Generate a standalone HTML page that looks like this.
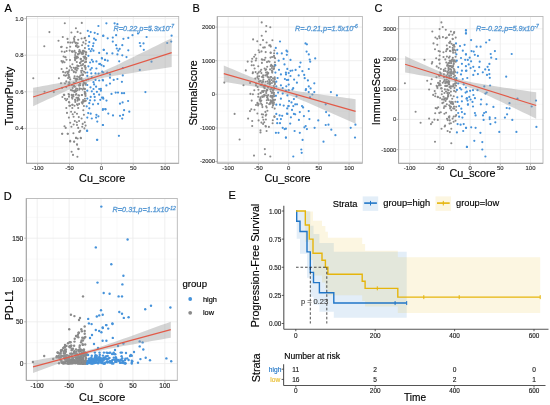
<!DOCTYPE html>
<html><head><meta charset="utf-8"><style>
html,body{margin:0;padding:0;background:#fff;width:550px;height:405px;overflow:hidden}
svg{display:block;filter:blur(0.35px)}
text{font-family:"Liberation Sans", sans-serif}
</style></head><body>
<svg width="550" height="405" viewBox="0 0 550 405" font-family='"Liberation Sans", sans-serif'>
<rect width="550" height="405" fill="#fff"/>
<line x1="53.55" y1="16.5" x2="53.55" y2="163.3" stroke="#F3F3F3" stroke-width="0.5"/>
<line x1="85.45" y1="16.5" x2="85.45" y2="163.3" stroke="#F3F3F3" stroke-width="0.5"/>
<line x1="117.35" y1="16.5" x2="117.35" y2="163.3" stroke="#F3F3F3" stroke-width="0.5"/>
<line x1="149.25" y1="16.5" x2="149.25" y2="163.3" stroke="#F3F3F3" stroke-width="0.5"/>
<line x1="26.5" y1="36.90" x2="178.7" y2="36.90" stroke="#F3F3F3" stroke-width="0.5"/>
<line x1="26.5" y1="73.50" x2="178.7" y2="73.50" stroke="#F3F3F3" stroke-width="0.5"/>
<line x1="26.5" y1="110.10" x2="178.7" y2="110.10" stroke="#F3F3F3" stroke-width="0.5"/>
<line x1="26.5" y1="146.70" x2="178.7" y2="146.70" stroke="#F3F3F3" stroke-width="0.5"/>
<line x1="37.60" y1="16.5" x2="37.60" y2="163.3" stroke="#EBEBEB" stroke-width="0.8"/>
<line x1="69.50" y1="16.5" x2="69.50" y2="163.3" stroke="#EBEBEB" stroke-width="0.8"/>
<line x1="101.40" y1="16.5" x2="101.40" y2="163.3" stroke="#EBEBEB" stroke-width="0.8"/>
<line x1="133.30" y1="16.5" x2="133.30" y2="163.3" stroke="#EBEBEB" stroke-width="0.8"/>
<line x1="165.20" y1="16.5" x2="165.20" y2="163.3" stroke="#EBEBEB" stroke-width="0.8"/>
<line x1="26.5" y1="18.60" x2="178.7" y2="18.60" stroke="#EBEBEB" stroke-width="0.8"/>
<line x1="26.5" y1="55.20" x2="178.7" y2="55.20" stroke="#EBEBEB" stroke-width="0.8"/>
<line x1="26.5" y1="91.80" x2="178.7" y2="91.80" stroke="#EBEBEB" stroke-width="0.8"/>
<line x1="26.5" y1="128.40" x2="178.7" y2="128.40" stroke="#EBEBEB" stroke-width="0.8"/>
<circle cx="68.1" cy="78.0" r="1.05" fill="#8A8A8A"/>
<circle cx="79.9" cy="51.6" r="1.05" fill="#8A8A8A"/>
<circle cx="68.9" cy="102.0" r="1.05" fill="#8A8A8A"/>
<circle cx="65.5" cy="57.3" r="1.05" fill="#8A8A8A"/>
<circle cx="85.6" cy="84.8" r="1.05" fill="#8A8A8A"/>
<circle cx="75.2" cy="78.6" r="1.05" fill="#8A8A8A"/>
<circle cx="81.0" cy="65.4" r="1.05" fill="#8A8A8A"/>
<circle cx="68.5" cy="94.1" r="1.05" fill="#8A8A8A"/>
<circle cx="81.2" cy="78.7" r="1.05" fill="#8A8A8A"/>
<circle cx="83.6" cy="80.7" r="1.05" fill="#8A8A8A"/>
<circle cx="86.0" cy="61.5" r="1.05" fill="#8A8A8A"/>
<circle cx="79.1" cy="77.1" r="1.05" fill="#8A8A8A"/>
<circle cx="74.8" cy="83.1" r="1.05" fill="#8A8A8A"/>
<circle cx="71.7" cy="94.9" r="1.05" fill="#8A8A8A"/>
<circle cx="84.4" cy="57.2" r="1.05" fill="#8A8A8A"/>
<circle cx="77.3" cy="65.5" r="1.05" fill="#8A8A8A"/>
<circle cx="66.2" cy="100.2" r="1.05" fill="#8A8A8A"/>
<circle cx="76.6" cy="58.3" r="1.05" fill="#8A8A8A"/>
<circle cx="81.2" cy="61.3" r="1.05" fill="#8A8A8A"/>
<circle cx="84.9" cy="62.2" r="1.05" fill="#8A8A8A"/>
<circle cx="63.1" cy="61.2" r="1.05" fill="#8A8A8A"/>
<circle cx="74.6" cy="76.3" r="1.05" fill="#8A8A8A"/>
<circle cx="84.9" cy="89.1" r="1.05" fill="#8A8A8A"/>
<circle cx="74.5" cy="50.9" r="1.05" fill="#8A8A8A"/>
<circle cx="69.3" cy="105.8" r="1.05" fill="#8A8A8A"/>
<circle cx="77.2" cy="88.7" r="1.05" fill="#8A8A8A"/>
<circle cx="64.6" cy="51.9" r="1.05" fill="#8A8A8A"/>
<circle cx="84.0" cy="82.9" r="1.05" fill="#8A8A8A"/>
<circle cx="73.7" cy="67.8" r="1.05" fill="#8A8A8A"/>
<circle cx="66.5" cy="59.7" r="1.05" fill="#8A8A8A"/>
<circle cx="62.4" cy="97.0" r="1.05" fill="#8A8A8A"/>
<circle cx="77.3" cy="57.1" r="1.05" fill="#8A8A8A"/>
<circle cx="82.3" cy="61.0" r="1.05" fill="#8A8A8A"/>
<circle cx="65.0" cy="83.5" r="1.05" fill="#8A8A8A"/>
<circle cx="84.8" cy="51.5" r="1.05" fill="#8A8A8A"/>
<circle cx="83.4" cy="60.6" r="1.05" fill="#8A8A8A"/>
<circle cx="66.6" cy="51.0" r="1.05" fill="#8A8A8A"/>
<circle cx="73.3" cy="90.7" r="1.05" fill="#8A8A8A"/>
<circle cx="77.9" cy="97.8" r="1.05" fill="#8A8A8A"/>
<circle cx="71.2" cy="67.7" r="1.05" fill="#8A8A8A"/>
<circle cx="72.4" cy="104.8" r="1.05" fill="#8A8A8A"/>
<circle cx="85.5" cy="69.1" r="1.05" fill="#8A8A8A"/>
<circle cx="76.7" cy="67.6" r="1.05" fill="#8A8A8A"/>
<circle cx="82.5" cy="52.2" r="1.05" fill="#8A8A8A"/>
<circle cx="65.3" cy="72.6" r="1.05" fill="#8A8A8A"/>
<circle cx="72.0" cy="97.3" r="1.05" fill="#8A8A8A"/>
<circle cx="82.4" cy="80.6" r="1.05" fill="#8A8A8A"/>
<circle cx="81.0" cy="88.8" r="1.05" fill="#8A8A8A"/>
<circle cx="83.0" cy="101.9" r="1.05" fill="#8A8A8A"/>
<circle cx="69.0" cy="85.1" r="1.05" fill="#8A8A8A"/>
<circle cx="68.7" cy="74.8" r="1.05" fill="#8A8A8A"/>
<circle cx="83.1" cy="100.1" r="1.05" fill="#8A8A8A"/>
<circle cx="82.7" cy="52.0" r="1.05" fill="#8A8A8A"/>
<circle cx="75.0" cy="59.1" r="1.05" fill="#8A8A8A"/>
<circle cx="86.3" cy="58.1" r="1.05" fill="#8A8A8A"/>
<circle cx="72.0" cy="70.0" r="1.05" fill="#8A8A8A"/>
<circle cx="65.0" cy="98.7" r="1.05" fill="#8A8A8A"/>
<circle cx="80.6" cy="58.9" r="1.05" fill="#8A8A8A"/>
<circle cx="78.0" cy="54.4" r="1.05" fill="#8A8A8A"/>
<circle cx="80.1" cy="63.0" r="1.05" fill="#8A8A8A"/>
<circle cx="63.6" cy="56.5" r="1.05" fill="#8A8A8A"/>
<circle cx="79.1" cy="85.7" r="1.05" fill="#8A8A8A"/>
<circle cx="74.1" cy="86.0" r="1.05" fill="#8A8A8A"/>
<circle cx="74.8" cy="57.3" r="1.05" fill="#8A8A8A"/>
<circle cx="73.9" cy="72.1" r="1.05" fill="#8A8A8A"/>
<circle cx="85.0" cy="56.5" r="1.05" fill="#8A8A8A"/>
<circle cx="66.3" cy="81.4" r="1.05" fill="#8A8A8A"/>
<circle cx="85.8" cy="100.8" r="1.05" fill="#8A8A8A"/>
<circle cx="81.7" cy="53.7" r="1.05" fill="#8A8A8A"/>
<circle cx="83.4" cy="88.3" r="1.05" fill="#8A8A8A"/>
<circle cx="68.7" cy="76.0" r="1.05" fill="#8A8A8A"/>
<circle cx="64.3" cy="94.9" r="1.05" fill="#8A8A8A"/>
<circle cx="82.0" cy="95.1" r="1.05" fill="#8A8A8A"/>
<circle cx="82.7" cy="65.0" r="1.05" fill="#8A8A8A"/>
<circle cx="83.1" cy="64.0" r="1.05" fill="#8A8A8A"/>
<circle cx="68.5" cy="71.9" r="1.05" fill="#8A8A8A"/>
<circle cx="78.0" cy="66.0" r="1.05" fill="#8A8A8A"/>
<circle cx="80.0" cy="83.7" r="1.05" fill="#8A8A8A"/>
<circle cx="71.9" cy="84.9" r="1.05" fill="#8A8A8A"/>
<circle cx="74.9" cy="91.1" r="1.05" fill="#8A8A8A"/>
<circle cx="73.3" cy="94.7" r="1.05" fill="#8A8A8A"/>
<circle cx="76.2" cy="81.0" r="1.05" fill="#8A8A8A"/>
<circle cx="81.2" cy="79.0" r="1.05" fill="#8A8A8A"/>
<circle cx="72.4" cy="104.8" r="1.05" fill="#8A8A8A"/>
<circle cx="66.8" cy="68.2" r="1.05" fill="#8A8A8A"/>
<circle cx="79.0" cy="51.6" r="1.05" fill="#8A8A8A"/>
<circle cx="69.1" cy="94.8" r="1.05" fill="#8A8A8A"/>
<circle cx="83.1" cy="85.7" r="1.05" fill="#8A8A8A"/>
<circle cx="84.9" cy="92.3" r="1.05" fill="#8A8A8A"/>
<circle cx="73.5" cy="86.1" r="1.05" fill="#8A8A8A"/>
<circle cx="74.5" cy="92.0" r="1.05" fill="#8A8A8A"/>
<circle cx="75.6" cy="58.6" r="1.05" fill="#8A8A8A"/>
<circle cx="84.5" cy="88.7" r="1.05" fill="#8A8A8A"/>
<circle cx="82.4" cy="81.3" r="1.05" fill="#8A8A8A"/>
<circle cx="83.0" cy="75.1" r="1.05" fill="#8A8A8A"/>
<circle cx="79.3" cy="53.5" r="1.05" fill="#8A8A8A"/>
<circle cx="79.1" cy="95.6" r="1.05" fill="#8A8A8A"/>
<circle cx="81.8" cy="95.0" r="1.05" fill="#8A8A8A"/>
<circle cx="77.9" cy="99.4" r="1.05" fill="#8A8A8A"/>
<circle cx="67.3" cy="99.0" r="1.05" fill="#8A8A8A"/>
<circle cx="75.2" cy="55.1" r="1.05" fill="#8A8A8A"/>
<circle cx="80.3" cy="75.5" r="1.05" fill="#8A8A8A"/>
<circle cx="76.5" cy="97.7" r="1.05" fill="#8A8A8A"/>
<circle cx="68.5" cy="84.5" r="1.05" fill="#8A8A8A"/>
<circle cx="76.2" cy="79.6" r="1.05" fill="#8A8A8A"/>
<circle cx="78.0" cy="57.5" r="1.05" fill="#8A8A8A"/>
<circle cx="78.3" cy="98.3" r="1.05" fill="#8A8A8A"/>
<circle cx="69.7" cy="50.6" r="1.05" fill="#8A8A8A"/>
<circle cx="65.4" cy="75.7" r="1.05" fill="#8A8A8A"/>
<circle cx="85.9" cy="52.5" r="1.05" fill="#8A8A8A"/>
<circle cx="86.2" cy="80.0" r="1.05" fill="#8A8A8A"/>
<circle cx="67.8" cy="73.4" r="1.05" fill="#8A8A8A"/>
<circle cx="70.9" cy="90.0" r="1.05" fill="#8A8A8A"/>
<circle cx="78.8" cy="66.1" r="1.05" fill="#8A8A8A"/>
<circle cx="72.3" cy="98.6" r="1.05" fill="#8A8A8A"/>
<circle cx="82.8" cy="74.4" r="1.05" fill="#8A8A8A"/>
<circle cx="76.0" cy="91.3" r="1.05" fill="#8A8A8A"/>
<circle cx="85.9" cy="54.5" r="1.05" fill="#8A8A8A"/>
<circle cx="69.3" cy="70.3" r="1.05" fill="#8A8A8A"/>
<circle cx="78.2" cy="54.0" r="1.05" fill="#8A8A8A"/>
<circle cx="64.5" cy="62.3" r="1.05" fill="#8A8A8A"/>
<circle cx="75.6" cy="91.4" r="1.05" fill="#8A8A8A"/>
<circle cx="80.1" cy="51.6" r="1.05" fill="#8A8A8A"/>
<circle cx="64.0" cy="75.3" r="1.05" fill="#8A8A8A"/>
<circle cx="84.5" cy="101.2" r="1.05" fill="#8A8A8A"/>
<circle cx="75.1" cy="99.7" r="1.05" fill="#8A8A8A"/>
<circle cx="85.3" cy="72.8" r="1.05" fill="#8A8A8A"/>
<circle cx="82.4" cy="70.5" r="1.05" fill="#8A8A8A"/>
<circle cx="69.1" cy="82.2" r="1.05" fill="#8A8A8A"/>
<circle cx="66.3" cy="87.1" r="1.05" fill="#8A8A8A"/>
<circle cx="83.5" cy="101.3" r="1.05" fill="#8A8A8A"/>
<circle cx="76.9" cy="56.6" r="1.05" fill="#8A8A8A"/>
<circle cx="84.9" cy="98.7" r="1.05" fill="#8A8A8A"/>
<circle cx="85.8" cy="83.3" r="1.05" fill="#8A8A8A"/>
<circle cx="81.2" cy="70.9" r="1.05" fill="#8A8A8A"/>
<circle cx="70.1" cy="66.3" r="1.05" fill="#8A8A8A"/>
<circle cx="82.0" cy="68.2" r="1.05" fill="#8A8A8A"/>
<circle cx="81.5" cy="78.1" r="1.05" fill="#8A8A8A"/>
<circle cx="77.0" cy="104.2" r="1.05" fill="#8A8A8A"/>
<circle cx="69.5" cy="77.3" r="1.05" fill="#8A8A8A"/>
<circle cx="69.3" cy="102.5" r="1.05" fill="#8A8A8A"/>
<circle cx="77.8" cy="68.6" r="1.05" fill="#8A8A8A"/>
<circle cx="69.6" cy="83.3" r="1.05" fill="#8A8A8A"/>
<circle cx="75.9" cy="57.1" r="1.05" fill="#8A8A8A"/>
<circle cx="63.1" cy="71.9" r="1.05" fill="#8A8A8A"/>
<circle cx="79.6" cy="79.1" r="1.05" fill="#8A8A8A"/>
<circle cx="84.8" cy="101.1" r="1.05" fill="#8A8A8A"/>
<circle cx="85.4" cy="94.8" r="1.05" fill="#8A8A8A"/>
<circle cx="77.6" cy="79.3" r="1.05" fill="#8A8A8A"/>
<circle cx="75.8" cy="72.4" r="1.05" fill="#8A8A8A"/>
<circle cx="63.8" cy="94.7" r="1.05" fill="#8A8A8A"/>
<circle cx="72.0" cy="51.6" r="1.05" fill="#8A8A8A"/>
<circle cx="77.3" cy="90.2" r="1.05" fill="#8A8A8A"/>
<circle cx="76.7" cy="70.4" r="1.05" fill="#8A8A8A"/>
<circle cx="81.0" cy="59.1" r="1.05" fill="#8A8A8A"/>
<circle cx="61.0" cy="83.2" r="1.05" fill="#8A8A8A"/>
<circle cx="78.6" cy="98.5" r="1.05" fill="#8A8A8A"/>
<circle cx="76.3" cy="94.0" r="1.05" fill="#8A8A8A"/>
<circle cx="61.8" cy="51.5" r="1.05" fill="#8A8A8A"/>
<circle cx="79.9" cy="62.7" r="1.05" fill="#8A8A8A"/>
<circle cx="65.3" cy="57.2" r="1.05" fill="#8A8A8A"/>
<circle cx="75.3" cy="68.9" r="1.05" fill="#8A8A8A"/>
<circle cx="79.2" cy="99.7" r="1.05" fill="#8A8A8A"/>
<circle cx="75.1" cy="60.3" r="1.05" fill="#8A8A8A"/>
<circle cx="79.5" cy="50.1" r="1.05" fill="#8A8A8A"/>
<circle cx="75.6" cy="67.8" r="1.05" fill="#8A8A8A"/>
<circle cx="75.6" cy="52.8" r="1.05" fill="#8A8A8A"/>
<circle cx="79.1" cy="85.0" r="1.05" fill="#8A8A8A"/>
<circle cx="82.5" cy="103.6" r="1.05" fill="#8A8A8A"/>
<circle cx="74.9" cy="86.8" r="1.05" fill="#8A8A8A"/>
<circle cx="76.8" cy="62.0" r="1.05" fill="#8A8A8A"/>
<circle cx="84.7" cy="91.8" r="1.05" fill="#8A8A8A"/>
<circle cx="85.5" cy="96.0" r="1.05" fill="#8A8A8A"/>
<circle cx="85.1" cy="57.2" r="1.05" fill="#8A8A8A"/>
<circle cx="61.5" cy="61.1" r="1.05" fill="#8A8A8A"/>
<circle cx="76.2" cy="88.5" r="1.05" fill="#8A8A8A"/>
<circle cx="76.7" cy="78.7" r="1.05" fill="#8A8A8A"/>
<circle cx="82.7" cy="54.0" r="1.05" fill="#8A8A8A"/>
<circle cx="81.3" cy="52.7" r="1.05" fill="#8A8A8A"/>
<circle cx="72.1" cy="90.4" r="1.05" fill="#8A8A8A"/>
<circle cx="81.4" cy="72.7" r="1.05" fill="#8A8A8A"/>
<circle cx="73.4" cy="96.4" r="1.05" fill="#8A8A8A"/>
<circle cx="72.8" cy="51.7" r="1.05" fill="#8A8A8A"/>
<circle cx="72.1" cy="51.2" r="1.05" fill="#8A8A8A"/>
<circle cx="83.5" cy="56.8" r="1.05" fill="#8A8A8A"/>
<circle cx="85.9" cy="61.9" r="1.05" fill="#8A8A8A"/>
<circle cx="73.7" cy="82.8" r="1.05" fill="#8A8A8A"/>
<circle cx="73.7" cy="71.2" r="1.05" fill="#8A8A8A"/>
<circle cx="67.1" cy="71.8" r="1.05" fill="#8A8A8A"/>
<circle cx="62.5" cy="62.5" r="1.05" fill="#8A8A8A"/>
<circle cx="85.0" cy="65.7" r="1.05" fill="#8A8A8A"/>
<circle cx="72.7" cy="88.0" r="1.05" fill="#8A8A8A"/>
<circle cx="84.6" cy="66.6" r="1.05" fill="#8A8A8A"/>
<circle cx="75.4" cy="90.0" r="1.05" fill="#8A8A8A"/>
<circle cx="83.2" cy="84.4" r="1.05" fill="#8A8A8A"/>
<circle cx="70.0" cy="60.1" r="1.05" fill="#8A8A8A"/>
<circle cx="82.6" cy="89.6" r="1.05" fill="#8A8A8A"/>
<circle cx="84.8" cy="93.7" r="1.05" fill="#8A8A8A"/>
<circle cx="76.4" cy="57.5" r="1.05" fill="#8A8A8A"/>
<circle cx="84.7" cy="89.0" r="1.05" fill="#8A8A8A"/>
<circle cx="79.5" cy="88.2" r="1.05" fill="#8A8A8A"/>
<circle cx="75.6" cy="69.2" r="1.05" fill="#8A8A8A"/>
<circle cx="79.5" cy="77.0" r="1.05" fill="#8A8A8A"/>
<circle cx="81.8" cy="102.4" r="1.05" fill="#8A8A8A"/>
<circle cx="84.0" cy="71.7" r="1.05" fill="#8A8A8A"/>
<circle cx="75.3" cy="101.9" r="1.05" fill="#8A8A8A"/>
<circle cx="75.8" cy="94.8" r="1.05" fill="#8A8A8A"/>
<circle cx="66.6" cy="75.3" r="1.05" fill="#8A8A8A"/>
<circle cx="78.3" cy="95.3" r="1.05" fill="#8A8A8A"/>
<circle cx="84.5" cy="58.5" r="1.05" fill="#8A8A8A"/>
<circle cx="80.2" cy="85.2" r="1.05" fill="#8A8A8A"/>
<circle cx="69.0" cy="96.7" r="1.05" fill="#8A8A8A"/>
<circle cx="79.1" cy="103.9" r="1.05" fill="#8A8A8A"/>
<circle cx="70.2" cy="79.4" r="1.05" fill="#8A8A8A"/>
<circle cx="74.1" cy="86.0" r="1.05" fill="#8A8A8A"/>
<circle cx="80.1" cy="78.7" r="1.05" fill="#8A8A8A"/>
<circle cx="74.1" cy="78.2" r="1.05" fill="#8A8A8A"/>
<circle cx="75.3" cy="99.9" r="1.05" fill="#8A8A8A"/>
<circle cx="77.2" cy="76.6" r="1.05" fill="#8A8A8A"/>
<circle cx="72.4" cy="64.2" r="1.05" fill="#8A8A8A"/>
<circle cx="85.6" cy="67.6" r="1.05" fill="#8A8A8A"/>
<circle cx="84.4" cy="83.3" r="1.05" fill="#8A8A8A"/>
<circle cx="86.0" cy="59.2" r="1.05" fill="#8A8A8A"/>
<circle cx="85.5" cy="93.3" r="1.05" fill="#8A8A8A"/>
<circle cx="79.3" cy="89.7" r="1.05" fill="#8A8A8A"/>
<circle cx="82.1" cy="75.1" r="1.05" fill="#8A8A8A"/>
<circle cx="80.5" cy="62.8" r="1.05" fill="#8A8A8A"/>
<circle cx="62.1" cy="87.9" r="1.05" fill="#8A8A8A"/>
<circle cx="77.5" cy="100.7" r="1.05" fill="#8A8A8A"/>
<circle cx="72.5" cy="95.8" r="1.05" fill="#8A8A8A"/>
<circle cx="86.2" cy="52.4" r="1.05" fill="#8A8A8A"/>
<circle cx="85.9" cy="40.5" r="1.05" fill="#8A8A8A"/>
<circle cx="74.2" cy="41.7" r="1.05" fill="#8A8A8A"/>
<circle cx="78.2" cy="39.8" r="1.05" fill="#8A8A8A"/>
<circle cx="73.9" cy="38.3" r="1.05" fill="#8A8A8A"/>
<circle cx="85.6" cy="43.8" r="1.05" fill="#8A8A8A"/>
<circle cx="82.1" cy="45.3" r="1.05" fill="#8A8A8A"/>
<circle cx="83.5" cy="50.9" r="1.05" fill="#8A8A8A"/>
<circle cx="78.6" cy="46.6" r="1.05" fill="#8A8A8A"/>
<circle cx="72.3" cy="42.6" r="1.05" fill="#8A8A8A"/>
<circle cx="75.6" cy="42.9" r="1.05" fill="#8A8A8A"/>
<circle cx="77.6" cy="47.2" r="1.05" fill="#8A8A8A"/>
<circle cx="77.7" cy="43.2" r="1.05" fill="#8A8A8A"/>
<circle cx="84.5" cy="38.2" r="1.05" fill="#8A8A8A"/>
<circle cx="67.5" cy="38.9" r="1.05" fill="#8A8A8A"/>
<circle cx="84.9" cy="48.1" r="1.05" fill="#8A8A8A"/>
<circle cx="83.3" cy="53.3" r="1.05" fill="#8A8A8A"/>
<circle cx="75.5" cy="52.7" r="1.05" fill="#8A8A8A"/>
<circle cx="76.0" cy="46.3" r="1.05" fill="#8A8A8A"/>
<circle cx="82.8" cy="50.8" r="1.05" fill="#8A8A8A"/>
<circle cx="76.1" cy="45.6" r="1.05" fill="#8A8A8A"/>
<circle cx="70.3" cy="42.6" r="1.05" fill="#8A8A8A"/>
<circle cx="64.8" cy="23.3" r="1.05" fill="#8A8A8A"/>
<circle cx="81.8" cy="22.9" r="1.05" fill="#8A8A8A"/>
<circle cx="49.4" cy="32.1" r="1.05" fill="#8A8A8A"/>
<circle cx="44.3" cy="46.2" r="1.05" fill="#8A8A8A"/>
<circle cx="33.3" cy="78.2" r="1.05" fill="#8A8A8A"/>
<circle cx="58.9" cy="78.2" r="1.05" fill="#8A8A8A"/>
<circle cx="61.6" cy="69.0" r="1.05" fill="#8A8A8A"/>
<circle cx="58.5" cy="40.7" r="1.05" fill="#8A8A8A"/>
<circle cx="61.1" cy="47.1" r="1.05" fill="#8A8A8A"/>
<circle cx="44.5" cy="91.7" r="1.05" fill="#8A8A8A"/>
<circle cx="53.8" cy="92.1" r="1.05" fill="#8A8A8A"/>
<circle cx="75.9" cy="28.3" r="1.05" fill="#8A8A8A"/>
<circle cx="71.4" cy="32.5" r="1.05" fill="#8A8A8A"/>
<circle cx="77.6" cy="31.9" r="1.05" fill="#8A8A8A"/>
<circle cx="80.5" cy="33.3" r="1.05" fill="#8A8A8A"/>
<circle cx="62.8" cy="37.0" r="1.05" fill="#8A8A8A"/>
<circle cx="74.8" cy="36.7" r="1.05" fill="#8A8A8A"/>
<circle cx="81.6" cy="38.5" r="1.05" fill="#8A8A8A"/>
<circle cx="85.0" cy="37.8" r="1.05" fill="#8A8A8A"/>
<circle cx="74.2" cy="39.9" r="1.05" fill="#8A8A8A"/>
<circle cx="68.0" cy="42.4" r="1.05" fill="#8A8A8A"/>
<circle cx="75.9" cy="42.7" r="1.05" fill="#8A8A8A"/>
<circle cx="83.3" cy="42.4" r="1.05" fill="#8A8A8A"/>
<circle cx="76.8" cy="45.3" r="1.05" fill="#8A8A8A"/>
<circle cx="61.7" cy="46.7" r="1.05" fill="#8A8A8A"/>
<circle cx="66.8" cy="47.8" r="1.05" fill="#8A8A8A"/>
<circle cx="70.2" cy="46.7" r="1.05" fill="#8A8A8A"/>
<circle cx="66.3" cy="108.0" r="1.05" fill="#8A8A8A"/>
<circle cx="70.2" cy="105.7" r="1.05" fill="#8A8A8A"/>
<circle cx="72.3" cy="108.0" r="1.05" fill="#8A8A8A"/>
<circle cx="74.5" cy="105.7" r="1.05" fill="#8A8A8A"/>
<circle cx="77.6" cy="105.1" r="1.05" fill="#8A8A8A"/>
<circle cx="78.2" cy="108.0" r="1.05" fill="#8A8A8A"/>
<circle cx="83.9" cy="106.0" r="1.05" fill="#8A8A8A"/>
<circle cx="67.0" cy="112.9" r="1.05" fill="#8A8A8A"/>
<circle cx="71.1" cy="111.7" r="1.05" fill="#8A8A8A"/>
<circle cx="72.7" cy="114.2" r="1.05" fill="#8A8A8A"/>
<circle cx="74.8" cy="112.2" r="1.05" fill="#8A8A8A"/>
<circle cx="77.0" cy="113.7" r="1.05" fill="#8A8A8A"/>
<circle cx="83.3" cy="110.3" r="1.05" fill="#8A8A8A"/>
<circle cx="83.9" cy="114.8" r="1.05" fill="#8A8A8A"/>
<circle cx="68.9" cy="117.6" r="1.05" fill="#8A8A8A"/>
<circle cx="73.6" cy="116.7" r="1.05" fill="#8A8A8A"/>
<circle cx="78.8" cy="117.1" r="1.05" fill="#8A8A8A"/>
<circle cx="81.6" cy="118.5" r="1.05" fill="#8A8A8A"/>
<circle cx="74.8" cy="121.0" r="1.05" fill="#8A8A8A"/>
<circle cx="76.8" cy="122.2" r="1.05" fill="#8A8A8A"/>
<circle cx="79.1" cy="121.0" r="1.05" fill="#8A8A8A"/>
<circle cx="70.2" cy="122.8" r="1.05" fill="#8A8A8A"/>
<circle cx="84.8" cy="122.2" r="1.05" fill="#8A8A8A"/>
<circle cx="73.6" cy="124.5" r="1.05" fill="#8A8A8A"/>
<circle cx="77.0" cy="125.0" r="1.05" fill="#8A8A8A"/>
<circle cx="82.7" cy="123.9" r="1.05" fill="#8A8A8A"/>
<circle cx="64.5" cy="126.2" r="1.05" fill="#8A8A8A"/>
<circle cx="65.7" cy="127.9" r="1.05" fill="#8A8A8A"/>
<circle cx="71.4" cy="126.7" r="1.05" fill="#8A8A8A"/>
<circle cx="78.2" cy="127.9" r="1.05" fill="#8A8A8A"/>
<circle cx="82.2" cy="126.7" r="1.05" fill="#8A8A8A"/>
<circle cx="85.6" cy="125.6" r="1.05" fill="#8A8A8A"/>
<circle cx="80.2" cy="130.7" r="1.05" fill="#8A8A8A"/>
<circle cx="84.4" cy="128.4" r="1.05" fill="#8A8A8A"/>
<circle cx="62.3" cy="133.8" r="1.05" fill="#8A8A8A"/>
<circle cx="67.7" cy="133.8" r="1.05" fill="#8A8A8A"/>
<circle cx="73.4" cy="133.3" r="1.05" fill="#8A8A8A"/>
<circle cx="79.5" cy="131.8" r="1.05" fill="#8A8A8A"/>
<circle cx="76.1" cy="137.9" r="1.05" fill="#8A8A8A"/>
<circle cx="80.7" cy="137.9" r="1.05" fill="#8A8A8A"/>
<circle cx="70.2" cy="140.9" r="1.05" fill="#8A8A8A"/>
<circle cx="74.2" cy="141.5" r="1.05" fill="#8A8A8A"/>
<circle cx="77.0" cy="144.3" r="1.05" fill="#8A8A8A"/>
<circle cx="78.4" cy="148.9" r="1.05" fill="#8A8A8A"/>
<circle cx="62.1" cy="133.8" r="1.05" fill="#8A8A8A"/>
<circle cx="67.8" cy="133.8" r="1.05" fill="#8A8A8A"/>
<circle cx="79.3" cy="132.0" r="1.05" fill="#8A8A8A"/>
<circle cx="76.0" cy="137.9" r="1.05" fill="#8A8A8A"/>
<circle cx="77.6" cy="138.5" r="1.05" fill="#8A8A8A"/>
<circle cx="80.9" cy="138.2" r="1.05" fill="#8A8A8A"/>
<circle cx="70.2" cy="141.5" r="1.05" fill="#8A8A8A"/>
<circle cx="74.1" cy="141.8" r="1.05" fill="#8A8A8A"/>
<circle cx="77.1" cy="144.7" r="1.05" fill="#8A8A8A"/>
<circle cx="78.5" cy="149.1" r="1.05" fill="#8A8A8A"/>
<circle cx="71.6" cy="151.8" r="1.05" fill="#8A8A8A"/>
<circle cx="73.0" cy="154.9" r="1.05" fill="#8A8A8A"/>
<circle cx="77.4" cy="156.7" r="1.05" fill="#8A8A8A"/>
<circle cx="106.4" cy="23.3" r="1.1" fill="#4592DA"/>
<circle cx="114.6" cy="23.3" r="1.1" fill="#4592DA"/>
<circle cx="117.4" cy="24.2" r="1.1" fill="#4592DA"/>
<circle cx="103.3" cy="35.7" r="1.1" fill="#4592DA"/>
<circle cx="107.7" cy="38.3" r="1.1" fill="#4592DA"/>
<circle cx="112.8" cy="37.6" r="1.1" fill="#4592DA"/>
<circle cx="116.1" cy="35.2" r="1.1" fill="#4592DA"/>
<circle cx="123.4" cy="38.8" r="1.1" fill="#4592DA"/>
<circle cx="128.3" cy="37.9" r="1.1" fill="#4592DA"/>
<circle cx="132.5" cy="35.2" r="1.1" fill="#4592DA"/>
<circle cx="138.0" cy="33.4" r="1.1" fill="#4592DA"/>
<circle cx="146.6" cy="37.0" r="1.1" fill="#4592DA"/>
<circle cx="150.2" cy="30.2" r="1.1" fill="#4592DA"/>
<circle cx="171.6" cy="35.7" r="1.1" fill="#4592DA"/>
<circle cx="167.2" cy="43.0" r="1.1" fill="#4592DA"/>
<circle cx="171.2" cy="41.6" r="1.1" fill="#4592DA"/>
<circle cx="139.8" cy="43.0" r="1.1" fill="#4592DA"/>
<circle cx="143.5" cy="43.4" r="1.1" fill="#4592DA"/>
<circle cx="140.5" cy="46.1" r="1.1" fill="#4592DA"/>
<circle cx="143.8" cy="49.8" r="1.1" fill="#4592DA"/>
<circle cx="128.3" cy="50.3" r="1.1" fill="#4592DA"/>
<circle cx="122.3" cy="45.2" r="1.1" fill="#4592DA"/>
<circle cx="116.1" cy="45.2" r="1.1" fill="#4592DA"/>
<circle cx="112.8" cy="41.6" r="1.1" fill="#4592DA"/>
<circle cx="116.8" cy="48.5" r="1.1" fill="#4592DA"/>
<circle cx="119.7" cy="48.9" r="1.1" fill="#4592DA"/>
<circle cx="118.3" cy="50.7" r="1.1" fill="#4592DA"/>
<circle cx="103.7" cy="49.8" r="1.1" fill="#4592DA"/>
<circle cx="106.9" cy="53.4" r="1.1" fill="#4592DA"/>
<circle cx="112.4" cy="53.4" r="1.1" fill="#4592DA"/>
<circle cx="117.4" cy="54.4" r="1.1" fill="#4592DA"/>
<circle cx="122.3" cy="55.3" r="1.1" fill="#4592DA"/>
<circle cx="126.5" cy="57.1" r="1.1" fill="#4592DA"/>
<circle cx="101.8" cy="58.0" r="1.1" fill="#4592DA"/>
<circle cx="105.1" cy="59.8" r="1.1" fill="#4592DA"/>
<circle cx="107.7" cy="60.7" r="1.1" fill="#4592DA"/>
<circle cx="119.2" cy="61.3" r="1.1" fill="#4592DA"/>
<circle cx="100.0" cy="63.9" r="1.1" fill="#4592DA"/>
<circle cx="103.7" cy="66.2" r="1.1" fill="#4592DA"/>
<circle cx="122.8" cy="68.1" r="1.1" fill="#4592DA"/>
<circle cx="151.5" cy="61.7" r="1.1" fill="#4592DA"/>
<circle cx="139.8" cy="69.9" r="1.1" fill="#4592DA"/>
<circle cx="102.2" cy="71.7" r="1.1" fill="#4592DA"/>
<circle cx="107.3" cy="72.6" r="1.1" fill="#4592DA"/>
<circle cx="110.0" cy="74.4" r="1.1" fill="#4592DA"/>
<circle cx="122.8" cy="75.4" r="1.1" fill="#4592DA"/>
<circle cx="110.0" cy="77.7" r="1.1" fill="#4592DA"/>
<circle cx="113.7" cy="79.9" r="1.1" fill="#4592DA"/>
<circle cx="117.4" cy="79.0" r="1.1" fill="#4592DA"/>
<circle cx="121.9" cy="81.8" r="1.1" fill="#4592DA"/>
<circle cx="102.7" cy="79.9" r="1.1" fill="#4592DA"/>
<circle cx="106.4" cy="85.4" r="1.1" fill="#4592DA"/>
<circle cx="110.0" cy="83.6" r="1.1" fill="#4592DA"/>
<circle cx="100.9" cy="88.9" r="1.1" fill="#4592DA"/>
<circle cx="111.5" cy="93.9" r="1.1" fill="#4592DA"/>
<circle cx="115.7" cy="92.6" r="1.1" fill="#4592DA"/>
<circle cx="118.0" cy="92.6" r="1.1" fill="#4592DA"/>
<circle cx="121.9" cy="93.2" r="1.1" fill="#4592DA"/>
<circle cx="124.1" cy="93.2" r="1.1" fill="#4592DA"/>
<circle cx="145.4" cy="92.1" r="1.1" fill="#4592DA"/>
<circle cx="101.9" cy="97.6" r="1.1" fill="#4592DA"/>
<circle cx="103.3" cy="98.7" r="1.1" fill="#4592DA"/>
<circle cx="106.5" cy="100.6" r="1.1" fill="#4592DA"/>
<circle cx="120.0" cy="103.7" r="1.1" fill="#4592DA"/>
<circle cx="122.6" cy="102.4" r="1.1" fill="#4592DA"/>
<circle cx="128.1" cy="101.0" r="1.1" fill="#4592DA"/>
<circle cx="102.8" cy="109.9" r="1.1" fill="#4592DA"/>
<circle cx="105.6" cy="109.3" r="1.1" fill="#4592DA"/>
<circle cx="124.1" cy="110.2" r="1.1" fill="#4592DA"/>
<circle cx="129.3" cy="111.7" r="1.1" fill="#4592DA"/>
<circle cx="108.3" cy="113.6" r="1.1" fill="#4592DA"/>
<circle cx="113.0" cy="115.4" r="1.1" fill="#4592DA"/>
<circle cx="120.0" cy="115.8" r="1.1" fill="#4592DA"/>
<circle cx="123.1" cy="114.9" r="1.1" fill="#4592DA"/>
<circle cx="122.2" cy="118.6" r="1.1" fill="#4592DA"/>
<circle cx="102.8" cy="125.0" r="1.1" fill="#4592DA"/>
<circle cx="118.9" cy="135.8" r="1.1" fill="#4592DA"/>
<circle cx="98.4" cy="26.0" r="1.1" fill="#4592DA"/>
<circle cx="87.8" cy="30.8" r="1.1" fill="#4592DA"/>
<circle cx="90.7" cy="32.1" r="1.1" fill="#4592DA"/>
<circle cx="94.7" cy="32.8" r="1.1" fill="#4592DA"/>
<circle cx="97.7" cy="34.0" r="1.1" fill="#4592DA"/>
<circle cx="103.2" cy="35.9" r="1.1" fill="#4592DA"/>
<circle cx="89.0" cy="36.2" r="1.1" fill="#4592DA"/>
<circle cx="94.1" cy="38.7" r="1.1" fill="#4592DA"/>
<circle cx="95.8" cy="39.9" r="1.1" fill="#4592DA"/>
<circle cx="89.3" cy="42.1" r="1.1" fill="#4592DA"/>
<circle cx="93.5" cy="43.3" r="1.1" fill="#4592DA"/>
<circle cx="88.4" cy="45.8" r="1.1" fill="#4592DA"/>
<circle cx="93.0" cy="46.1" r="1.1" fill="#4592DA"/>
<circle cx="89.0" cy="49.0" r="1.1" fill="#4592DA"/>
<circle cx="91.8" cy="49.0" r="1.1" fill="#4592DA"/>
<circle cx="90.7" cy="51.2" r="1.1" fill="#4592DA"/>
<circle cx="93.5" cy="50.7" r="1.1" fill="#4592DA"/>
<circle cx="99.2" cy="52.9" r="1.1" fill="#4592DA"/>
<circle cx="103.8" cy="49.9" r="1.1" fill="#4592DA"/>
<circle cx="88.4" cy="55.8" r="1.1" fill="#4592DA"/>
<circle cx="91.8" cy="59.8" r="1.1" fill="#4592DA"/>
<circle cx="102.0" cy="58.6" r="1.1" fill="#4592DA"/>
<circle cx="104.9" cy="59.8" r="1.1" fill="#4592DA"/>
<circle cx="90.1" cy="62.5" r="1.1" fill="#4592DA"/>
<circle cx="93.0" cy="61.7" r="1.1" fill="#4592DA"/>
<circle cx="96.4" cy="61.4" r="1.1" fill="#4592DA"/>
<circle cx="99.2" cy="64.0" r="1.1" fill="#4592DA"/>
<circle cx="101.5" cy="65.1" r="1.1" fill="#4592DA"/>
<circle cx="88.4" cy="66.3" r="1.1" fill="#4592DA"/>
<circle cx="91.8" cy="68.0" r="1.1" fill="#4592DA"/>
<circle cx="96.4" cy="68.5" r="1.1" fill="#4592DA"/>
<circle cx="90.5" cy="69.7" r="1.1" fill="#4592DA"/>
<circle cx="87.3" cy="72.5" r="1.1" fill="#4592DA"/>
<circle cx="91.3" cy="73.4" r="1.1" fill="#4592DA"/>
<circle cx="95.5" cy="73.4" r="1.1" fill="#4592DA"/>
<circle cx="98.6" cy="73.6" r="1.1" fill="#4592DA"/>
<circle cx="103.2" cy="72.5" r="1.1" fill="#4592DA"/>
<circle cx="87.3" cy="75.9" r="1.1" fill="#4592DA"/>
<circle cx="91.8" cy="77.0" r="1.1" fill="#4592DA"/>
<circle cx="88.2" cy="79.3" r="1.1" fill="#4592DA"/>
<circle cx="95.5" cy="79.9" r="1.1" fill="#4592DA"/>
<circle cx="99.2" cy="80.5" r="1.1" fill="#4592DA"/>
<circle cx="103.0" cy="80.5" r="1.1" fill="#4592DA"/>
<circle cx="93.5" cy="82.2" r="1.1" fill="#4592DA"/>
<circle cx="94.1" cy="84.4" r="1.1" fill="#4592DA"/>
<circle cx="87.3" cy="85.0" r="1.1" fill="#4592DA"/>
<circle cx="96.1" cy="86.7" r="1.1" fill="#4592DA"/>
<circle cx="90.5" cy="87.3" r="1.1" fill="#4592DA"/>
<circle cx="93.5" cy="89.0" r="1.1" fill="#4592DA"/>
<circle cx="99.2" cy="89.0" r="1.1" fill="#4592DA"/>
<circle cx="87.3" cy="90.7" r="1.1" fill="#4592DA"/>
<circle cx="91.8" cy="91.3" r="1.1" fill="#4592DA"/>
<circle cx="96.9" cy="91.8" r="1.1" fill="#4592DA"/>
<circle cx="100.9" cy="90.7" r="1.1" fill="#4592DA"/>
<circle cx="93.9" cy="94.1" r="1.1" fill="#4592DA"/>
<circle cx="99.2" cy="94.7" r="1.1" fill="#4592DA"/>
<circle cx="90.7" cy="96.9" r="1.1" fill="#4592DA"/>
<circle cx="94.7" cy="96.9" r="1.1" fill="#4592DA"/>
<circle cx="103.0" cy="97.5" r="1.1" fill="#4592DA"/>
<circle cx="87.3" cy="98.6" r="1.1" fill="#4592DA"/>
<circle cx="90.1" cy="100.3" r="1.1" fill="#4592DA"/>
<circle cx="94.7" cy="100.3" r="1.1" fill="#4592DA"/>
<circle cx="100.3" cy="99.8" r="1.1" fill="#4592DA"/>
<circle cx="89.3" cy="103.2" r="1.1" fill="#4592DA"/>
<circle cx="93.0" cy="104.3" r="1.1" fill="#4592DA"/>
<circle cx="98.1" cy="103.8" r="1.1" fill="#4592DA"/>
<circle cx="86.7" cy="106.3" r="1.1" fill="#4592DA"/>
<circle cx="89.3" cy="108.3" r="1.1" fill="#4592DA"/>
<circle cx="88.2" cy="113.1" r="1.1" fill="#4592DA"/>
<circle cx="90.7" cy="113.7" r="1.1" fill="#4592DA"/>
<circle cx="87.3" cy="117.6" r="1.1" fill="#4592DA"/>
<circle cx="91.8" cy="118.5" r="1.1" fill="#4592DA"/>
<circle cx="96.4" cy="114.8" r="1.1" fill="#4592DA"/>
<circle cx="98.4" cy="116.3" r="1.1" fill="#4592DA"/>
<circle cx="96.1" cy="117.6" r="1.1" fill="#4592DA"/>
<circle cx="97.3" cy="121.6" r="1.1" fill="#4592DA"/>
<circle cx="103.0" cy="109.1" r="1.1" fill="#4592DA"/>
<circle cx="105.2" cy="109.1" r="1.1" fill="#4592DA"/>
<circle cx="103.0" cy="125.0" r="1.1" fill="#4592DA"/>
<circle cx="87.0" cy="130.7" r="1.1" fill="#4592DA"/>
<circle cx="97.3" cy="139.8" r="1.1" fill="#4592DA"/>
<circle cx="87.2" cy="130.9" r="1.1" fill="#4592DA"/>
<circle cx="97.0" cy="139.8" r="1.1" fill="#4592DA"/>
<polygon points="33.10,87.75 37.88,86.92 42.66,86.08 47.44,85.23 52.22,84.37 57.00,83.50 61.78,82.62 66.56,81.70 71.33,80.75 76.11,79.74 80.89,78.65 85.67,77.43 90.45,76.03 95.23,74.42 100.01,72.55 104.79,70.51 109.57,68.36 114.35,66.15 119.13,63.88 123.91,61.59 128.69,59.28 133.47,56.96 138.24,54.62 143.02,52.28 147.80,49.93 152.58,47.58 157.36,45.23 162.14,42.87 166.92,40.51 171.70,38.15 171.70,67.05 166.92,67.75 162.14,68.45 157.36,69.16 152.58,69.86 147.80,70.58 143.02,71.29 138.24,72.01 133.47,72.74 128.69,73.48 123.91,74.23 119.13,75.00 114.35,75.80 109.57,76.64 104.79,77.55 100.01,78.58 95.23,79.78 90.45,81.22 85.67,82.89 80.89,84.73 76.11,86.70 71.33,88.75 66.56,90.86 61.78,93.01 57.00,95.19 52.22,97.38 47.44,99.58 42.66,101.80 37.88,104.02 33.10,106.25" fill="#999999" fill-opacity="0.42"/>
<line x1="33.1" y1="97" x2="171.7" y2="52.6" stroke="#E25A48" stroke-width="1.2"/>
<rect x="26.5" y="16.5" width="152.2" height="146.8" fill="none" stroke="#B8B8B8" stroke-width="0.9"/>
<line x1="26.5" y1="16.5" x2="26.5" y2="163.3" stroke="#A6A6A6" stroke-width="1"/>
<line x1="26.5" y1="163.3" x2="178.7" y2="163.3" stroke="#A6A6A6" stroke-width="1"/>
<line x1="37.60" y1="163.3" x2="37.60" y2="165.3" stroke="#A6A6A6" stroke-width="0.8"/>
<text x="37.60" y="170.10" font-size="5.9" text-anchor="middle" fill="#333333"  stroke="#333333" stroke-width="0.15">-100</text>
<line x1="69.50" y1="163.3" x2="69.50" y2="165.3" stroke="#A6A6A6" stroke-width="0.8"/>
<text x="69.50" y="170.10" font-size="5.9" text-anchor="middle" fill="#333333"  stroke="#333333" stroke-width="0.15">-50</text>
<line x1="101.40" y1="163.3" x2="101.40" y2="165.3" stroke="#A6A6A6" stroke-width="0.8"/>
<text x="101.40" y="170.10" font-size="5.9" text-anchor="middle" fill="#333333"  stroke="#333333" stroke-width="0.15">0</text>
<line x1="133.30" y1="163.3" x2="133.30" y2="165.3" stroke="#A6A6A6" stroke-width="0.8"/>
<text x="133.30" y="170.10" font-size="5.9" text-anchor="middle" fill="#333333"  stroke="#333333" stroke-width="0.15">50</text>
<line x1="165.20" y1="163.3" x2="165.20" y2="165.3" stroke="#A6A6A6" stroke-width="0.8"/>
<text x="165.20" y="170.10" font-size="5.9" text-anchor="middle" fill="#333333"  stroke="#333333" stroke-width="0.15">100</text>
<line x1="24.5" y1="18.60" x2="26.5" y2="18.60" stroke="#A6A6A6" stroke-width="0.8"/>
<text x="23.50" y="20.50" font-size="5.9" text-anchor="end" fill="#333333"  stroke="#333333" stroke-width="0.15">1.0</text>
<line x1="24.5" y1="55.20" x2="26.5" y2="55.20" stroke="#A6A6A6" stroke-width="0.8"/>
<text x="23.50" y="57.10" font-size="5.9" text-anchor="end" fill="#333333"  stroke="#333333" stroke-width="0.15">0.8</text>
<line x1="24.5" y1="91.80" x2="26.5" y2="91.80" stroke="#A6A6A6" stroke-width="0.8"/>
<text x="23.50" y="93.70" font-size="5.9" text-anchor="end" fill="#333333"  stroke="#333333" stroke-width="0.15">0.6</text>
<line x1="24.5" y1="128.40" x2="26.5" y2="128.40" stroke="#A6A6A6" stroke-width="0.8"/>
<text x="23.50" y="130.30" font-size="5.9" text-anchor="end" fill="#333333"  stroke="#333333" stroke-width="0.15">0.4</text>
<text x="113.6" y="30.6" font-size="7.3" font-style="italic" fill="#5B9BD5" stroke="#5B9BD5" stroke-width="0.32">R=0.22,p=5.3x10<tspan font-size="5" dy="-2.6">-7</tspan></text>
<text x="102.20" y="181.70" font-size="10.8" text-anchor="middle" fill="#000"  stroke="#000" stroke-width="0.15">Cu_score</text>
<text transform="translate(12.7,125.6) rotate(-90)" font-size="10.9" stroke="#000" stroke-width="0.15">TumorPurity</text>
<text x="4.40" y="12.00" font-size="11" text-anchor="start" fill="#000"  stroke="#000" stroke-width="0.15">A</text>
<line x1="243.32" y1="16.5" x2="243.32" y2="163.1" stroke="#F3F3F3" stroke-width="0.5"/>
<line x1="273.54" y1="16.5" x2="273.54" y2="163.1" stroke="#F3F3F3" stroke-width="0.5"/>
<line x1="303.76" y1="16.5" x2="303.76" y2="163.1" stroke="#F3F3F3" stroke-width="0.5"/>
<line x1="333.98" y1="16.5" x2="333.98" y2="163.1" stroke="#F3F3F3" stroke-width="0.5"/>
<line x1="217.3" y1="43.90" x2="362.4" y2="43.90" stroke="#F3F3F3" stroke-width="0.5"/>
<line x1="217.3" y1="77.50" x2="362.4" y2="77.50" stroke="#F3F3F3" stroke-width="0.5"/>
<line x1="217.3" y1="111.10" x2="362.4" y2="111.10" stroke="#F3F3F3" stroke-width="0.5"/>
<line x1="217.3" y1="144.70" x2="362.4" y2="144.70" stroke="#F3F3F3" stroke-width="0.5"/>
<line x1="228.21" y1="16.5" x2="228.21" y2="163.1" stroke="#EBEBEB" stroke-width="0.8"/>
<line x1="258.43" y1="16.5" x2="258.43" y2="163.1" stroke="#EBEBEB" stroke-width="0.8"/>
<line x1="288.65" y1="16.5" x2="288.65" y2="163.1" stroke="#EBEBEB" stroke-width="0.8"/>
<line x1="318.87" y1="16.5" x2="318.87" y2="163.1" stroke="#EBEBEB" stroke-width="0.8"/>
<line x1="349.09" y1="16.5" x2="349.09" y2="163.1" stroke="#EBEBEB" stroke-width="0.8"/>
<line x1="217.3" y1="27.10" x2="362.4" y2="27.10" stroke="#EBEBEB" stroke-width="0.8"/>
<line x1="217.3" y1="60.70" x2="362.4" y2="60.70" stroke="#EBEBEB" stroke-width="0.8"/>
<line x1="217.3" y1="94.30" x2="362.4" y2="94.30" stroke="#EBEBEB" stroke-width="0.8"/>
<line x1="217.3" y1="127.90" x2="362.4" y2="127.90" stroke="#EBEBEB" stroke-width="0.8"/>
<line x1="217.3" y1="161.50" x2="362.4" y2="161.50" stroke="#EBEBEB" stroke-width="0.8"/>
<circle cx="262.1" cy="104.9" r="1.05" fill="#8A8A8A"/>
<circle cx="260.4" cy="98.5" r="1.05" fill="#8A8A8A"/>
<circle cx="264.5" cy="59.9" r="1.05" fill="#8A8A8A"/>
<circle cx="270.5" cy="57.6" r="1.05" fill="#8A8A8A"/>
<circle cx="273.8" cy="104.0" r="1.05" fill="#8A8A8A"/>
<circle cx="250.4" cy="93.9" r="1.05" fill="#8A8A8A"/>
<circle cx="257.6" cy="86.9" r="1.05" fill="#8A8A8A"/>
<circle cx="265.9" cy="119.5" r="1.05" fill="#8A8A8A"/>
<circle cx="266.9" cy="103.0" r="1.05" fill="#8A8A8A"/>
<circle cx="262.3" cy="96.3" r="1.05" fill="#8A8A8A"/>
<circle cx="270.5" cy="77.1" r="1.05" fill="#8A8A8A"/>
<circle cx="274.2" cy="81.7" r="1.05" fill="#8A8A8A"/>
<circle cx="255.6" cy="72.1" r="1.05" fill="#8A8A8A"/>
<circle cx="270.1" cy="69.4" r="1.05" fill="#8A8A8A"/>
<circle cx="265.7" cy="52.1" r="1.05" fill="#8A8A8A"/>
<circle cx="272.3" cy="71.5" r="1.05" fill="#8A8A8A"/>
<circle cx="272.1" cy="57.0" r="1.05" fill="#8A8A8A"/>
<circle cx="258.6" cy="79.0" r="1.05" fill="#8A8A8A"/>
<circle cx="252.7" cy="73.3" r="1.05" fill="#8A8A8A"/>
<circle cx="258.6" cy="120.4" r="1.05" fill="#8A8A8A"/>
<circle cx="266.0" cy="72.5" r="1.05" fill="#8A8A8A"/>
<circle cx="259.8" cy="81.4" r="1.05" fill="#8A8A8A"/>
<circle cx="274.1" cy="96.3" r="1.05" fill="#8A8A8A"/>
<circle cx="269.3" cy="45.4" r="1.05" fill="#8A8A8A"/>
<circle cx="268.2" cy="95.0" r="1.05" fill="#8A8A8A"/>
<circle cx="273.9" cy="92.8" r="1.05" fill="#8A8A8A"/>
<circle cx="261.4" cy="73.1" r="1.05" fill="#8A8A8A"/>
<circle cx="274.4" cy="116.4" r="1.05" fill="#8A8A8A"/>
<circle cx="272.4" cy="107.3" r="1.05" fill="#8A8A8A"/>
<circle cx="274.5" cy="116.9" r="1.05" fill="#8A8A8A"/>
<circle cx="267.5" cy="96.1" r="1.05" fill="#8A8A8A"/>
<circle cx="270.7" cy="52.9" r="1.05" fill="#8A8A8A"/>
<circle cx="266.3" cy="91.5" r="1.05" fill="#8A8A8A"/>
<circle cx="274.1" cy="53.3" r="1.05" fill="#8A8A8A"/>
<circle cx="257.4" cy="77.7" r="1.05" fill="#8A8A8A"/>
<circle cx="271.9" cy="83.0" r="1.05" fill="#8A8A8A"/>
<circle cx="274.7" cy="108.6" r="1.05" fill="#8A8A8A"/>
<circle cx="273.7" cy="96.3" r="1.05" fill="#8A8A8A"/>
<circle cx="255.8" cy="60.5" r="1.05" fill="#8A8A8A"/>
<circle cx="260.4" cy="97.3" r="1.05" fill="#8A8A8A"/>
<circle cx="270.7" cy="95.9" r="1.05" fill="#8A8A8A"/>
<circle cx="270.8" cy="100.2" r="1.05" fill="#8A8A8A"/>
<circle cx="273.5" cy="69.3" r="1.05" fill="#8A8A8A"/>
<circle cx="272.2" cy="95.9" r="1.05" fill="#8A8A8A"/>
<circle cx="266.7" cy="107.5" r="1.05" fill="#8A8A8A"/>
<circle cx="274.4" cy="79.4" r="1.05" fill="#8A8A8A"/>
<circle cx="267.9" cy="99.0" r="1.05" fill="#8A8A8A"/>
<circle cx="257.6" cy="103.8" r="1.05" fill="#8A8A8A"/>
<circle cx="273.7" cy="68.6" r="1.05" fill="#8A8A8A"/>
<circle cx="272.4" cy="40.3" r="1.05" fill="#8A8A8A"/>
<circle cx="268.2" cy="87.6" r="1.05" fill="#8A8A8A"/>
<circle cx="263.2" cy="77.4" r="1.05" fill="#8A8A8A"/>
<circle cx="260.4" cy="85.0" r="1.05" fill="#8A8A8A"/>
<circle cx="256.0" cy="83.5" r="1.05" fill="#8A8A8A"/>
<circle cx="273.9" cy="94.8" r="1.05" fill="#8A8A8A"/>
<circle cx="271.2" cy="77.1" r="1.05" fill="#8A8A8A"/>
<circle cx="270.6" cy="52.5" r="1.05" fill="#8A8A8A"/>
<circle cx="267.3" cy="97.2" r="1.05" fill="#8A8A8A"/>
<circle cx="262.0" cy="82.8" r="1.05" fill="#8A8A8A"/>
<circle cx="260.5" cy="101.7" r="1.05" fill="#8A8A8A"/>
<circle cx="274.3" cy="66.7" r="1.05" fill="#8A8A8A"/>
<circle cx="260.6" cy="93.0" r="1.05" fill="#8A8A8A"/>
<circle cx="251.7" cy="100.6" r="1.05" fill="#8A8A8A"/>
<circle cx="265.7" cy="81.8" r="1.05" fill="#8A8A8A"/>
<circle cx="272.8" cy="66.2" r="1.05" fill="#8A8A8A"/>
<circle cx="273.2" cy="81.4" r="1.05" fill="#8A8A8A"/>
<circle cx="256.3" cy="58.6" r="1.05" fill="#8A8A8A"/>
<circle cx="272.3" cy="97.2" r="1.05" fill="#8A8A8A"/>
<circle cx="259.2" cy="76.2" r="1.05" fill="#8A8A8A"/>
<circle cx="262.4" cy="91.6" r="1.05" fill="#8A8A8A"/>
<circle cx="272.3" cy="96.4" r="1.05" fill="#8A8A8A"/>
<circle cx="275.1" cy="58.2" r="1.05" fill="#8A8A8A"/>
<circle cx="263.2" cy="81.8" r="1.05" fill="#8A8A8A"/>
<circle cx="266.3" cy="90.6" r="1.05" fill="#8A8A8A"/>
<circle cx="266.2" cy="93.0" r="1.05" fill="#8A8A8A"/>
<circle cx="273.7" cy="100.6" r="1.05" fill="#8A8A8A"/>
<circle cx="268.4" cy="61.2" r="1.05" fill="#8A8A8A"/>
<circle cx="254.5" cy="109.8" r="1.05" fill="#8A8A8A"/>
<circle cx="261.7" cy="85.2" r="1.05" fill="#8A8A8A"/>
<circle cx="270.7" cy="66.0" r="1.05" fill="#8A8A8A"/>
<circle cx="264.3" cy="86.0" r="1.05" fill="#8A8A8A"/>
<circle cx="254.3" cy="90.2" r="1.05" fill="#8A8A8A"/>
<circle cx="273.0" cy="78.2" r="1.05" fill="#8A8A8A"/>
<circle cx="270.2" cy="102.9" r="1.05" fill="#8A8A8A"/>
<circle cx="261.3" cy="100.6" r="1.05" fill="#8A8A8A"/>
<circle cx="260.1" cy="100.5" r="1.05" fill="#8A8A8A"/>
<circle cx="264.9" cy="85.2" r="1.05" fill="#8A8A8A"/>
<circle cx="263.1" cy="123.9" r="1.05" fill="#8A8A8A"/>
<circle cx="269.5" cy="61.7" r="1.05" fill="#8A8A8A"/>
<circle cx="267.3" cy="72.3" r="1.05" fill="#8A8A8A"/>
<circle cx="275.0" cy="83.1" r="1.05" fill="#8A8A8A"/>
<circle cx="255.3" cy="78.6" r="1.05" fill="#8A8A8A"/>
<circle cx="251.3" cy="109.3" r="1.05" fill="#8A8A8A"/>
<circle cx="269.3" cy="82.3" r="1.05" fill="#8A8A8A"/>
<circle cx="273.0" cy="105.5" r="1.05" fill="#8A8A8A"/>
<circle cx="258.2" cy="96.8" r="1.05" fill="#8A8A8A"/>
<circle cx="270.3" cy="89.4" r="1.05" fill="#8A8A8A"/>
<circle cx="271.9" cy="70.6" r="1.05" fill="#8A8A8A"/>
<circle cx="260.7" cy="80.7" r="1.05" fill="#8A8A8A"/>
<circle cx="274.4" cy="50.5" r="1.05" fill="#8A8A8A"/>
<circle cx="266.3" cy="114.5" r="1.05" fill="#8A8A8A"/>
<circle cx="273.3" cy="92.6" r="1.05" fill="#8A8A8A"/>
<circle cx="252.9" cy="94.2" r="1.05" fill="#8A8A8A"/>
<circle cx="273.9" cy="68.5" r="1.05" fill="#8A8A8A"/>
<circle cx="273.8" cy="86.0" r="1.05" fill="#8A8A8A"/>
<circle cx="270.1" cy="83.4" r="1.05" fill="#8A8A8A"/>
<circle cx="270.6" cy="96.6" r="1.05" fill="#8A8A8A"/>
<circle cx="264.5" cy="94.8" r="1.05" fill="#8A8A8A"/>
<circle cx="263.2" cy="91.9" r="1.05" fill="#8A8A8A"/>
<circle cx="273.6" cy="93.2" r="1.05" fill="#8A8A8A"/>
<circle cx="269.6" cy="79.7" r="1.05" fill="#8A8A8A"/>
<circle cx="258.3" cy="66.3" r="1.05" fill="#8A8A8A"/>
<circle cx="272.2" cy="72.6" r="1.05" fill="#8A8A8A"/>
<circle cx="267.4" cy="90.1" r="1.05" fill="#8A8A8A"/>
<circle cx="261.4" cy="122.6" r="1.05" fill="#8A8A8A"/>
<circle cx="271.5" cy="101.2" r="1.05" fill="#8A8A8A"/>
<circle cx="266.1" cy="95.5" r="1.05" fill="#8A8A8A"/>
<circle cx="262.6" cy="81.4" r="1.05" fill="#8A8A8A"/>
<circle cx="259.8" cy="99.7" r="1.05" fill="#8A8A8A"/>
<circle cx="257.4" cy="73.8" r="1.05" fill="#8A8A8A"/>
<circle cx="258.7" cy="72.4" r="1.05" fill="#8A8A8A"/>
<circle cx="274.8" cy="79.1" r="1.05" fill="#8A8A8A"/>
<circle cx="268.6" cy="100.0" r="1.05" fill="#8A8A8A"/>
<circle cx="256.0" cy="85.4" r="1.05" fill="#8A8A8A"/>
<circle cx="271.7" cy="80.1" r="1.05" fill="#8A8A8A"/>
<circle cx="267.2" cy="97.6" r="1.05" fill="#8A8A8A"/>
<circle cx="272.8" cy="90.3" r="1.05" fill="#8A8A8A"/>
<circle cx="261.8" cy="114.3" r="1.05" fill="#8A8A8A"/>
<circle cx="267.2" cy="66.8" r="1.05" fill="#8A8A8A"/>
<circle cx="274.3" cy="57.2" r="1.05" fill="#8A8A8A"/>
<circle cx="271.6" cy="88.8" r="1.05" fill="#8A8A8A"/>
<circle cx="272.9" cy="92.4" r="1.05" fill="#8A8A8A"/>
<circle cx="275.1" cy="99.8" r="1.05" fill="#8A8A8A"/>
<circle cx="272.8" cy="120.2" r="1.05" fill="#8A8A8A"/>
<circle cx="254.6" cy="68.5" r="1.05" fill="#8A8A8A"/>
<circle cx="271.9" cy="65.8" r="1.05" fill="#8A8A8A"/>
<circle cx="271.2" cy="64.9" r="1.05" fill="#8A8A8A"/>
<circle cx="267.5" cy="74.0" r="1.05" fill="#8A8A8A"/>
<circle cx="268.2" cy="77.4" r="1.05" fill="#8A8A8A"/>
<circle cx="265.4" cy="111.9" r="1.05" fill="#8A8A8A"/>
<circle cx="271.2" cy="101.8" r="1.05" fill="#8A8A8A"/>
<circle cx="273.7" cy="89.2" r="1.05" fill="#8A8A8A"/>
<circle cx="274.0" cy="55.9" r="1.05" fill="#8A8A8A"/>
<circle cx="262.1" cy="76.9" r="1.05" fill="#8A8A8A"/>
<circle cx="269.0" cy="79.6" r="1.05" fill="#8A8A8A"/>
<circle cx="250.1" cy="82.9" r="1.05" fill="#8A8A8A"/>
<circle cx="274.8" cy="84.3" r="1.05" fill="#8A8A8A"/>
<circle cx="273.9" cy="102.5" r="1.05" fill="#8A8A8A"/>
<circle cx="266.2" cy="106.2" r="1.05" fill="#8A8A8A"/>
<circle cx="265.6" cy="85.7" r="1.05" fill="#8A8A8A"/>
<circle cx="267.0" cy="75.0" r="1.05" fill="#8A8A8A"/>
<circle cx="264.7" cy="88.2" r="1.05" fill="#8A8A8A"/>
<circle cx="274.3" cy="81.5" r="1.05" fill="#8A8A8A"/>
<circle cx="265.9" cy="126.6" r="1.05" fill="#8A8A8A"/>
<circle cx="265.7" cy="115.6" r="1.05" fill="#8A8A8A"/>
<circle cx="263.4" cy="79.8" r="1.05" fill="#8A8A8A"/>
<circle cx="264.4" cy="87.5" r="1.05" fill="#8A8A8A"/>
<circle cx="257.3" cy="41.2" r="1.05" fill="#8A8A8A"/>
<circle cx="273.0" cy="100.1" r="1.05" fill="#8A8A8A"/>
<circle cx="263.5" cy="86.6" r="1.05" fill="#8A8A8A"/>
<circle cx="258.4" cy="94.1" r="1.05" fill="#8A8A8A"/>
<circle cx="267.8" cy="87.0" r="1.05" fill="#8A8A8A"/>
<circle cx="267.0" cy="62.1" r="1.05" fill="#8A8A8A"/>
<circle cx="272.2" cy="102.6" r="1.05" fill="#8A8A8A"/>
<circle cx="264.6" cy="68.5" r="1.05" fill="#8A8A8A"/>
<circle cx="272.7" cy="100.9" r="1.05" fill="#8A8A8A"/>
<circle cx="267.2" cy="74.2" r="1.05" fill="#8A8A8A"/>
<circle cx="262.4" cy="96.9" r="1.05" fill="#8A8A8A"/>
<circle cx="265.3" cy="75.4" r="1.05" fill="#8A8A8A"/>
<circle cx="257.6" cy="76.4" r="1.05" fill="#8A8A8A"/>
<circle cx="267.4" cy="110.7" r="1.05" fill="#8A8A8A"/>
<circle cx="271.9" cy="68.0" r="1.05" fill="#8A8A8A"/>
<circle cx="269.7" cy="84.4" r="1.05" fill="#8A8A8A"/>
<circle cx="274.7" cy="77.4" r="1.05" fill="#8A8A8A"/>
<circle cx="257.4" cy="102.8" r="1.05" fill="#8A8A8A"/>
<circle cx="261.1" cy="103.7" r="1.05" fill="#8A8A8A"/>
<circle cx="262.4" cy="107.1" r="1.05" fill="#8A8A8A"/>
<circle cx="271.7" cy="92.9" r="1.05" fill="#8A8A8A"/>
<circle cx="257.4" cy="113.5" r="1.05" fill="#8A8A8A"/>
<circle cx="263.2" cy="47.6" r="1.05" fill="#8A8A8A"/>
<circle cx="273.2" cy="90.3" r="1.05" fill="#8A8A8A"/>
<circle cx="269.2" cy="104.1" r="1.05" fill="#8A8A8A"/>
<circle cx="258.1" cy="105.4" r="1.05" fill="#8A8A8A"/>
<circle cx="269.9" cy="81.4" r="1.05" fill="#8A8A8A"/>
<circle cx="274.3" cy="87.9" r="1.05" fill="#8A8A8A"/>
<circle cx="270.7" cy="100.7" r="1.05" fill="#8A8A8A"/>
<circle cx="273.7" cy="99.8" r="1.05" fill="#8A8A8A"/>
<circle cx="254.1" cy="56.7" r="1.05" fill="#8A8A8A"/>
<circle cx="259.0" cy="81.6" r="1.05" fill="#8A8A8A"/>
<circle cx="259.4" cy="52.3" r="1.05" fill="#8A8A8A"/>
<circle cx="264.0" cy="90.8" r="1.05" fill="#8A8A8A"/>
<circle cx="263.1" cy="114.5" r="1.05" fill="#8A8A8A"/>
<circle cx="263.1" cy="75.4" r="1.05" fill="#8A8A8A"/>
<circle cx="270.2" cy="77.7" r="1.05" fill="#8A8A8A"/>
<circle cx="270.8" cy="46.6" r="1.05" fill="#8A8A8A"/>
<circle cx="272.5" cy="103.8" r="1.05" fill="#8A8A8A"/>
<circle cx="274.9" cy="62.3" r="1.05" fill="#8A8A8A"/>
<circle cx="252.2" cy="121.0" r="1.05" fill="#8A8A8A"/>
<circle cx="262.2" cy="91.0" r="1.05" fill="#8A8A8A"/>
<circle cx="258.7" cy="104.1" r="1.05" fill="#8A8A8A"/>
<circle cx="263.4" cy="119.8" r="1.05" fill="#8A8A8A"/>
<circle cx="262.8" cy="59.7" r="1.05" fill="#8A8A8A"/>
<circle cx="265.5" cy="70.0" r="1.05" fill="#8A8A8A"/>
<circle cx="265.4" cy="57.8" r="1.05" fill="#8A8A8A"/>
<circle cx="261.9" cy="62.9" r="1.05" fill="#8A8A8A"/>
<circle cx="252.2" cy="58.8" r="1.05" fill="#8A8A8A"/>
<circle cx="262.6" cy="117.2" r="1.05" fill="#8A8A8A"/>
<circle cx="270.8" cy="91.3" r="1.05" fill="#8A8A8A"/>
<circle cx="258.4" cy="89.7" r="1.05" fill="#8A8A8A"/>
<circle cx="260.3" cy="71.3" r="1.05" fill="#8A8A8A"/>
<circle cx="252.9" cy="72.2" r="1.05" fill="#8A8A8A"/>
<circle cx="261.8" cy="59.4" r="1.05" fill="#8A8A8A"/>
<circle cx="266.2" cy="69.2" r="1.05" fill="#8A8A8A"/>
<circle cx="264.2" cy="95.1" r="1.05" fill="#8A8A8A"/>
<circle cx="256.0" cy="105.0" r="1.05" fill="#8A8A8A"/>
<circle cx="263.9" cy="96.6" r="1.05" fill="#8A8A8A"/>
<circle cx="261.2" cy="69.7" r="1.05" fill="#8A8A8A"/>
<circle cx="274.8" cy="65.1" r="1.05" fill="#8A8A8A"/>
<circle cx="267.4" cy="76.5" r="1.05" fill="#8A8A8A"/>
<circle cx="266.8" cy="100.3" r="1.05" fill="#8A8A8A"/>
<circle cx="267.9" cy="83.3" r="1.05" fill="#8A8A8A"/>
<circle cx="260.7" cy="92.9" r="1.05" fill="#8A8A8A"/>
<circle cx="261.5" cy="51.4" r="1.05" fill="#8A8A8A"/>
<circle cx="275.0" cy="64.8" r="1.05" fill="#8A8A8A"/>
<circle cx="272.4" cy="97.9" r="1.05" fill="#8A8A8A"/>
<circle cx="268.3" cy="73.1" r="1.05" fill="#8A8A8A"/>
<circle cx="267.0" cy="89.7" r="1.05" fill="#8A8A8A"/>
<circle cx="270.3" cy="103.8" r="1.05" fill="#8A8A8A"/>
<circle cx="267.6" cy="81.2" r="1.05" fill="#8A8A8A"/>
<circle cx="253.7" cy="65.2" r="1.05" fill="#8A8A8A"/>
<circle cx="261.7" cy="22.4" r="1.05" fill="#8A8A8A"/>
<circle cx="266.3" cy="26.0" r="1.05" fill="#8A8A8A"/>
<circle cx="270.3" cy="27.3" r="1.05" fill="#8A8A8A"/>
<circle cx="265.9" cy="31.5" r="1.05" fill="#8A8A8A"/>
<circle cx="261.7" cy="35.7" r="1.05" fill="#8A8A8A"/>
<circle cx="253.1" cy="39.4" r="1.05" fill="#8A8A8A"/>
<circle cx="263.0" cy="40.1" r="1.05" fill="#8A8A8A"/>
<circle cx="266.6" cy="42.5" r="1.05" fill="#8A8A8A"/>
<circle cx="260.4" cy="44.8" r="1.05" fill="#8A8A8A"/>
<circle cx="264.8" cy="47.4" r="1.05" fill="#8A8A8A"/>
<circle cx="270.3" cy="45.2" r="1.05" fill="#8A8A8A"/>
<circle cx="258.6" cy="50.3" r="1.05" fill="#8A8A8A"/>
<circle cx="251.7" cy="61.6" r="1.05" fill="#8A8A8A"/>
<circle cx="247.7" cy="61.6" r="1.05" fill="#8A8A8A"/>
<circle cx="245.8" cy="70.4" r="1.05" fill="#8A8A8A"/>
<circle cx="224.3" cy="82.6" r="1.05" fill="#8A8A8A"/>
<circle cx="243.5" cy="85.3" r="1.05" fill="#8A8A8A"/>
<circle cx="251.7" cy="65.3" r="1.05" fill="#8A8A8A"/>
<circle cx="255.3" cy="54.7" r="1.05" fill="#8A8A8A"/>
<circle cx="234.6" cy="113.9" r="1.05" fill="#8A8A8A"/>
<circle cx="239.6" cy="139.5" r="1.05" fill="#8A8A8A"/>
<circle cx="254.0" cy="155.6" r="1.05" fill="#8A8A8A"/>
<circle cx="264.8" cy="149.1" r="1.05" fill="#8A8A8A"/>
<circle cx="265.1" cy="154.3" r="1.05" fill="#8A8A8A"/>
<circle cx="270.3" cy="156.5" r="1.05" fill="#8A8A8A"/>
<circle cx="250.0" cy="111.1" r="1.05" fill="#8A8A8A"/>
<circle cx="248.1" cy="118.6" r="1.05" fill="#8A8A8A"/>
<circle cx="252.2" cy="126.0" r="1.05" fill="#8A8A8A"/>
<circle cx="260.5" cy="130.2" r="1.05" fill="#8A8A8A"/>
<circle cx="260.5" cy="132.4" r="1.05" fill="#8A8A8A"/>
<circle cx="266.6" cy="131.0" r="1.05" fill="#8A8A8A"/>
<circle cx="265.5" cy="126.0" r="1.05" fill="#8A8A8A"/>
<circle cx="268.9" cy="126.9" r="1.05" fill="#8A8A8A"/>
<circle cx="272.6" cy="123.2" r="1.05" fill="#8A8A8A"/>
<circle cx="264.2" cy="122.3" r="1.05" fill="#8A8A8A"/>
<circle cx="305.5" cy="43.4" r="1.1" fill="#4592DA"/>
<circle cx="306.9" cy="44.3" r="1.1" fill="#4592DA"/>
<circle cx="306.6" cy="51.6" r="1.1" fill="#4592DA"/>
<circle cx="308.8" cy="54.4" r="1.1" fill="#4592DA"/>
<circle cx="286.5" cy="50.7" r="1.1" fill="#4592DA"/>
<circle cx="286.8" cy="54.8" r="1.1" fill="#4592DA"/>
<circle cx="290.5" cy="59.9" r="1.1" fill="#4592DA"/>
<circle cx="309.7" cy="59.5" r="1.1" fill="#4592DA"/>
<circle cx="310.2" cy="61.7" r="1.1" fill="#4592DA"/>
<circle cx="315.2" cy="58.4" r="1.1" fill="#4592DA"/>
<circle cx="300.5" cy="62.6" r="1.1" fill="#4592DA"/>
<circle cx="299.6" cy="66.8" r="1.1" fill="#4592DA"/>
<circle cx="308.8" cy="69.0" r="1.1" fill="#4592DA"/>
<circle cx="295.6" cy="69.9" r="1.1" fill="#4592DA"/>
<circle cx="292.3" cy="70.5" r="1.1" fill="#4592DA"/>
<circle cx="290.5" cy="70.8" r="1.1" fill="#4592DA"/>
<circle cx="302.4" cy="71.2" r="1.1" fill="#4592DA"/>
<circle cx="288.7" cy="73.0" r="1.1" fill="#4592DA"/>
<circle cx="285.9" cy="72.7" r="1.1" fill="#4592DA"/>
<circle cx="298.7" cy="75.4" r="1.1" fill="#4592DA"/>
<circle cx="290.5" cy="76.0" r="1.1" fill="#4592DA"/>
<circle cx="304.2" cy="74.9" r="1.1" fill="#4592DA"/>
<circle cx="304.7" cy="78.2" r="1.1" fill="#4592DA"/>
<circle cx="307.9" cy="80.4" r="1.1" fill="#4592DA"/>
<circle cx="294.1" cy="79.6" r="1.1" fill="#4592DA"/>
<circle cx="296.9" cy="82.7" r="1.1" fill="#4592DA"/>
<circle cx="314.3" cy="83.3" r="1.1" fill="#4592DA"/>
<circle cx="286.8" cy="80.0" r="1.1" fill="#4592DA"/>
<circle cx="288.7" cy="84.6" r="1.1" fill="#4592DA"/>
<circle cx="308.8" cy="86.4" r="1.1" fill="#4592DA"/>
<circle cx="293.2" cy="88.2" r="1.1" fill="#4592DA"/>
<circle cx="306.0" cy="89.1" r="1.1" fill="#4592DA"/>
<circle cx="285.9" cy="90.8" r="1.1" fill="#4592DA"/>
<circle cx="288.7" cy="90.2" r="1.1" fill="#4592DA"/>
<circle cx="292.4" cy="89.5" r="1.1" fill="#4592DA"/>
<circle cx="305.7" cy="90.2" r="1.1" fill="#4592DA"/>
<circle cx="308.7" cy="92.1" r="1.1" fill="#4592DA"/>
<circle cx="314.3" cy="92.1" r="1.1" fill="#4592DA"/>
<circle cx="330.9" cy="92.1" r="1.1" fill="#4592DA"/>
<circle cx="310.6" cy="88.4" r="1.1" fill="#4592DA"/>
<circle cx="336.9" cy="95.4" r="1.1" fill="#4592DA"/>
<circle cx="312.4" cy="94.5" r="1.1" fill="#4592DA"/>
<circle cx="296.5" cy="96.3" r="1.1" fill="#4592DA"/>
<circle cx="310.0" cy="97.3" r="1.1" fill="#4592DA"/>
<circle cx="289.1" cy="101.0" r="1.1" fill="#4592DA"/>
<circle cx="291.5" cy="102.4" r="1.1" fill="#4592DA"/>
<circle cx="293.9" cy="99.1" r="1.1" fill="#4592DA"/>
<circle cx="295.2" cy="104.3" r="1.1" fill="#4592DA"/>
<circle cx="297.0" cy="104.3" r="1.1" fill="#4592DA"/>
<circle cx="288.7" cy="106.1" r="1.1" fill="#4592DA"/>
<circle cx="293.3" cy="106.1" r="1.1" fill="#4592DA"/>
<circle cx="302.0" cy="106.1" r="1.1" fill="#4592DA"/>
<circle cx="303.1" cy="107.4" r="1.1" fill="#4592DA"/>
<circle cx="325.7" cy="104.3" r="1.1" fill="#4592DA"/>
<circle cx="287.2" cy="108.4" r="1.1" fill="#4592DA"/>
<circle cx="292.0" cy="109.9" r="1.1" fill="#4592DA"/>
<circle cx="299.8" cy="112.1" r="1.1" fill="#4592DA"/>
<circle cx="308.7" cy="111.1" r="1.1" fill="#4592DA"/>
<circle cx="326.1" cy="112.1" r="1.1" fill="#4592DA"/>
<circle cx="286.9" cy="113.6" r="1.1" fill="#4592DA"/>
<circle cx="293.9" cy="113.9" r="1.1" fill="#4592DA"/>
<circle cx="295.2" cy="114.3" r="1.1" fill="#4592DA"/>
<circle cx="303.9" cy="116.1" r="1.1" fill="#4592DA"/>
<circle cx="329.1" cy="115.4" r="1.1" fill="#4592DA"/>
<circle cx="290.9" cy="117.3" r="1.1" fill="#4592DA"/>
<circle cx="298.9" cy="119.9" r="1.1" fill="#4592DA"/>
<circle cx="309.4" cy="119.1" r="1.1" fill="#4592DA"/>
<circle cx="318.3" cy="120.4" r="1.1" fill="#4592DA"/>
<circle cx="290.2" cy="123.6" r="1.1" fill="#4592DA"/>
<circle cx="325.7" cy="125.0" r="1.1" fill="#4592DA"/>
<circle cx="328.5" cy="124.7" r="1.1" fill="#4592DA"/>
<circle cx="355.4" cy="124.7" r="1.1" fill="#4592DA"/>
<circle cx="304.4" cy="127.3" r="1.1" fill="#4592DA"/>
<circle cx="305.7" cy="126.0" r="1.1" fill="#4592DA"/>
<circle cx="306.9" cy="129.1" r="1.1" fill="#4592DA"/>
<circle cx="314.6" cy="127.8" r="1.1" fill="#4592DA"/>
<circle cx="350.7" cy="127.8" r="1.1" fill="#4592DA"/>
<circle cx="285.9" cy="128.7" r="1.1" fill="#4592DA"/>
<circle cx="294.6" cy="131.0" r="1.1" fill="#4592DA"/>
<circle cx="299.8" cy="132.8" r="1.1" fill="#4592DA"/>
<circle cx="331.3" cy="129.7" r="1.1" fill="#4592DA"/>
<circle cx="335.4" cy="135.2" r="1.1" fill="#4592DA"/>
<circle cx="285.9" cy="137.6" r="1.1" fill="#4592DA"/>
<circle cx="302.6" cy="139.9" r="1.1" fill="#4592DA"/>
<circle cx="323.5" cy="141.7" r="1.1" fill="#4592DA"/>
<circle cx="355.0" cy="137.6" r="1.1" fill="#4592DA"/>
<circle cx="301.3" cy="149.5" r="1.1" fill="#4592DA"/>
<circle cx="301.7" cy="152.8" r="1.1" fill="#4592DA"/>
<circle cx="293.3" cy="156.5" r="1.1" fill="#4592DA"/>
<circle cx="280.0" cy="41.5" r="1.1" fill="#4592DA"/>
<circle cx="275.8" cy="47.9" r="1.1" fill="#4592DA"/>
<circle cx="281.8" cy="53.4" r="1.1" fill="#4592DA"/>
<circle cx="287.3" cy="51.6" r="1.1" fill="#4592DA"/>
<circle cx="277.2" cy="53.4" r="1.1" fill="#4592DA"/>
<circle cx="283.6" cy="58.9" r="1.1" fill="#4592DA"/>
<circle cx="278.7" cy="60.7" r="1.1" fill="#4592DA"/>
<circle cx="275.4" cy="65.3" r="1.1" fill="#4592DA"/>
<circle cx="284.5" cy="64.4" r="1.1" fill="#4592DA"/>
<circle cx="279.0" cy="69.8" r="1.1" fill="#4592DA"/>
<circle cx="287.3" cy="68.9" r="1.1" fill="#4592DA"/>
<circle cx="275.4" cy="72.6" r="1.1" fill="#4592DA"/>
<circle cx="280.9" cy="74.4" r="1.1" fill="#4592DA"/>
<circle cx="286.0" cy="74.4" r="1.1" fill="#4592DA"/>
<circle cx="277.6" cy="78.0" r="1.1" fill="#4592DA"/>
<circle cx="284.9" cy="79.0" r="1.1" fill="#4592DA"/>
<circle cx="276.3" cy="81.7" r="1.1" fill="#4592DA"/>
<circle cx="288.2" cy="79.9" r="1.1" fill="#4592DA"/>
<circle cx="280.9" cy="85.3" r="1.1" fill="#4592DA"/>
<circle cx="286.3" cy="86.3" r="1.1" fill="#4592DA"/>
<circle cx="276.3" cy="86.3" r="1.1" fill="#4592DA"/>
<circle cx="282.7" cy="88.1" r="1.1" fill="#4592DA"/>
<circle cx="275.9" cy="95.8" r="1.1" fill="#4592DA"/>
<circle cx="280.9" cy="98.7" r="1.1" fill="#4592DA"/>
<circle cx="276.3" cy="104.7" r="1.1" fill="#4592DA"/>
<circle cx="280.0" cy="104.7" r="1.1" fill="#4592DA"/>
<circle cx="288.3" cy="106.1" r="1.1" fill="#4592DA"/>
<circle cx="283.7" cy="105.6" r="1.1" fill="#4592DA"/>
<circle cx="276.3" cy="113.9" r="1.1" fill="#4592DA"/>
<circle cx="279.6" cy="115.4" r="1.1" fill="#4592DA"/>
<circle cx="282.2" cy="115.8" r="1.1" fill="#4592DA"/>
<circle cx="277.2" cy="119.1" r="1.1" fill="#4592DA"/>
<circle cx="280.9" cy="119.1" r="1.1" fill="#4592DA"/>
<circle cx="287.4" cy="113.9" r="1.1" fill="#4592DA"/>
<circle cx="277.2" cy="123.2" r="1.1" fill="#4592DA"/>
<circle cx="280.0" cy="123.2" r="1.1" fill="#4592DA"/>
<circle cx="282.7" cy="127.8" r="1.1" fill="#4592DA"/>
<circle cx="284.6" cy="129.1" r="1.1" fill="#4592DA"/>
<circle cx="275.9" cy="132.8" r="1.1" fill="#4592DA"/>
<circle cx="278.5" cy="132.8" r="1.1" fill="#4592DA"/>
<circle cx="285.9" cy="137.6" r="1.1" fill="#4592DA"/>
<circle cx="278.1" cy="92.6" r="1.1" fill="#4592DA"/>
<circle cx="282.7" cy="93.6" r="1.1" fill="#4592DA"/>
<circle cx="287.4" cy="95.4" r="1.1" fill="#4592DA"/>
<polygon points="223.80,65.50 228.34,67.42 232.89,69.33 237.43,71.24 241.98,73.14 246.52,75.02 251.07,76.89 255.61,78.74 260.16,80.55 264.70,82.32 269.25,84.01 273.79,85.58 278.34,87.00 282.88,88.23 287.43,89.26 291.97,90.14 296.52,90.93 301.06,91.66 305.61,92.35 310.15,93.01 314.70,93.65 319.24,94.29 323.79,94.91 328.33,95.53 332.88,96.14 337.42,96.75 341.97,97.35 346.51,97.95 351.06,98.55 355.60,99.15 355.60,123.65 351.06,121.65 346.51,119.65 341.97,117.65 337.42,115.65 332.88,113.66 328.33,111.67 323.79,109.69 319.24,107.71 314.70,105.75 310.15,103.79 305.61,101.85 301.06,99.94 296.52,98.07 291.97,96.26 287.43,94.54 282.88,92.97 278.34,91.60 273.79,90.42 269.25,89.39 264.70,88.48 260.16,87.65 255.61,86.86 251.07,86.11 246.52,85.38 241.98,84.66 237.43,83.96 232.89,83.27 228.34,82.58 223.80,81.90" fill="#999999" fill-opacity="0.42"/>
<line x1="223.8" y1="73.7" x2="355.6" y2="111.4" stroke="#E25A48" stroke-width="1.2"/>
<rect x="217.3" y="16.5" width="145.09999999999997" height="146.6" fill="none" stroke="#B8B8B8" stroke-width="0.9"/>
<line x1="217.3" y1="16.5" x2="217.3" y2="163.1" stroke="#A6A6A6" stroke-width="1"/>
<line x1="217.3" y1="163.1" x2="362.4" y2="163.1" stroke="#A6A6A6" stroke-width="1"/>
<line x1="228.21" y1="163.1" x2="228.21" y2="165.1" stroke="#A6A6A6" stroke-width="0.8"/>
<text x="228.21" y="169.90" font-size="5.9" text-anchor="middle" fill="#333333"  stroke="#333333" stroke-width="0.15">-100</text>
<line x1="258.43" y1="163.1" x2="258.43" y2="165.1" stroke="#A6A6A6" stroke-width="0.8"/>
<text x="258.43" y="169.90" font-size="5.9" text-anchor="middle" fill="#333333"  stroke="#333333" stroke-width="0.15">-50</text>
<line x1="288.65" y1="163.1" x2="288.65" y2="165.1" stroke="#A6A6A6" stroke-width="0.8"/>
<text x="288.65" y="169.90" font-size="5.9" text-anchor="middle" fill="#333333"  stroke="#333333" stroke-width="0.15">0</text>
<line x1="318.87" y1="163.1" x2="318.87" y2="165.1" stroke="#A6A6A6" stroke-width="0.8"/>
<text x="318.87" y="169.90" font-size="5.9" text-anchor="middle" fill="#333333"  stroke="#333333" stroke-width="0.15">50</text>
<line x1="349.09" y1="163.1" x2="349.09" y2="165.1" stroke="#A6A6A6" stroke-width="0.8"/>
<text x="349.09" y="169.90" font-size="5.9" text-anchor="middle" fill="#333333"  stroke="#333333" stroke-width="0.15">100</text>
<line x1="215.3" y1="27.10" x2="217.3" y2="27.10" stroke="#A6A6A6" stroke-width="0.8"/>
<text x="215.10" y="29.00" font-size="5.9" text-anchor="end" fill="#333333"  stroke="#333333" stroke-width="0.15">2000</text>
<line x1="215.3" y1="60.70" x2="217.3" y2="60.70" stroke="#A6A6A6" stroke-width="0.8"/>
<text x="215.10" y="62.60" font-size="5.9" text-anchor="end" fill="#333333"  stroke="#333333" stroke-width="0.15">1000</text>
<line x1="215.3" y1="94.30" x2="217.3" y2="94.30" stroke="#A6A6A6" stroke-width="0.8"/>
<text x="215.10" y="96.20" font-size="5.9" text-anchor="end" fill="#333333"  stroke="#333333" stroke-width="0.15">0</text>
<line x1="215.3" y1="127.90" x2="217.3" y2="127.90" stroke="#A6A6A6" stroke-width="0.8"/>
<text x="215.10" y="129.80" font-size="5.9" text-anchor="end" fill="#333333"  stroke="#333333" stroke-width="0.15">-1000</text>
<line x1="215.3" y1="161.50" x2="217.3" y2="161.50" stroke="#A6A6A6" stroke-width="0.8"/>
<text x="215.10" y="163.40" font-size="5.9" text-anchor="end" fill="#333333"  stroke="#333333" stroke-width="0.15">-2000</text>
<text x="294.9" y="30.6" font-size="7.3" font-style="italic" fill="#5B9BD5" stroke="#5B9BD5" stroke-width="0.32">R=-0.21,p=1.5x10<tspan font-size="5" dy="-2.6">-6</tspan></text>
<text x="287.50" y="181.50" font-size="10.8" text-anchor="middle" fill="#000"  stroke="#000" stroke-width="0.15">Cu_score</text>
<text transform="translate(196.5,125.6) rotate(-90)" font-size="10.8" stroke="#000" stroke-width="0.15">StromalScore</text>
<text x="192.60" y="12.00" font-size="11" text-anchor="start" fill="#000"  stroke="#000" stroke-width="0.15">B</text>
<line x1="424.80" y1="16.5" x2="424.80" y2="163.3" stroke="#F3F3F3" stroke-width="0.5"/>
<line x1="455.00" y1="16.5" x2="455.00" y2="163.3" stroke="#F3F3F3" stroke-width="0.5"/>
<line x1="485.20" y1="16.5" x2="485.20" y2="163.3" stroke="#F3F3F3" stroke-width="0.5"/>
<line x1="515.40" y1="16.5" x2="515.40" y2="163.3" stroke="#F3F3F3" stroke-width="0.5"/>
<line x1="398.6" y1="43.90" x2="543" y2="43.90" stroke="#F3F3F3" stroke-width="0.5"/>
<line x1="398.6" y1="74.10" x2="543" y2="74.10" stroke="#F3F3F3" stroke-width="0.5"/>
<line x1="398.6" y1="104.30" x2="543" y2="104.30" stroke="#F3F3F3" stroke-width="0.5"/>
<line x1="398.6" y1="134.50" x2="543" y2="134.50" stroke="#F3F3F3" stroke-width="0.5"/>
<line x1="409.70" y1="16.5" x2="409.70" y2="163.3" stroke="#EBEBEB" stroke-width="0.8"/>
<line x1="439.90" y1="16.5" x2="439.90" y2="163.3" stroke="#EBEBEB" stroke-width="0.8"/>
<line x1="470.10" y1="16.5" x2="470.10" y2="163.3" stroke="#EBEBEB" stroke-width="0.8"/>
<line x1="500.30" y1="16.5" x2="500.30" y2="163.3" stroke="#EBEBEB" stroke-width="0.8"/>
<line x1="530.50" y1="16.5" x2="530.50" y2="163.3" stroke="#EBEBEB" stroke-width="0.8"/>
<line x1="398.6" y1="28.80" x2="543" y2="28.80" stroke="#EBEBEB" stroke-width="0.8"/>
<line x1="398.6" y1="59.00" x2="543" y2="59.00" stroke="#EBEBEB" stroke-width="0.8"/>
<line x1="398.6" y1="89.20" x2="543" y2="89.20" stroke="#EBEBEB" stroke-width="0.8"/>
<line x1="398.6" y1="119.40" x2="543" y2="119.40" stroke="#EBEBEB" stroke-width="0.8"/>
<line x1="398.6" y1="149.60" x2="543" y2="149.60" stroke="#EBEBEB" stroke-width="0.8"/>
<circle cx="454.4" cy="108.6" r="1.05" fill="#8A8A8A"/>
<circle cx="443.9" cy="108.0" r="1.05" fill="#8A8A8A"/>
<circle cx="455.5" cy="120.7" r="1.05" fill="#8A8A8A"/>
<circle cx="432.3" cy="62.1" r="1.05" fill="#8A8A8A"/>
<circle cx="456.0" cy="85.8" r="1.05" fill="#8A8A8A"/>
<circle cx="453.7" cy="68.8" r="1.05" fill="#8A8A8A"/>
<circle cx="447.7" cy="92.6" r="1.05" fill="#8A8A8A"/>
<circle cx="447.1" cy="65.8" r="1.05" fill="#8A8A8A"/>
<circle cx="439.6" cy="55.5" r="1.05" fill="#8A8A8A"/>
<circle cx="448.8" cy="117.0" r="1.05" fill="#8A8A8A"/>
<circle cx="453.2" cy="108.4" r="1.05" fill="#8A8A8A"/>
<circle cx="449.5" cy="123.6" r="1.05" fill="#8A8A8A"/>
<circle cx="456.1" cy="83.0" r="1.05" fill="#8A8A8A"/>
<circle cx="450.5" cy="51.2" r="1.05" fill="#8A8A8A"/>
<circle cx="439.6" cy="38.0" r="1.05" fill="#8A8A8A"/>
<circle cx="449.7" cy="101.6" r="1.05" fill="#8A8A8A"/>
<circle cx="449.7" cy="65.8" r="1.05" fill="#8A8A8A"/>
<circle cx="436.7" cy="66.4" r="1.05" fill="#8A8A8A"/>
<circle cx="437.9" cy="97.3" r="1.05" fill="#8A8A8A"/>
<circle cx="451.5" cy="43.8" r="1.05" fill="#8A8A8A"/>
<circle cx="452.6" cy="38.8" r="1.05" fill="#8A8A8A"/>
<circle cx="439.9" cy="51.5" r="1.05" fill="#8A8A8A"/>
<circle cx="452.8" cy="49.2" r="1.05" fill="#8A8A8A"/>
<circle cx="449.7" cy="56.6" r="1.05" fill="#8A8A8A"/>
<circle cx="455.5" cy="80.9" r="1.05" fill="#8A8A8A"/>
<circle cx="449.3" cy="81.8" r="1.05" fill="#8A8A8A"/>
<circle cx="441.1" cy="88.4" r="1.05" fill="#8A8A8A"/>
<circle cx="447.7" cy="74.1" r="1.05" fill="#8A8A8A"/>
<circle cx="447.3" cy="71.9" r="1.05" fill="#8A8A8A"/>
<circle cx="455.7" cy="91.7" r="1.05" fill="#8A8A8A"/>
<circle cx="455.3" cy="83.7" r="1.05" fill="#8A8A8A"/>
<circle cx="450.5" cy="66.0" r="1.05" fill="#8A8A8A"/>
<circle cx="453.4" cy="60.2" r="1.05" fill="#8A8A8A"/>
<circle cx="445.3" cy="59.4" r="1.05" fill="#8A8A8A"/>
<circle cx="447.4" cy="93.2" r="1.05" fill="#8A8A8A"/>
<circle cx="444.9" cy="89.4" r="1.05" fill="#8A8A8A"/>
<circle cx="446.1" cy="51.2" r="1.05" fill="#8A8A8A"/>
<circle cx="454.0" cy="44.8" r="1.05" fill="#8A8A8A"/>
<circle cx="449.7" cy="120.4" r="1.05" fill="#8A8A8A"/>
<circle cx="446.9" cy="56.6" r="1.05" fill="#8A8A8A"/>
<circle cx="453.7" cy="76.7" r="1.05" fill="#8A8A8A"/>
<circle cx="449.0" cy="57.8" r="1.05" fill="#8A8A8A"/>
<circle cx="446.4" cy="85.9" r="1.05" fill="#8A8A8A"/>
<circle cx="452.5" cy="34.7" r="1.05" fill="#8A8A8A"/>
<circle cx="448.0" cy="96.1" r="1.05" fill="#8A8A8A"/>
<circle cx="454.1" cy="49.5" r="1.05" fill="#8A8A8A"/>
<circle cx="453.0" cy="45.2" r="1.05" fill="#8A8A8A"/>
<circle cx="449.4" cy="116.3" r="1.05" fill="#8A8A8A"/>
<circle cx="446.4" cy="75.9" r="1.05" fill="#8A8A8A"/>
<circle cx="446.8" cy="104.2" r="1.05" fill="#8A8A8A"/>
<circle cx="453.4" cy="84.2" r="1.05" fill="#8A8A8A"/>
<circle cx="450.2" cy="41.6" r="1.05" fill="#8A8A8A"/>
<circle cx="451.3" cy="71.1" r="1.05" fill="#8A8A8A"/>
<circle cx="444.4" cy="113.8" r="1.05" fill="#8A8A8A"/>
<circle cx="455.7" cy="37.6" r="1.05" fill="#8A8A8A"/>
<circle cx="453.1" cy="52.7" r="1.05" fill="#8A8A8A"/>
<circle cx="445.1" cy="125.6" r="1.05" fill="#8A8A8A"/>
<circle cx="448.4" cy="80.9" r="1.05" fill="#8A8A8A"/>
<circle cx="448.2" cy="96.5" r="1.05" fill="#8A8A8A"/>
<circle cx="449.4" cy="78.2" r="1.05" fill="#8A8A8A"/>
<circle cx="451.1" cy="103.4" r="1.05" fill="#8A8A8A"/>
<circle cx="455.6" cy="56.8" r="1.05" fill="#8A8A8A"/>
<circle cx="450.2" cy="108.4" r="1.05" fill="#8A8A8A"/>
<circle cx="447.2" cy="49.1" r="1.05" fill="#8A8A8A"/>
<circle cx="436.2" cy="58.3" r="1.05" fill="#8A8A8A"/>
<circle cx="437.2" cy="86.6" r="1.05" fill="#8A8A8A"/>
<circle cx="452.8" cy="57.7" r="1.05" fill="#8A8A8A"/>
<circle cx="453.2" cy="66.1" r="1.05" fill="#8A8A8A"/>
<circle cx="448.8" cy="72.6" r="1.05" fill="#8A8A8A"/>
<circle cx="443.8" cy="69.9" r="1.05" fill="#8A8A8A"/>
<circle cx="444.6" cy="98.7" r="1.05" fill="#8A8A8A"/>
<circle cx="449.4" cy="87.0" r="1.05" fill="#8A8A8A"/>
<circle cx="439.5" cy="84.5" r="1.05" fill="#8A8A8A"/>
<circle cx="438.6" cy="67.8" r="1.05" fill="#8A8A8A"/>
<circle cx="439.4" cy="75.9" r="1.05" fill="#8A8A8A"/>
<circle cx="455.4" cy="101.7" r="1.05" fill="#8A8A8A"/>
<circle cx="451.1" cy="61.0" r="1.05" fill="#8A8A8A"/>
<circle cx="449.3" cy="76.0" r="1.05" fill="#8A8A8A"/>
<circle cx="452.0" cy="86.4" r="1.05" fill="#8A8A8A"/>
<circle cx="455.3" cy="52.8" r="1.05" fill="#8A8A8A"/>
<circle cx="451.1" cy="63.2" r="1.05" fill="#8A8A8A"/>
<circle cx="451.0" cy="72.8" r="1.05" fill="#8A8A8A"/>
<circle cx="446.1" cy="112.7" r="1.05" fill="#8A8A8A"/>
<circle cx="442.1" cy="99.4" r="1.05" fill="#8A8A8A"/>
<circle cx="450.8" cy="102.9" r="1.05" fill="#8A8A8A"/>
<circle cx="446.1" cy="81.4" r="1.05" fill="#8A8A8A"/>
<circle cx="453.8" cy="85.8" r="1.05" fill="#8A8A8A"/>
<circle cx="431.7" cy="79.3" r="1.05" fill="#8A8A8A"/>
<circle cx="447.4" cy="82.0" r="1.05" fill="#8A8A8A"/>
<circle cx="445.6" cy="98.2" r="1.05" fill="#8A8A8A"/>
<circle cx="452.7" cy="102.1" r="1.05" fill="#8A8A8A"/>
<circle cx="453.7" cy="116.6" r="1.05" fill="#8A8A8A"/>
<circle cx="449.4" cy="42.8" r="1.05" fill="#8A8A8A"/>
<circle cx="450.7" cy="106.9" r="1.05" fill="#8A8A8A"/>
<circle cx="453.7" cy="96.2" r="1.05" fill="#8A8A8A"/>
<circle cx="454.9" cy="83.6" r="1.05" fill="#8A8A8A"/>
<circle cx="439.7" cy="83.4" r="1.05" fill="#8A8A8A"/>
<circle cx="453.6" cy="64.2" r="1.05" fill="#8A8A8A"/>
<circle cx="452.7" cy="47.8" r="1.05" fill="#8A8A8A"/>
<circle cx="456.1" cy="110.2" r="1.05" fill="#8A8A8A"/>
<circle cx="436.4" cy="77.2" r="1.05" fill="#8A8A8A"/>
<circle cx="449.5" cy="42.9" r="1.05" fill="#8A8A8A"/>
<circle cx="443.9" cy="71.0" r="1.05" fill="#8A8A8A"/>
<circle cx="448.5" cy="68.9" r="1.05" fill="#8A8A8A"/>
<circle cx="447.7" cy="120.1" r="1.05" fill="#8A8A8A"/>
<circle cx="448.8" cy="82.2" r="1.05" fill="#8A8A8A"/>
<circle cx="446.7" cy="49.6" r="1.05" fill="#8A8A8A"/>
<circle cx="450.0" cy="69.1" r="1.05" fill="#8A8A8A"/>
<circle cx="441.7" cy="88.3" r="1.05" fill="#8A8A8A"/>
<circle cx="444.0" cy="99.8" r="1.05" fill="#8A8A8A"/>
<circle cx="452.2" cy="98.8" r="1.05" fill="#8A8A8A"/>
<circle cx="449.2" cy="84.5" r="1.05" fill="#8A8A8A"/>
<circle cx="442.3" cy="103.1" r="1.05" fill="#8A8A8A"/>
<circle cx="443.4" cy="102.5" r="1.05" fill="#8A8A8A"/>
<circle cx="454.5" cy="46.7" r="1.05" fill="#8A8A8A"/>
<circle cx="449.2" cy="117.7" r="1.05" fill="#8A8A8A"/>
<circle cx="449.9" cy="50.9" r="1.05" fill="#8A8A8A"/>
<circle cx="434.7" cy="91.1" r="1.05" fill="#8A8A8A"/>
<circle cx="440.1" cy="72.5" r="1.05" fill="#8A8A8A"/>
<circle cx="446.8" cy="37.5" r="1.05" fill="#8A8A8A"/>
<circle cx="453.1" cy="50.8" r="1.05" fill="#8A8A8A"/>
<circle cx="436.6" cy="85.7" r="1.05" fill="#8A8A8A"/>
<circle cx="448.6" cy="90.3" r="1.05" fill="#8A8A8A"/>
<circle cx="440.8" cy="73.9" r="1.05" fill="#8A8A8A"/>
<circle cx="451.6" cy="67.2" r="1.05" fill="#8A8A8A"/>
<circle cx="446.8" cy="76.9" r="1.05" fill="#8A8A8A"/>
<circle cx="452.9" cy="103.6" r="1.05" fill="#8A8A8A"/>
<circle cx="452.3" cy="67.2" r="1.05" fill="#8A8A8A"/>
<circle cx="455.7" cy="61.8" r="1.05" fill="#8A8A8A"/>
<circle cx="443.9" cy="74.4" r="1.05" fill="#8A8A8A"/>
<circle cx="447.6" cy="82.2" r="1.05" fill="#8A8A8A"/>
<circle cx="454.1" cy="46.0" r="1.05" fill="#8A8A8A"/>
<circle cx="439.3" cy="112.9" r="1.05" fill="#8A8A8A"/>
<circle cx="449.0" cy="35.0" r="1.05" fill="#8A8A8A"/>
<circle cx="446.1" cy="82.7" r="1.05" fill="#8A8A8A"/>
<circle cx="446.8" cy="79.5" r="1.05" fill="#8A8A8A"/>
<circle cx="453.8" cy="63.2" r="1.05" fill="#8A8A8A"/>
<circle cx="449.9" cy="60.8" r="1.05" fill="#8A8A8A"/>
<circle cx="456.2" cy="115.1" r="1.05" fill="#8A8A8A"/>
<circle cx="451.0" cy="69.5" r="1.05" fill="#8A8A8A"/>
<circle cx="450.4" cy="86.4" r="1.05" fill="#8A8A8A"/>
<circle cx="433.5" cy="43.4" r="1.05" fill="#8A8A8A"/>
<circle cx="453.2" cy="72.1" r="1.05" fill="#8A8A8A"/>
<circle cx="440.1" cy="98.0" r="1.05" fill="#8A8A8A"/>
<circle cx="435.2" cy="96.3" r="1.05" fill="#8A8A8A"/>
<circle cx="449.4" cy="77.1" r="1.05" fill="#8A8A8A"/>
<circle cx="447.3" cy="98.0" r="1.05" fill="#8A8A8A"/>
<circle cx="439.0" cy="85.4" r="1.05" fill="#8A8A8A"/>
<circle cx="447.3" cy="85.8" r="1.05" fill="#8A8A8A"/>
<circle cx="439.1" cy="75.5" r="1.05" fill="#8A8A8A"/>
<circle cx="452.0" cy="73.7" r="1.05" fill="#8A8A8A"/>
<circle cx="455.0" cy="75.7" r="1.05" fill="#8A8A8A"/>
<circle cx="448.1" cy="65.6" r="1.05" fill="#8A8A8A"/>
<circle cx="453.9" cy="74.1" r="1.05" fill="#8A8A8A"/>
<circle cx="455.6" cy="50.6" r="1.05" fill="#8A8A8A"/>
<circle cx="438.2" cy="107.3" r="1.05" fill="#8A8A8A"/>
<circle cx="444.4" cy="93.0" r="1.05" fill="#8A8A8A"/>
<circle cx="454.4" cy="61.3" r="1.05" fill="#8A8A8A"/>
<circle cx="445.7" cy="106.2" r="1.05" fill="#8A8A8A"/>
<circle cx="452.1" cy="103.6" r="1.05" fill="#8A8A8A"/>
<circle cx="452.6" cy="59.3" r="1.05" fill="#8A8A8A"/>
<circle cx="443.9" cy="77.1" r="1.05" fill="#8A8A8A"/>
<circle cx="435.6" cy="108.0" r="1.05" fill="#8A8A8A"/>
<circle cx="448.6" cy="83.6" r="1.05" fill="#8A8A8A"/>
<circle cx="449.3" cy="75.5" r="1.05" fill="#8A8A8A"/>
<circle cx="433.2" cy="94.9" r="1.05" fill="#8A8A8A"/>
<circle cx="451.1" cy="61.9" r="1.05" fill="#8A8A8A"/>
<circle cx="455.1" cy="72.1" r="1.05" fill="#8A8A8A"/>
<circle cx="435.0" cy="49.3" r="1.05" fill="#8A8A8A"/>
<circle cx="454.9" cy="78.8" r="1.05" fill="#8A8A8A"/>
<circle cx="439.7" cy="63.6" r="1.05" fill="#8A8A8A"/>
<circle cx="448.5" cy="83.7" r="1.05" fill="#8A8A8A"/>
<circle cx="443.4" cy="52.2" r="1.05" fill="#8A8A8A"/>
<circle cx="448.5" cy="67.2" r="1.05" fill="#8A8A8A"/>
<circle cx="456.2" cy="79.3" r="1.05" fill="#8A8A8A"/>
<circle cx="438.1" cy="82.9" r="1.05" fill="#8A8A8A"/>
<circle cx="444.8" cy="79.9" r="1.05" fill="#8A8A8A"/>
<circle cx="437.4" cy="87.9" r="1.05" fill="#8A8A8A"/>
<circle cx="447.0" cy="118.7" r="1.05" fill="#8A8A8A"/>
<circle cx="451.2" cy="77.7" r="1.05" fill="#8A8A8A"/>
<circle cx="453.1" cy="103.9" r="1.05" fill="#8A8A8A"/>
<circle cx="442.1" cy="91.3" r="1.05" fill="#8A8A8A"/>
<circle cx="442.9" cy="37.1" r="1.05" fill="#8A8A8A"/>
<circle cx="449.2" cy="93.1" r="1.05" fill="#8A8A8A"/>
<circle cx="450.8" cy="106.8" r="1.05" fill="#8A8A8A"/>
<circle cx="438.6" cy="51.0" r="1.05" fill="#8A8A8A"/>
<circle cx="446.7" cy="99.1" r="1.05" fill="#8A8A8A"/>
<circle cx="443.5" cy="57.0" r="1.05" fill="#8A8A8A"/>
<circle cx="444.4" cy="106.4" r="1.05" fill="#8A8A8A"/>
<circle cx="439.2" cy="36.4" r="1.05" fill="#8A8A8A"/>
<circle cx="447.5" cy="64.2" r="1.05" fill="#8A8A8A"/>
<circle cx="445.2" cy="85.9" r="1.05" fill="#8A8A8A"/>
<circle cx="454.3" cy="49.7" r="1.05" fill="#8A8A8A"/>
<circle cx="431.8" cy="63.6" r="1.05" fill="#8A8A8A"/>
<circle cx="445.6" cy="71.0" r="1.05" fill="#8A8A8A"/>
<circle cx="448.2" cy="94.8" r="1.05" fill="#8A8A8A"/>
<circle cx="438.9" cy="59.8" r="1.05" fill="#8A8A8A"/>
<circle cx="448.5" cy="63.0" r="1.05" fill="#8A8A8A"/>
<circle cx="447.3" cy="89.6" r="1.05" fill="#8A8A8A"/>
<circle cx="454.1" cy="90.9" r="1.05" fill="#8A8A8A"/>
<circle cx="454.7" cy="60.2" r="1.05" fill="#8A8A8A"/>
<circle cx="450.2" cy="73.8" r="1.05" fill="#8A8A8A"/>
<circle cx="451.0" cy="66.0" r="1.05" fill="#8A8A8A"/>
<circle cx="454.4" cy="70.0" r="1.05" fill="#8A8A8A"/>
<circle cx="437.3" cy="44.7" r="1.05" fill="#8A8A8A"/>
<circle cx="446.3" cy="62.5" r="1.05" fill="#8A8A8A"/>
<circle cx="451.7" cy="60.1" r="1.05" fill="#8A8A8A"/>
<circle cx="435.5" cy="93.5" r="1.05" fill="#8A8A8A"/>
<circle cx="454.5" cy="87.9" r="1.05" fill="#8A8A8A"/>
<circle cx="448.5" cy="70.5" r="1.05" fill="#8A8A8A"/>
<circle cx="441.8" cy="94.2" r="1.05" fill="#8A8A8A"/>
<circle cx="453.5" cy="72.7" r="1.05" fill="#8A8A8A"/>
<circle cx="452.8" cy="39.1" r="1.05" fill="#8A8A8A"/>
<circle cx="443.5" cy="96.8" r="1.05" fill="#8A8A8A"/>
<circle cx="446.5" cy="99.1" r="1.05" fill="#8A8A8A"/>
<circle cx="453.2" cy="61.4" r="1.05" fill="#8A8A8A"/>
<circle cx="450.7" cy="88.2" r="1.05" fill="#8A8A8A"/>
<circle cx="449.2" cy="105.3" r="1.05" fill="#8A8A8A"/>
<circle cx="451.3" cy="110.2" r="1.05" fill="#8A8A8A"/>
<circle cx="450.0" cy="106.5" r="1.05" fill="#8A8A8A"/>
<circle cx="449.6" cy="60.7" r="1.05" fill="#8A8A8A"/>
<circle cx="450.1" cy="72.1" r="1.05" fill="#8A8A8A"/>
<circle cx="444.5" cy="98.6" r="1.05" fill="#8A8A8A"/>
<circle cx="445.7" cy="38.1" r="1.05" fill="#8A8A8A"/>
<circle cx="450.9" cy="123.2" r="1.05" fill="#8A8A8A"/>
<circle cx="439.5" cy="59.5" r="1.05" fill="#8A8A8A"/>
<circle cx="445.2" cy="83.1" r="1.05" fill="#8A8A8A"/>
<circle cx="440.9" cy="69.0" r="1.05" fill="#8A8A8A"/>
<circle cx="447.4" cy="48.8" r="1.05" fill="#8A8A8A"/>
<circle cx="449.4" cy="63.0" r="1.05" fill="#8A8A8A"/>
<circle cx="446.8" cy="45.5" r="1.05" fill="#8A8A8A"/>
<circle cx="452.9" cy="50.5" r="1.05" fill="#8A8A8A"/>
<circle cx="449.8" cy="47.0" r="1.05" fill="#8A8A8A"/>
<circle cx="456.2" cy="106.7" r="1.05" fill="#8A8A8A"/>
<circle cx="454.0" cy="106.5" r="1.05" fill="#8A8A8A"/>
<circle cx="450.8" cy="95.4" r="1.05" fill="#8A8A8A"/>
<circle cx="444.4" cy="76.8" r="1.05" fill="#8A8A8A"/>
<circle cx="453.1" cy="86.3" r="1.05" fill="#8A8A8A"/>
<circle cx="435.2" cy="113.2" r="1.05" fill="#8A8A8A"/>
<circle cx="454.4" cy="61.2" r="1.05" fill="#8A8A8A"/>
<circle cx="449.9" cy="66.1" r="1.05" fill="#8A8A8A"/>
<circle cx="440.8" cy="112.3" r="1.05" fill="#8A8A8A"/>
<circle cx="434.4" cy="119.6" r="1.05" fill="#8A8A8A"/>
<circle cx="440.1" cy="81.0" r="1.05" fill="#8A8A8A"/>
<circle cx="445.5" cy="100.9" r="1.05" fill="#8A8A8A"/>
<circle cx="452.9" cy="66.4" r="1.05" fill="#8A8A8A"/>
<circle cx="446.0" cy="91.5" r="1.05" fill="#8A8A8A"/>
<circle cx="451.1" cy="75.3" r="1.05" fill="#8A8A8A"/>
<circle cx="455.5" cy="116.3" r="1.05" fill="#8A8A8A"/>
<circle cx="442.7" cy="82.7" r="1.05" fill="#8A8A8A"/>
<circle cx="443.9" cy="81.4" r="1.05" fill="#8A8A8A"/>
<circle cx="450.9" cy="91.6" r="1.05" fill="#8A8A8A"/>
<circle cx="451.5" cy="101.7" r="1.05" fill="#8A8A8A"/>
<circle cx="437.7" cy="96.9" r="1.05" fill="#8A8A8A"/>
<circle cx="437.0" cy="108.4" r="1.05" fill="#8A8A8A"/>
<circle cx="449.4" cy="34.5" r="1.05" fill="#8A8A8A"/>
<circle cx="440.6" cy="85.3" r="1.05" fill="#8A8A8A"/>
<circle cx="454.0" cy="32.9" r="1.05" fill="#8A8A8A"/>
<circle cx="445.3" cy="68.5" r="1.05" fill="#8A8A8A"/>
<circle cx="454.3" cy="71.0" r="1.05" fill="#8A8A8A"/>
<circle cx="441.4" cy="22.4" r="1.05" fill="#8A8A8A"/>
<circle cx="442.7" cy="27.0" r="1.05" fill="#8A8A8A"/>
<circle cx="439.6" cy="29.1" r="1.05" fill="#8A8A8A"/>
<circle cx="432.3" cy="31.5" r="1.05" fill="#8A8A8A"/>
<circle cx="445.8" cy="29.7" r="1.05" fill="#8A8A8A"/>
<circle cx="450.9" cy="31.5" r="1.05" fill="#8A8A8A"/>
<circle cx="454.2" cy="32.1" r="1.05" fill="#8A8A8A"/>
<circle cx="424.5" cy="59.8" r="1.05" fill="#8A8A8A"/>
<circle cx="404.9" cy="83.2" r="1.05" fill="#8A8A8A"/>
<circle cx="427.2" cy="80.8" r="1.05" fill="#8A8A8A"/>
<circle cx="430.8" cy="83.9" r="1.05" fill="#8A8A8A"/>
<circle cx="435.4" cy="37.5" r="1.05" fill="#8A8A8A"/>
<circle cx="437.2" cy="38.8" r="1.05" fill="#8A8A8A"/>
<circle cx="429.1" cy="89.5" r="1.05" fill="#8A8A8A"/>
<circle cx="415.6" cy="111.7" r="1.05" fill="#8A8A8A"/>
<circle cx="420.6" cy="122.8" r="1.05" fill="#8A8A8A"/>
<circle cx="429.1" cy="118.6" r="1.05" fill="#8A8A8A"/>
<circle cx="431.0" cy="124.1" r="1.05" fill="#8A8A8A"/>
<circle cx="432.3" cy="122.3" r="1.05" fill="#8A8A8A"/>
<circle cx="435.0" cy="141.7" r="1.05" fill="#8A8A8A"/>
<circle cx="451.3" cy="143.2" r="1.05" fill="#8A8A8A"/>
<circle cx="437.8" cy="119.9" r="1.05" fill="#8A8A8A"/>
<circle cx="441.5" cy="128.7" r="1.05" fill="#8A8A8A"/>
<circle cx="447.6" cy="131.0" r="1.05" fill="#8A8A8A"/>
<circle cx="449.9" cy="132.1" r="1.05" fill="#8A8A8A"/>
<circle cx="451.3" cy="128.7" r="1.05" fill="#8A8A8A"/>
<circle cx="444.7" cy="126.5" r="1.05" fill="#8A8A8A"/>
<circle cx="453.6" cy="121.7" r="1.05" fill="#8A8A8A"/>
<circle cx="452.6" cy="118.6" r="1.05" fill="#8A8A8A"/>
<circle cx="471.1" cy="40.1" r="1.1" fill="#4592DA"/>
<circle cx="486.1" cy="42.5" r="1.1" fill="#4592DA"/>
<circle cx="489.4" cy="40.1" r="1.1" fill="#4592DA"/>
<circle cx="476.6" cy="46.7" r="1.1" fill="#4592DA"/>
<circle cx="480.6" cy="46.7" r="1.1" fill="#4592DA"/>
<circle cx="471.5" cy="51.1" r="1.1" fill="#4592DA"/>
<circle cx="473.7" cy="51.6" r="1.1" fill="#4592DA"/>
<circle cx="494.9" cy="51.1" r="1.1" fill="#4592DA"/>
<circle cx="511.7" cy="54.0" r="1.1" fill="#4592DA"/>
<circle cx="474.8" cy="54.8" r="1.1" fill="#4592DA"/>
<circle cx="477.9" cy="55.9" r="1.1" fill="#4592DA"/>
<circle cx="469.7" cy="57.7" r="1.1" fill="#4592DA"/>
<circle cx="490.7" cy="54.0" r="1.1" fill="#4592DA"/>
<circle cx="491.2" cy="57.7" r="1.1" fill="#4592DA"/>
<circle cx="496.2" cy="59.0" r="1.1" fill="#4592DA"/>
<circle cx="467.8" cy="59.9" r="1.1" fill="#4592DA"/>
<circle cx="471.1" cy="61.3" r="1.1" fill="#4592DA"/>
<circle cx="479.7" cy="61.7" r="1.1" fill="#4592DA"/>
<circle cx="468.7" cy="64.4" r="1.1" fill="#4592DA"/>
<circle cx="489.4" cy="63.9" r="1.1" fill="#4592DA"/>
<circle cx="473.3" cy="66.8" r="1.1" fill="#4592DA"/>
<circle cx="479.2" cy="67.2" r="1.1" fill="#4592DA"/>
<circle cx="487.6" cy="66.8" r="1.1" fill="#4592DA"/>
<circle cx="470.6" cy="68.1" r="1.1" fill="#4592DA"/>
<circle cx="485.2" cy="69.4" r="1.1" fill="#4592DA"/>
<circle cx="488.9" cy="69.9" r="1.1" fill="#4592DA"/>
<circle cx="474.8" cy="70.8" r="1.1" fill="#4592DA"/>
<circle cx="482.8" cy="72.3" r="1.1" fill="#4592DA"/>
<circle cx="473.3" cy="74.9" r="1.1" fill="#4592DA"/>
<circle cx="477.9" cy="74.1" r="1.1" fill="#4592DA"/>
<circle cx="487.0" cy="74.9" r="1.1" fill="#4592DA"/>
<circle cx="489.4" cy="74.1" r="1.1" fill="#4592DA"/>
<circle cx="489.8" cy="77.8" r="1.1" fill="#4592DA"/>
<circle cx="506.2" cy="76.7" r="1.1" fill="#4592DA"/>
<circle cx="466.0" cy="30.6" r="1.1" fill="#4592DA"/>
<circle cx="466.0" cy="33.4" r="1.1" fill="#4592DA"/>
<circle cx="466.0" cy="54.4" r="1.1" fill="#4592DA"/>
<circle cx="466.0" cy="70.8" r="1.1" fill="#4592DA"/>
<circle cx="484.3" cy="86.4" r="1.1" fill="#4592DA"/>
<circle cx="490.1" cy="85.5" r="1.1" fill="#4592DA"/>
<circle cx="466.9" cy="91.7" r="1.1" fill="#4592DA"/>
<circle cx="470.1" cy="90.8" r="1.1" fill="#4592DA"/>
<circle cx="473.0" cy="90.2" r="1.1" fill="#4592DA"/>
<circle cx="477.5" cy="90.2" r="1.1" fill="#4592DA"/>
<circle cx="469.3" cy="96.9" r="1.1" fill="#4592DA"/>
<circle cx="473.4" cy="95.0" r="1.1" fill="#4592DA"/>
<circle cx="466.9" cy="98.2" r="1.1" fill="#4592DA"/>
<circle cx="470.6" cy="99.5" r="1.1" fill="#4592DA"/>
<circle cx="474.9" cy="98.2" r="1.1" fill="#4592DA"/>
<circle cx="467.5" cy="100.6" r="1.1" fill="#4592DA"/>
<circle cx="472.5" cy="101.9" r="1.1" fill="#4592DA"/>
<circle cx="481.2" cy="99.5" r="1.1" fill="#4592DA"/>
<circle cx="467.9" cy="104.7" r="1.1" fill="#4592DA"/>
<circle cx="480.8" cy="104.3" r="1.1" fill="#4592DA"/>
<circle cx="486.7" cy="104.3" r="1.1" fill="#4592DA"/>
<circle cx="473.0" cy="106.5" r="1.1" fill="#4592DA"/>
<circle cx="493.4" cy="106.9" r="1.1" fill="#4592DA"/>
<circle cx="485.4" cy="93.6" r="1.1" fill="#4592DA"/>
<circle cx="486.7" cy="92.6" r="1.1" fill="#4592DA"/>
<circle cx="509.5" cy="103.2" r="1.1" fill="#4592DA"/>
<circle cx="517.5" cy="98.7" r="1.1" fill="#4592DA"/>
<circle cx="536.0" cy="100.6" r="1.1" fill="#4592DA"/>
<circle cx="531.7" cy="106.5" r="1.1" fill="#4592DA"/>
<circle cx="506.7" cy="108.0" r="1.1" fill="#4592DA"/>
<circle cx="509.5" cy="108.4" r="1.1" fill="#4592DA"/>
<circle cx="474.9" cy="113.0" r="1.1" fill="#4592DA"/>
<circle cx="475.6" cy="115.4" r="1.1" fill="#4592DA"/>
<circle cx="484.1" cy="113.0" r="1.1" fill="#4592DA"/>
<circle cx="486.0" cy="112.1" r="1.1" fill="#4592DA"/>
<circle cx="483.0" cy="115.4" r="1.1" fill="#4592DA"/>
<circle cx="507.1" cy="114.3" r="1.1" fill="#4592DA"/>
<circle cx="489.7" cy="117.3" r="1.1" fill="#4592DA"/>
<circle cx="495.3" cy="118.0" r="1.1" fill="#4592DA"/>
<circle cx="504.9" cy="117.6" r="1.1" fill="#4592DA"/>
<circle cx="483.6" cy="119.9" r="1.1" fill="#4592DA"/>
<circle cx="489.7" cy="119.1" r="1.1" fill="#4592DA"/>
<circle cx="512.3" cy="119.9" r="1.1" fill="#4592DA"/>
<circle cx="495.3" cy="122.3" r="1.1" fill="#4592DA"/>
<circle cx="490.4" cy="124.1" r="1.1" fill="#4592DA"/>
<circle cx="536.4" cy="126.9" r="1.1" fill="#4592DA"/>
<circle cx="466.0" cy="127.8" r="1.1" fill="#4592DA"/>
<circle cx="471.2" cy="127.3" r="1.1" fill="#4592DA"/>
<circle cx="475.6" cy="127.8" r="1.1" fill="#4592DA"/>
<circle cx="499.3" cy="131.9" r="1.1" fill="#4592DA"/>
<circle cx="516.4" cy="131.9" r="1.1" fill="#4592DA"/>
<circle cx="480.4" cy="132.8" r="1.1" fill="#4592DA"/>
<circle cx="474.3" cy="140.8" r="1.1" fill="#4592DA"/>
<circle cx="482.3" cy="142.1" r="1.1" fill="#4592DA"/>
<circle cx="466.9" cy="146.9" r="1.1" fill="#4592DA"/>
<circle cx="482.3" cy="149.5" r="1.1" fill="#4592DA"/>
<circle cx="485.4" cy="156.5" r="1.1" fill="#4592DA"/>
<circle cx="465.9" cy="30.2" r="1.1" fill="#4592DA"/>
<circle cx="465.9" cy="33.3" r="1.1" fill="#4592DA"/>
<circle cx="456.0" cy="43.4" r="1.1" fill="#4592DA"/>
<circle cx="460.0" cy="46.1" r="1.1" fill="#4592DA"/>
<circle cx="464.6" cy="44.8" r="1.1" fill="#4592DA"/>
<circle cx="457.3" cy="49.8" r="1.1" fill="#4592DA"/>
<circle cx="462.8" cy="50.7" r="1.1" fill="#4592DA"/>
<circle cx="456.4" cy="54.3" r="1.1" fill="#4592DA"/>
<circle cx="465.9" cy="54.3" r="1.1" fill="#4592DA"/>
<circle cx="461.0" cy="58.0" r="1.1" fill="#4592DA"/>
<circle cx="465.2" cy="59.8" r="1.1" fill="#4592DA"/>
<circle cx="456.8" cy="60.7" r="1.1" fill="#4592DA"/>
<circle cx="461.9" cy="63.8" r="1.1" fill="#4592DA"/>
<circle cx="458.2" cy="67.1" r="1.1" fill="#4592DA"/>
<circle cx="465.9" cy="66.2" r="1.1" fill="#4592DA"/>
<circle cx="461.9" cy="70.7" r="1.1" fill="#4592DA"/>
<circle cx="457.3" cy="72.6" r="1.1" fill="#4592DA"/>
<circle cx="466.4" cy="70.7" r="1.1" fill="#4592DA"/>
<circle cx="461.0" cy="74.4" r="1.1" fill="#4592DA"/>
<circle cx="456.4" cy="78.0" r="1.1" fill="#4592DA"/>
<circle cx="462.8" cy="79.0" r="1.1" fill="#4592DA"/>
<circle cx="467.3" cy="78.0" r="1.1" fill="#4592DA"/>
<circle cx="458.2" cy="83.5" r="1.1" fill="#4592DA"/>
<circle cx="463.7" cy="84.4" r="1.1" fill="#4592DA"/>
<circle cx="460.0" cy="88.1" r="1.1" fill="#4592DA"/>
<circle cx="465.9" cy="87.5" r="1.1" fill="#4592DA"/>
<circle cx="456.9" cy="89.9" r="1.1" fill="#4592DA"/>
<circle cx="461.3" cy="89.5" r="1.1" fill="#4592DA"/>
<circle cx="465.6" cy="92.6" r="1.1" fill="#4592DA"/>
<circle cx="457.3" cy="97.3" r="1.1" fill="#4592DA"/>
<circle cx="461.9" cy="96.3" r="1.1" fill="#4592DA"/>
<circle cx="466.5" cy="98.7" r="1.1" fill="#4592DA"/>
<circle cx="457.6" cy="101.9" r="1.1" fill="#4592DA"/>
<circle cx="461.9" cy="101.3" r="1.1" fill="#4592DA"/>
<circle cx="468.0" cy="104.3" r="1.1" fill="#4592DA"/>
<circle cx="459.1" cy="106.1" r="1.1" fill="#4592DA"/>
<circle cx="461.3" cy="108.7" r="1.1" fill="#4592DA"/>
<circle cx="458.2" cy="113.0" r="1.1" fill="#4592DA"/>
<circle cx="461.9" cy="112.1" r="1.1" fill="#4592DA"/>
<circle cx="464.7" cy="113.9" r="1.1" fill="#4592DA"/>
<circle cx="459.1" cy="116.7" r="1.1" fill="#4592DA"/>
<circle cx="462.4" cy="117.6" r="1.1" fill="#4592DA"/>
<circle cx="457.6" cy="124.1" r="1.1" fill="#4592DA"/>
<circle cx="460.6" cy="124.7" r="1.1" fill="#4592DA"/>
<circle cx="463.7" cy="124.1" r="1.1" fill="#4592DA"/>
<circle cx="466.1" cy="127.8" r="1.1" fill="#4592DA"/>
<circle cx="456.9" cy="132.4" r="1.1" fill="#4592DA"/>
<circle cx="463.2" cy="131.0" r="1.1" fill="#4592DA"/>
<circle cx="466.9" cy="146.9" r="1.1" fill="#4592DA"/>
<polygon points="405.10,56.10 409.62,58.14 414.14,60.17 418.66,62.20 423.18,64.22 427.70,66.23 432.22,68.22 436.74,70.19 441.27,72.12 445.79,74.00 450.31,75.81 454.83,77.51 459.35,79.05 463.87,80.39 468.39,81.50 472.91,82.44 477.43,83.29 481.95,84.08 486.47,84.82 490.99,85.54 495.51,86.25 500.03,86.94 504.56,87.63 509.08,88.30 513.60,88.98 518.12,89.65 522.64,90.31 527.16,90.98 531.68,91.64 536.20,92.30 536.20,118.70 531.68,116.52 527.16,114.34 522.64,112.16 518.12,109.99 513.60,107.82 509.08,105.65 504.56,103.48 500.03,101.33 495.51,99.18 490.99,97.04 486.47,94.92 481.95,92.83 477.43,90.77 472.91,88.78 468.39,86.88 463.87,85.15 459.35,83.65 454.83,82.35 450.31,81.20 445.79,80.17 441.27,79.21 436.74,78.30 432.22,77.43 427.70,76.58 423.18,75.75 418.66,74.92 414.14,74.11 409.62,73.30 405.10,72.50" fill="#999999" fill-opacity="0.42"/>
<line x1="405.1" y1="64.3" x2="536.2" y2="105.5" stroke="#E25A48" stroke-width="1.2"/>
<rect x="398.6" y="16.5" width="144.39999999999998" height="146.8" fill="none" stroke="#B8B8B8" stroke-width="0.9"/>
<line x1="398.6" y1="16.5" x2="398.6" y2="163.3" stroke="#A6A6A6" stroke-width="1"/>
<line x1="398.6" y1="163.3" x2="543" y2="163.3" stroke="#A6A6A6" stroke-width="1"/>
<line x1="409.70" y1="163.3" x2="409.70" y2="165.3" stroke="#A6A6A6" stroke-width="0.8"/>
<text x="409.70" y="170.10" font-size="5.9" text-anchor="middle" fill="#333333"  stroke="#333333" stroke-width="0.15">-100</text>
<line x1="439.90" y1="163.3" x2="439.90" y2="165.3" stroke="#A6A6A6" stroke-width="0.8"/>
<text x="439.90" y="170.10" font-size="5.9" text-anchor="middle" fill="#333333"  stroke="#333333" stroke-width="0.15">-50</text>
<line x1="470.10" y1="163.3" x2="470.10" y2="165.3" stroke="#A6A6A6" stroke-width="0.8"/>
<text x="470.10" y="170.10" font-size="5.9" text-anchor="middle" fill="#333333"  stroke="#333333" stroke-width="0.15">0</text>
<line x1="500.30" y1="163.3" x2="500.30" y2="165.3" stroke="#A6A6A6" stroke-width="0.8"/>
<text x="500.30" y="170.10" font-size="5.9" text-anchor="middle" fill="#333333"  stroke="#333333" stroke-width="0.15">50</text>
<line x1="530.50" y1="163.3" x2="530.50" y2="165.3" stroke="#A6A6A6" stroke-width="0.8"/>
<text x="530.50" y="170.10" font-size="5.9" text-anchor="middle" fill="#333333"  stroke="#333333" stroke-width="0.15">100</text>
<line x1="396.6" y1="28.80" x2="398.6" y2="28.80" stroke="#A6A6A6" stroke-width="0.8"/>
<text x="396.40" y="30.70" font-size="5.9" text-anchor="end" fill="#333333"  stroke="#333333" stroke-width="0.15">3000</text>
<line x1="396.6" y1="59.00" x2="398.6" y2="59.00" stroke="#A6A6A6" stroke-width="0.8"/>
<text x="396.40" y="60.90" font-size="5.9" text-anchor="end" fill="#333333"  stroke="#333333" stroke-width="0.15">2000</text>
<line x1="396.6" y1="89.20" x2="398.6" y2="89.20" stroke="#A6A6A6" stroke-width="0.8"/>
<text x="396.40" y="91.10" font-size="5.9" text-anchor="end" fill="#333333"  stroke="#333333" stroke-width="0.15">1000</text>
<line x1="396.6" y1="119.40" x2="398.6" y2="119.40" stroke="#A6A6A6" stroke-width="0.8"/>
<text x="396.40" y="121.30" font-size="5.9" text-anchor="end" fill="#333333"  stroke="#333333" stroke-width="0.15">0</text>
<line x1="396.6" y1="149.60" x2="398.6" y2="149.60" stroke="#A6A6A6" stroke-width="0.8"/>
<text x="396.40" y="151.50" font-size="5.9" text-anchor="end" fill="#333333"  stroke="#333333" stroke-width="0.15">-1000</text>
<text x="476" y="30.6" font-size="7.3" font-style="italic" fill="#5B9BD5" stroke="#5B9BD5" stroke-width="0.32">R=-0.22,p=5.9x10<tspan font-size="5" dy="-2.6">-7</tspan></text>
<text x="472.50" y="177.00" font-size="10.8" text-anchor="middle" fill="#000"  stroke="#000" stroke-width="0.15">Cu_score</text>
<text transform="translate(380.1,125.3) rotate(-90)" font-size="10.8" stroke="#000" stroke-width="0.15">ImmuneScore</text>
<text x="374.60" y="12.00" font-size="11" text-anchor="start" fill="#000"  stroke="#000" stroke-width="0.15">C</text>
<line x1="53.15" y1="198.5" x2="53.15" y2="380.4" stroke="#F3F3F3" stroke-width="0.5"/>
<line x1="85.05" y1="198.5" x2="85.05" y2="380.4" stroke="#F3F3F3" stroke-width="0.5"/>
<line x1="116.95" y1="198.5" x2="116.95" y2="380.4" stroke="#F3F3F3" stroke-width="0.5"/>
<line x1="148.85" y1="198.5" x2="148.85" y2="380.4" stroke="#F3F3F3" stroke-width="0.5"/>
<line x1="26.3" y1="217.30" x2="177.3" y2="217.30" stroke="#F3F3F3" stroke-width="0.5"/>
<line x1="26.3" y1="259.10" x2="177.3" y2="259.10" stroke="#F3F3F3" stroke-width="0.5"/>
<line x1="26.3" y1="300.90" x2="177.3" y2="300.90" stroke="#F3F3F3" stroke-width="0.5"/>
<line x1="26.3" y1="342.70" x2="177.3" y2="342.70" stroke="#F3F3F3" stroke-width="0.5"/>
<line x1="37.20" y1="198.5" x2="37.20" y2="380.4" stroke="#EBEBEB" stroke-width="0.8"/>
<line x1="69.10" y1="198.5" x2="69.10" y2="380.4" stroke="#EBEBEB" stroke-width="0.8"/>
<line x1="101.00" y1="198.5" x2="101.00" y2="380.4" stroke="#EBEBEB" stroke-width="0.8"/>
<line x1="132.90" y1="198.5" x2="132.90" y2="380.4" stroke="#EBEBEB" stroke-width="0.8"/>
<line x1="164.80" y1="198.5" x2="164.80" y2="380.4" stroke="#EBEBEB" stroke-width="0.8"/>
<line x1="26.3" y1="238.20" x2="177.3" y2="238.20" stroke="#EBEBEB" stroke-width="0.8"/>
<line x1="26.3" y1="280.00" x2="177.3" y2="280.00" stroke="#EBEBEB" stroke-width="0.8"/>
<line x1="26.3" y1="321.80" x2="177.3" y2="321.80" stroke="#EBEBEB" stroke-width="0.8"/>
<line x1="26.3" y1="363.60" x2="177.3" y2="363.60" stroke="#EBEBEB" stroke-width="0.8"/>
<circle cx="83.7" cy="362.9" r="1.2" fill="#8A8A8A"/>
<circle cx="81.6" cy="359.3" r="1.2" fill="#8A8A8A"/>
<circle cx="80.5" cy="360.2" r="1.2" fill="#8A8A8A"/>
<circle cx="82.6" cy="361.5" r="1.2" fill="#8A8A8A"/>
<circle cx="77.0" cy="362.3" r="1.2" fill="#8A8A8A"/>
<circle cx="82.3" cy="363.3" r="1.2" fill="#8A8A8A"/>
<circle cx="80.6" cy="362.3" r="1.2" fill="#8A8A8A"/>
<circle cx="75.5" cy="361.8" r="1.2" fill="#8A8A8A"/>
<circle cx="71.0" cy="359.9" r="1.2" fill="#8A8A8A"/>
<circle cx="85.9" cy="362.9" r="1.2" fill="#8A8A8A"/>
<circle cx="76.9" cy="358.5" r="1.2" fill="#8A8A8A"/>
<circle cx="78.8" cy="363.3" r="1.2" fill="#8A8A8A"/>
<circle cx="81.0" cy="363.3" r="1.2" fill="#8A8A8A"/>
<circle cx="68.5" cy="357.2" r="1.2" fill="#8A8A8A"/>
<circle cx="68.7" cy="363.5" r="1.2" fill="#8A8A8A"/>
<circle cx="85.2" cy="355.0" r="1.2" fill="#8A8A8A"/>
<circle cx="86.0" cy="358.6" r="1.2" fill="#8A8A8A"/>
<circle cx="85.1" cy="363.3" r="1.2" fill="#8A8A8A"/>
<circle cx="82.5" cy="363.0" r="1.2" fill="#8A8A8A"/>
<circle cx="83.6" cy="356.4" r="1.2" fill="#8A8A8A"/>
<circle cx="69.8" cy="362.9" r="1.2" fill="#8A8A8A"/>
<circle cx="69.0" cy="359.8" r="1.2" fill="#8A8A8A"/>
<circle cx="80.9" cy="358.8" r="1.2" fill="#8A8A8A"/>
<circle cx="80.7" cy="359.3" r="1.2" fill="#8A8A8A"/>
<circle cx="81.3" cy="361.4" r="1.2" fill="#8A8A8A"/>
<circle cx="63.4" cy="363.4" r="1.2" fill="#8A8A8A"/>
<circle cx="65.0" cy="355.8" r="1.2" fill="#8A8A8A"/>
<circle cx="83.1" cy="362.6" r="1.2" fill="#8A8A8A"/>
<circle cx="85.5" cy="363.5" r="1.2" fill="#8A8A8A"/>
<circle cx="77.0" cy="354.8" r="1.2" fill="#8A8A8A"/>
<circle cx="86.3" cy="355.2" r="1.2" fill="#8A8A8A"/>
<circle cx="68.1" cy="359.1" r="1.2" fill="#8A8A8A"/>
<circle cx="70.2" cy="353.6" r="1.2" fill="#8A8A8A"/>
<circle cx="81.0" cy="363.4" r="1.2" fill="#8A8A8A"/>
<circle cx="63.8" cy="353.6" r="1.2" fill="#8A8A8A"/>
<circle cx="59.0" cy="363.3" r="1.2" fill="#8A8A8A"/>
<circle cx="85.9" cy="358.0" r="1.2" fill="#8A8A8A"/>
<circle cx="79.0" cy="361.7" r="1.2" fill="#8A8A8A"/>
<circle cx="79.2" cy="358.4" r="1.2" fill="#8A8A8A"/>
<circle cx="64.5" cy="362.8" r="1.2" fill="#8A8A8A"/>
<circle cx="73.4" cy="361.3" r="1.2" fill="#8A8A8A"/>
<circle cx="75.4" cy="353.6" r="1.2" fill="#8A8A8A"/>
<circle cx="83.3" cy="358.0" r="1.2" fill="#8A8A8A"/>
<circle cx="76.9" cy="361.1" r="1.2" fill="#8A8A8A"/>
<circle cx="61.5" cy="361.9" r="1.2" fill="#8A8A8A"/>
<circle cx="83.0" cy="362.0" r="1.2" fill="#8A8A8A"/>
<circle cx="72.7" cy="363.2" r="1.2" fill="#8A8A8A"/>
<circle cx="80.3" cy="362.2" r="1.2" fill="#8A8A8A"/>
<circle cx="63.3" cy="362.3" r="1.2" fill="#8A8A8A"/>
<circle cx="65.1" cy="363.3" r="1.2" fill="#8A8A8A"/>
<circle cx="71.9" cy="363.2" r="1.2" fill="#8A8A8A"/>
<circle cx="86.1" cy="362.7" r="1.2" fill="#8A8A8A"/>
<circle cx="67.1" cy="361.0" r="1.2" fill="#8A8A8A"/>
<circle cx="75.5" cy="362.1" r="1.2" fill="#8A8A8A"/>
<circle cx="75.8" cy="362.2" r="1.2" fill="#8A8A8A"/>
<circle cx="66.2" cy="358.4" r="1.2" fill="#8A8A8A"/>
<circle cx="77.6" cy="363.5" r="1.2" fill="#8A8A8A"/>
<circle cx="81.3" cy="354.8" r="1.2" fill="#8A8A8A"/>
<circle cx="60.7" cy="356.8" r="1.2" fill="#8A8A8A"/>
<circle cx="83.8" cy="362.2" r="1.2" fill="#8A8A8A"/>
<circle cx="65.1" cy="359.4" r="1.2" fill="#8A8A8A"/>
<circle cx="73.9" cy="362.4" r="1.2" fill="#8A8A8A"/>
<circle cx="82.7" cy="363.6" r="1.2" fill="#8A8A8A"/>
<circle cx="71.5" cy="353.6" r="1.2" fill="#8A8A8A"/>
<circle cx="68.7" cy="363.4" r="1.2" fill="#8A8A8A"/>
<circle cx="66.0" cy="361.1" r="1.2" fill="#8A8A8A"/>
<circle cx="74.9" cy="362.5" r="1.2" fill="#8A8A8A"/>
<circle cx="85.0" cy="362.1" r="1.2" fill="#8A8A8A"/>
<circle cx="82.7" cy="353.6" r="1.2" fill="#8A8A8A"/>
<circle cx="80.2" cy="363.5" r="1.2" fill="#8A8A8A"/>
<circle cx="63.4" cy="363.4" r="1.2" fill="#8A8A8A"/>
<circle cx="76.5" cy="362.9" r="1.2" fill="#8A8A8A"/>
<circle cx="73.0" cy="361.5" r="1.2" fill="#8A8A8A"/>
<circle cx="79.1" cy="360.5" r="1.2" fill="#8A8A8A"/>
<circle cx="79.9" cy="357.1" r="1.2" fill="#8A8A8A"/>
<circle cx="69.9" cy="361.7" r="1.2" fill="#8A8A8A"/>
<circle cx="70.5" cy="361.7" r="1.2" fill="#8A8A8A"/>
<circle cx="67.6" cy="360.3" r="1.2" fill="#8A8A8A"/>
<circle cx="86.2" cy="353.6" r="1.2" fill="#8A8A8A"/>
<circle cx="60.4" cy="357.5" r="1.2" fill="#8A8A8A"/>
<circle cx="83.4" cy="360.5" r="1.2" fill="#8A8A8A"/>
<circle cx="73.4" cy="360.0" r="1.2" fill="#8A8A8A"/>
<circle cx="82.6" cy="363.3" r="1.2" fill="#8A8A8A"/>
<circle cx="66.9" cy="355.3" r="1.2" fill="#8A8A8A"/>
<circle cx="82.1" cy="357.7" r="1.2" fill="#8A8A8A"/>
<circle cx="82.9" cy="359.9" r="1.2" fill="#8A8A8A"/>
<circle cx="70.8" cy="363.6" r="1.2" fill="#8A8A8A"/>
<circle cx="80.2" cy="362.2" r="1.2" fill="#8A8A8A"/>
<circle cx="84.3" cy="361.8" r="1.2" fill="#8A8A8A"/>
<circle cx="77.1" cy="357.3" r="1.2" fill="#8A8A8A"/>
<circle cx="85.5" cy="360.1" r="1.2" fill="#8A8A8A"/>
<circle cx="72.2" cy="359.1" r="1.2" fill="#8A8A8A"/>
<circle cx="65.3" cy="361.6" r="1.2" fill="#8A8A8A"/>
<circle cx="73.8" cy="362.5" r="1.2" fill="#8A8A8A"/>
<circle cx="71.2" cy="356.4" r="1.2" fill="#8A8A8A"/>
<circle cx="83.4" cy="363.3" r="1.2" fill="#8A8A8A"/>
<circle cx="69.0" cy="358.9" r="1.2" fill="#8A8A8A"/>
<circle cx="83.7" cy="363.0" r="1.2" fill="#8A8A8A"/>
<circle cx="86.1" cy="361.9" r="1.2" fill="#8A8A8A"/>
<circle cx="75.9" cy="361.6" r="1.2" fill="#8A8A8A"/>
<circle cx="81.2" cy="358.4" r="1.2" fill="#8A8A8A"/>
<circle cx="71.5" cy="361.0" r="1.2" fill="#8A8A8A"/>
<circle cx="81.8" cy="363.3" r="1.2" fill="#8A8A8A"/>
<circle cx="60.5" cy="359.7" r="1.2" fill="#8A8A8A"/>
<circle cx="83.5" cy="363.1" r="1.2" fill="#8A8A8A"/>
<circle cx="83.3" cy="363.6" r="1.2" fill="#8A8A8A"/>
<circle cx="85.2" cy="361.5" r="1.2" fill="#8A8A8A"/>
<circle cx="75.8" cy="353.6" r="1.2" fill="#8A8A8A"/>
<circle cx="79.1" cy="362.2" r="1.2" fill="#8A8A8A"/>
<circle cx="65.8" cy="359.6" r="1.2" fill="#8A8A8A"/>
<circle cx="79.4" cy="363.5" r="1.2" fill="#8A8A8A"/>
<circle cx="78.3" cy="355.6" r="1.2" fill="#8A8A8A"/>
<circle cx="77.0" cy="361.9" r="1.2" fill="#8A8A8A"/>
<circle cx="69.6" cy="362.9" r="1.2" fill="#8A8A8A"/>
<circle cx="71.7" cy="354.2" r="1.2" fill="#8A8A8A"/>
<circle cx="82.2" cy="358.7" r="1.2" fill="#8A8A8A"/>
<circle cx="71.8" cy="356.6" r="1.2" fill="#8A8A8A"/>
<circle cx="83.5" cy="363.0" r="1.2" fill="#8A8A8A"/>
<circle cx="64.9" cy="357.7" r="1.2" fill="#8A8A8A"/>
<circle cx="80.4" cy="359.7" r="1.2" fill="#8A8A8A"/>
<circle cx="69.6" cy="361.5" r="1.2" fill="#8A8A8A"/>
<circle cx="76.7" cy="359.1" r="1.2" fill="#8A8A8A"/>
<circle cx="70.8" cy="361.3" r="1.2" fill="#8A8A8A"/>
<circle cx="74.7" cy="362.1" r="1.2" fill="#8A8A8A"/>
<circle cx="84.3" cy="362.7" r="1.2" fill="#8A8A8A"/>
<circle cx="83.2" cy="360.3" r="1.2" fill="#8A8A8A"/>
<circle cx="82.8" cy="361.0" r="1.2" fill="#8A8A8A"/>
<circle cx="61.9" cy="362.7" r="1.2" fill="#8A8A8A"/>
<circle cx="67.2" cy="363.6" r="1.2" fill="#8A8A8A"/>
<circle cx="84.0" cy="361.7" r="1.2" fill="#8A8A8A"/>
<circle cx="78.9" cy="361.0" r="1.2" fill="#8A8A8A"/>
<circle cx="76.6" cy="362.6" r="1.2" fill="#8A8A8A"/>
<circle cx="76.9" cy="362.9" r="1.2" fill="#8A8A8A"/>
<circle cx="81.7" cy="361.5" r="1.2" fill="#8A8A8A"/>
<circle cx="71.8" cy="359.8" r="1.2" fill="#8A8A8A"/>
<circle cx="81.5" cy="362.9" r="1.2" fill="#8A8A8A"/>
<circle cx="85.0" cy="361.7" r="1.2" fill="#8A8A8A"/>
<circle cx="72.7" cy="361.1" r="1.2" fill="#8A8A8A"/>
<circle cx="81.8" cy="361.4" r="1.2" fill="#8A8A8A"/>
<circle cx="70.3" cy="359.8" r="1.2" fill="#8A8A8A"/>
<circle cx="84.2" cy="363.5" r="1.2" fill="#8A8A8A"/>
<circle cx="68.5" cy="358.0" r="1.2" fill="#8A8A8A"/>
<circle cx="81.0" cy="356.8" r="1.2" fill="#8A8A8A"/>
<circle cx="64.2" cy="356.3" r="1.2" fill="#8A8A8A"/>
<circle cx="78.5" cy="361.6" r="1.2" fill="#8A8A8A"/>
<circle cx="82.5" cy="355.4" r="1.2" fill="#8A8A8A"/>
<circle cx="80.7" cy="362.3" r="1.2" fill="#8A8A8A"/>
<circle cx="82.0" cy="358.1" r="1.2" fill="#8A8A8A"/>
<circle cx="84.0" cy="361.4" r="1.2" fill="#8A8A8A"/>
<circle cx="79.7" cy="360.4" r="1.2" fill="#8A8A8A"/>
<circle cx="74.7" cy="360.1" r="1.2" fill="#8A8A8A"/>
<circle cx="80.8" cy="361.3" r="1.2" fill="#8A8A8A"/>
<circle cx="77.4" cy="361.5" r="1.2" fill="#8A8A8A"/>
<circle cx="85.9" cy="361.0" r="1.2" fill="#8A8A8A"/>
<circle cx="78.2" cy="360.5" r="1.2" fill="#8A8A8A"/>
<circle cx="71.1" cy="361.2" r="1.2" fill="#8A8A8A"/>
<circle cx="69.0" cy="361.7" r="1.2" fill="#8A8A8A"/>
<circle cx="78.2" cy="363.3" r="1.2" fill="#8A8A8A"/>
<circle cx="83.0" cy="362.1" r="1.2" fill="#8A8A8A"/>
<circle cx="83.1" cy="363.1" r="1.2" fill="#8A8A8A"/>
<circle cx="86.3" cy="353.6" r="1.2" fill="#8A8A8A"/>
<circle cx="73.8" cy="353.6" r="1.2" fill="#8A8A8A"/>
<circle cx="81.3" cy="358.1" r="1.2" fill="#8A8A8A"/>
<circle cx="73.1" cy="361.9" r="1.2" fill="#8A8A8A"/>
<circle cx="75.3" cy="363.2" r="1.2" fill="#8A8A8A"/>
<circle cx="61.6" cy="361.1" r="1.2" fill="#8A8A8A"/>
<circle cx="79.9" cy="359.1" r="1.2" fill="#8A8A8A"/>
<circle cx="67.7" cy="362.3" r="1.2" fill="#8A8A8A"/>
<circle cx="69.6" cy="363.3" r="1.2" fill="#8A8A8A"/>
<circle cx="68.3" cy="363.2" r="1.2" fill="#8A8A8A"/>
<circle cx="75.7" cy="361.0" r="1.2" fill="#8A8A8A"/>
<circle cx="79.9" cy="359.9" r="1.2" fill="#8A8A8A"/>
<circle cx="73.9" cy="363.1" r="1.2" fill="#8A8A8A"/>
<circle cx="83.8" cy="355.6" r="1.2" fill="#8A8A8A"/>
<circle cx="76.8" cy="361.4" r="1.2" fill="#8A8A8A"/>
<circle cx="73.2" cy="359.3" r="1.2" fill="#8A8A8A"/>
<circle cx="84.8" cy="353.7" r="1.2" fill="#8A8A8A"/>
<circle cx="79.7" cy="361.7" r="1.2" fill="#8A8A8A"/>
<circle cx="82.9" cy="361.5" r="1.2" fill="#8A8A8A"/>
<circle cx="71.5" cy="362.1" r="1.2" fill="#8A8A8A"/>
<circle cx="78.7" cy="359.2" r="1.2" fill="#8A8A8A"/>
<circle cx="78.0" cy="362.6" r="1.2" fill="#8A8A8A"/>
<circle cx="60.6" cy="353.6" r="1.2" fill="#8A8A8A"/>
<circle cx="85.8" cy="363.6" r="1.2" fill="#8A8A8A"/>
<circle cx="70.5" cy="361.1" r="1.2" fill="#8A8A8A"/>
<circle cx="83.7" cy="363.4" r="1.2" fill="#8A8A8A"/>
<circle cx="78.4" cy="362.8" r="1.2" fill="#8A8A8A"/>
<circle cx="82.5" cy="362.9" r="1.2" fill="#8A8A8A"/>
<circle cx="74.4" cy="362.4" r="1.2" fill="#8A8A8A"/>
<circle cx="82.2" cy="360.6" r="1.2" fill="#8A8A8A"/>
<circle cx="84.9" cy="355.3" r="1.2" fill="#8A8A8A"/>
<circle cx="73.2" cy="359.4" r="1.2" fill="#8A8A8A"/>
<circle cx="65.4" cy="356.7" r="1.2" fill="#8A8A8A"/>
<circle cx="83.7" cy="361.7" r="1.2" fill="#8A8A8A"/>
<circle cx="73.6" cy="361.4" r="1.2" fill="#8A8A8A"/>
<circle cx="76.2" cy="358.7" r="1.2" fill="#8A8A8A"/>
<circle cx="80.0" cy="361.8" r="1.2" fill="#8A8A8A"/>
<circle cx="78.3" cy="356.7" r="1.2" fill="#8A8A8A"/>
<circle cx="82.5" cy="361.0" r="1.2" fill="#8A8A8A"/>
<circle cx="67.7" cy="360.4" r="1.2" fill="#8A8A8A"/>
<circle cx="72.8" cy="357.5" r="1.2" fill="#8A8A8A"/>
<circle cx="63.6" cy="351.8" r="1.2" fill="#8A8A8A"/>
<circle cx="71.7" cy="350.3" r="1.2" fill="#8A8A8A"/>
<circle cx="76.0" cy="349.4" r="1.2" fill="#8A8A8A"/>
<circle cx="63.2" cy="347.9" r="1.2" fill="#8A8A8A"/>
<circle cx="84.7" cy="353.6" r="1.2" fill="#8A8A8A"/>
<circle cx="73.0" cy="348.8" r="1.2" fill="#8A8A8A"/>
<circle cx="79.8" cy="345.4" r="1.2" fill="#8A8A8A"/>
<circle cx="81.6" cy="340.5" r="1.2" fill="#8A8A8A"/>
<circle cx="65.3" cy="355.5" r="1.2" fill="#8A8A8A"/>
<circle cx="74.5" cy="353.0" r="1.2" fill="#8A8A8A"/>
<circle cx="71.8" cy="353.6" r="1.2" fill="#8A8A8A"/>
<circle cx="85.0" cy="352.4" r="1.2" fill="#8A8A8A"/>
<circle cx="76.4" cy="351.4" r="1.2" fill="#8A8A8A"/>
<circle cx="65.6" cy="351.1" r="1.2" fill="#8A8A8A"/>
<circle cx="60.9" cy="351.8" r="1.2" fill="#8A8A8A"/>
<circle cx="70.2" cy="347.4" r="1.2" fill="#8A8A8A"/>
<circle cx="61.5" cy="355.8" r="1.2" fill="#8A8A8A"/>
<circle cx="82.7" cy="355.0" r="1.2" fill="#8A8A8A"/>
<circle cx="80.7" cy="349.4" r="1.2" fill="#8A8A8A"/>
<circle cx="80.7" cy="355.0" r="1.2" fill="#8A8A8A"/>
<circle cx="84.0" cy="349.7" r="1.2" fill="#8A8A8A"/>
<circle cx="64.5" cy="347.3" r="1.2" fill="#8A8A8A"/>
<circle cx="78.2" cy="350.1" r="1.2" fill="#8A8A8A"/>
<circle cx="85.5" cy="355.8" r="1.2" fill="#8A8A8A"/>
<circle cx="74.1" cy="345.8" r="1.2" fill="#8A8A8A"/>
<circle cx="78.0" cy="334.7" r="1.2" fill="#8A8A8A"/>
<circle cx="64.6" cy="350.3" r="1.2" fill="#8A8A8A"/>
<circle cx="63.4" cy="356.1" r="1.2" fill="#8A8A8A"/>
<circle cx="83.3" cy="353.8" r="1.2" fill="#8A8A8A"/>
<circle cx="64.5" cy="357.6" r="1.2" fill="#8A8A8A"/>
<circle cx="74.5" cy="341.6" r="1.2" fill="#8A8A8A"/>
<circle cx="66.3" cy="357.5" r="1.2" fill="#8A8A8A"/>
<circle cx="68.9" cy="355.9" r="1.2" fill="#8A8A8A"/>
<circle cx="59.1" cy="357.5" r="1.2" fill="#8A8A8A"/>
<circle cx="74.1" cy="351.9" r="1.2" fill="#8A8A8A"/>
<circle cx="65.9" cy="349.5" r="1.2" fill="#8A8A8A"/>
<circle cx="82.6" cy="344.1" r="1.2" fill="#8A8A8A"/>
<circle cx="61.0" cy="350.2" r="1.2" fill="#8A8A8A"/>
<circle cx="80.7" cy="351.0" r="1.2" fill="#8A8A8A"/>
<circle cx="79.8" cy="353.8" r="1.2" fill="#8A8A8A"/>
<circle cx="64.5" cy="347.2" r="1.2" fill="#8A8A8A"/>
<circle cx="83.6" cy="351.4" r="1.2" fill="#8A8A8A"/>
<circle cx="80.9" cy="356.7" r="1.2" fill="#8A8A8A"/>
<circle cx="69.8" cy="346.2" r="1.2" fill="#8A8A8A"/>
<circle cx="66.1" cy="357.5" r="1.2" fill="#8A8A8A"/>
<circle cx="78.3" cy="337.2" r="1.2" fill="#8A8A8A"/>
<circle cx="78.5" cy="332.7" r="1.2" fill="#8A8A8A"/>
<circle cx="64.3" cy="355.6" r="1.2" fill="#8A8A8A"/>
<circle cx="79.1" cy="351.6" r="1.2" fill="#8A8A8A"/>
<circle cx="81.9" cy="352.7" r="1.2" fill="#8A8A8A"/>
<circle cx="83.1" cy="353.1" r="1.2" fill="#8A8A8A"/>
<circle cx="74.3" cy="351.1" r="1.2" fill="#8A8A8A"/>
<circle cx="82.9" cy="340.5" r="1.2" fill="#8A8A8A"/>
<circle cx="70.4" cy="346.7" r="1.2" fill="#8A8A8A"/>
<circle cx="59.6" cy="353.5" r="1.2" fill="#8A8A8A"/>
<circle cx="84.3" cy="337.6" r="1.2" fill="#8A8A8A"/>
<circle cx="80.1" cy="356.4" r="1.2" fill="#8A8A8A"/>
<circle cx="68.0" cy="343.2" r="1.2" fill="#8A8A8A"/>
<circle cx="62.7" cy="356.1" r="1.2" fill="#8A8A8A"/>
<circle cx="80.1" cy="349.7" r="1.2" fill="#8A8A8A"/>
<circle cx="85.3" cy="337.0" r="1.2" fill="#8A8A8A"/>
<circle cx="81.9" cy="350.2" r="1.2" fill="#8A8A8A"/>
<circle cx="84.7" cy="333.8" r="1.2" fill="#8A8A8A"/>
<circle cx="81.8" cy="331.3" r="1.2" fill="#8A8A8A"/>
<circle cx="83.7" cy="349.8" r="1.2" fill="#8A8A8A"/>
<circle cx="82.8" cy="344.9" r="1.2" fill="#8A8A8A"/>
<circle cx="60.9" cy="356.8" r="1.2" fill="#8A8A8A"/>
<circle cx="81.1" cy="342.2" r="1.2" fill="#8A8A8A"/>
<circle cx="56.8" cy="356.3" r="1.2" fill="#8A8A8A"/>
<circle cx="84.1" cy="338.4" r="1.2" fill="#8A8A8A"/>
<circle cx="70.7" cy="342.2" r="1.2" fill="#8A8A8A"/>
<circle cx="74.7" cy="338.8" r="1.2" fill="#8A8A8A"/>
<circle cx="75.2" cy="357.2" r="1.2" fill="#8A8A8A"/>
<circle cx="71.1" cy="345.6" r="1.2" fill="#8A8A8A"/>
<circle cx="71.2" cy="345.7" r="1.2" fill="#8A8A8A"/>
<circle cx="66.5" cy="346.0" r="1.2" fill="#8A8A8A"/>
<circle cx="76.5" cy="353.5" r="1.2" fill="#8A8A8A"/>
<circle cx="78.9" cy="332.7" r="1.2" fill="#8A8A8A"/>
<circle cx="77.3" cy="357.3" r="1.2" fill="#8A8A8A"/>
<circle cx="58.7" cy="355.7" r="1.2" fill="#8A8A8A"/>
<circle cx="57.5" cy="352.5" r="1.2" fill="#8A8A8A"/>
<circle cx="69.2" cy="346.8" r="1.2" fill="#8A8A8A"/>
<circle cx="65.1" cy="353.1" r="1.2" fill="#8A8A8A"/>
<circle cx="76.7" cy="336.2" r="1.2" fill="#8A8A8A"/>
<circle cx="79.4" cy="349.5" r="1.2" fill="#8A8A8A"/>
<circle cx="56.6" cy="357.4" r="1.2" fill="#8A8A8A"/>
<circle cx="69.3" cy="356.8" r="1.2" fill="#8A8A8A"/>
<circle cx="85.2" cy="344.5" r="1.2" fill="#8A8A8A"/>
<circle cx="65.1" cy="346.3" r="1.2" fill="#8A8A8A"/>
<circle cx="79.5" cy="347.1" r="1.2" fill="#8A8A8A"/>
<circle cx="82.3" cy="337.7" r="1.2" fill="#8A8A8A"/>
<circle cx="71.8" cy="349.0" r="1.2" fill="#8A8A8A"/>
<circle cx="65.8" cy="351.8" r="1.2" fill="#8A8A8A"/>
<circle cx="69.6" cy="342.3" r="1.2" fill="#8A8A8A"/>
<circle cx="83.0" cy="296.4" r="1.2" fill="#8A8A8A"/>
<circle cx="70.9" cy="314.8" r="1.2" fill="#8A8A8A"/>
<circle cx="74.4" cy="316.1" r="1.2" fill="#8A8A8A"/>
<circle cx="69.2" cy="329.3" r="1.2" fill="#8A8A8A"/>
<circle cx="81.3" cy="329.3" r="1.2" fill="#8A8A8A"/>
<circle cx="84.7" cy="326.5" r="1.2" fill="#8A8A8A"/>
<circle cx="84.7" cy="331.0" r="1.2" fill="#8A8A8A"/>
<circle cx="32.9" cy="362.0" r="1.2" fill="#8A8A8A"/>
<circle cx="44.2" cy="356.0" r="1.2" fill="#8A8A8A"/>
<circle cx="53.2" cy="359.0" r="1.2" fill="#8A8A8A"/>
<circle cx="58.0" cy="352.8" r="1.2" fill="#8A8A8A"/>
<circle cx="58.5" cy="357.4" r="1.2" fill="#8A8A8A"/>
<circle cx="79.0" cy="320.0" r="1.2" fill="#8A8A8A"/>
<circle cx="76.0" cy="336.0" r="1.2" fill="#8A8A8A"/>
<circle cx="65.0" cy="345.0" r="1.2" fill="#8A8A8A"/>
<circle cx="62.0" cy="350.0" r="1.2" fill="#8A8A8A"/>
<circle cx="80.0" cy="318.0" r="1.2" fill="#8A8A8A"/>
<circle cx="109.9" cy="362.6" r="1.2" fill="#4592DA"/>
<circle cx="96.6" cy="359.1" r="1.2" fill="#4592DA"/>
<circle cx="87.2" cy="363.5" r="1.2" fill="#4592DA"/>
<circle cx="89.2" cy="362.3" r="1.2" fill="#4592DA"/>
<circle cx="88.8" cy="360.5" r="1.2" fill="#4592DA"/>
<circle cx="96.6" cy="359.2" r="1.2" fill="#4592DA"/>
<circle cx="131.8" cy="360.7" r="1.2" fill="#4592DA"/>
<circle cx="104.0" cy="363.4" r="1.2" fill="#4592DA"/>
<circle cx="88.2" cy="361.1" r="1.2" fill="#4592DA"/>
<circle cx="103.9" cy="352.6" r="1.2" fill="#4592DA"/>
<circle cx="124.8" cy="360.2" r="1.2" fill="#4592DA"/>
<circle cx="100.7" cy="360.1" r="1.2" fill="#4592DA"/>
<circle cx="112.5" cy="359.9" r="1.2" fill="#4592DA"/>
<circle cx="105.1" cy="362.7" r="1.2" fill="#4592DA"/>
<circle cx="125.4" cy="358.7" r="1.2" fill="#4592DA"/>
<circle cx="88.3" cy="362.7" r="1.2" fill="#4592DA"/>
<circle cx="88.1" cy="355.0" r="1.2" fill="#4592DA"/>
<circle cx="111.7" cy="362.4" r="1.2" fill="#4592DA"/>
<circle cx="115.3" cy="361.9" r="1.2" fill="#4592DA"/>
<circle cx="106.2" cy="356.1" r="1.2" fill="#4592DA"/>
<circle cx="120.4" cy="359.7" r="1.2" fill="#4592DA"/>
<circle cx="120.2" cy="362.9" r="1.2" fill="#4592DA"/>
<circle cx="125.0" cy="363.3" r="1.2" fill="#4592DA"/>
<circle cx="99.8" cy="354.7" r="1.2" fill="#4592DA"/>
<circle cx="115.3" cy="354.2" r="1.2" fill="#4592DA"/>
<circle cx="101.3" cy="362.5" r="1.2" fill="#4592DA"/>
<circle cx="100.5" cy="361.9" r="1.2" fill="#4592DA"/>
<circle cx="121.6" cy="356.2" r="1.2" fill="#4592DA"/>
<circle cx="94.9" cy="357.3" r="1.2" fill="#4592DA"/>
<circle cx="90.4" cy="360.8" r="1.2" fill="#4592DA"/>
<circle cx="108.6" cy="358.5" r="1.2" fill="#4592DA"/>
<circle cx="99.2" cy="359.4" r="1.2" fill="#4592DA"/>
<circle cx="130.8" cy="354.9" r="1.2" fill="#4592DA"/>
<circle cx="104.4" cy="359.2" r="1.2" fill="#4592DA"/>
<circle cx="101.8" cy="362.6" r="1.2" fill="#4592DA"/>
<circle cx="125.4" cy="363.3" r="1.2" fill="#4592DA"/>
<circle cx="94.0" cy="363.1" r="1.2" fill="#4592DA"/>
<circle cx="103.0" cy="355.6" r="1.2" fill="#4592DA"/>
<circle cx="99.5" cy="352.6" r="1.2" fill="#4592DA"/>
<circle cx="87.3" cy="363.5" r="1.2" fill="#4592DA"/>
<circle cx="123.0" cy="361.2" r="1.2" fill="#4592DA"/>
<circle cx="92.9" cy="361.1" r="1.2" fill="#4592DA"/>
<circle cx="91.8" cy="355.7" r="1.2" fill="#4592DA"/>
<circle cx="101.0" cy="362.5" r="1.2" fill="#4592DA"/>
<circle cx="120.7" cy="352.6" r="1.2" fill="#4592DA"/>
<circle cx="107.5" cy="362.6" r="1.2" fill="#4592DA"/>
<circle cx="100.8" cy="358.1" r="1.2" fill="#4592DA"/>
<circle cx="107.3" cy="361.7" r="1.2" fill="#4592DA"/>
<circle cx="93.3" cy="361.0" r="1.2" fill="#4592DA"/>
<circle cx="89.1" cy="358.9" r="1.2" fill="#4592DA"/>
<circle cx="119.5" cy="361.5" r="1.2" fill="#4592DA"/>
<circle cx="101.0" cy="360.7" r="1.2" fill="#4592DA"/>
<circle cx="111.8" cy="360.9" r="1.2" fill="#4592DA"/>
<circle cx="114.0" cy="354.1" r="1.2" fill="#4592DA"/>
<circle cx="94.7" cy="361.8" r="1.2" fill="#4592DA"/>
<circle cx="91.9" cy="360.9" r="1.2" fill="#4592DA"/>
<circle cx="102.0" cy="363.1" r="1.2" fill="#4592DA"/>
<circle cx="118.1" cy="359.9" r="1.2" fill="#4592DA"/>
<circle cx="97.0" cy="362.4" r="1.2" fill="#4592DA"/>
<circle cx="87.5" cy="363.5" r="1.2" fill="#4592DA"/>
<circle cx="109.3" cy="352.9" r="1.2" fill="#4592DA"/>
<circle cx="110.2" cy="352.6" r="1.2" fill="#4592DA"/>
<circle cx="89.6" cy="362.6" r="1.2" fill="#4592DA"/>
<circle cx="91.3" cy="360.3" r="1.2" fill="#4592DA"/>
<circle cx="88.4" cy="362.7" r="1.2" fill="#4592DA"/>
<circle cx="107.4" cy="359.2" r="1.2" fill="#4592DA"/>
<circle cx="91.8" cy="358.7" r="1.2" fill="#4592DA"/>
<circle cx="94.7" cy="361.1" r="1.2" fill="#4592DA"/>
<circle cx="100.5" cy="361.7" r="1.2" fill="#4592DA"/>
<circle cx="111.9" cy="362.9" r="1.2" fill="#4592DA"/>
<circle cx="103.5" cy="357.9" r="1.2" fill="#4592DA"/>
<circle cx="92.3" cy="363.0" r="1.2" fill="#4592DA"/>
<circle cx="107.7" cy="352.9" r="1.2" fill="#4592DA"/>
<circle cx="96.2" cy="360.5" r="1.2" fill="#4592DA"/>
<circle cx="91.3" cy="357.6" r="1.2" fill="#4592DA"/>
<circle cx="89.7" cy="358.8" r="1.2" fill="#4592DA"/>
<circle cx="111.8" cy="363.2" r="1.2" fill="#4592DA"/>
<circle cx="116.2" cy="358.5" r="1.2" fill="#4592DA"/>
<circle cx="91.5" cy="361.9" r="1.2" fill="#4592DA"/>
<circle cx="117.0" cy="360.2" r="1.2" fill="#4592DA"/>
<circle cx="125.3" cy="363.4" r="1.2" fill="#4592DA"/>
<circle cx="106.6" cy="352.6" r="1.2" fill="#4592DA"/>
<circle cx="90.5" cy="362.5" r="1.2" fill="#4592DA"/>
<circle cx="90.3" cy="363.2" r="1.2" fill="#4592DA"/>
<circle cx="98.1" cy="362.9" r="1.2" fill="#4592DA"/>
<circle cx="104.6" cy="363.6" r="1.2" fill="#4592DA"/>
<circle cx="101.7" cy="359.5" r="1.2" fill="#4592DA"/>
<circle cx="92.1" cy="360.2" r="1.2" fill="#4592DA"/>
<circle cx="96.6" cy="357.3" r="1.2" fill="#4592DA"/>
<circle cx="119.2" cy="360.9" r="1.2" fill="#4592DA"/>
<circle cx="87.8" cy="362.4" r="1.2" fill="#4592DA"/>
<circle cx="123.5" cy="363.0" r="1.2" fill="#4592DA"/>
<circle cx="90.4" cy="362.2" r="1.2" fill="#4592DA"/>
<circle cx="92.1" cy="363.2" r="1.2" fill="#4592DA"/>
<circle cx="96.6" cy="358.6" r="1.2" fill="#4592DA"/>
<circle cx="115.6" cy="361.9" r="1.2" fill="#4592DA"/>
<circle cx="121.8" cy="360.2" r="1.2" fill="#4592DA"/>
<circle cx="93.4" cy="363.4" r="1.2" fill="#4592DA"/>
<circle cx="95.3" cy="360.5" r="1.2" fill="#4592DA"/>
<circle cx="95.2" cy="359.6" r="1.2" fill="#4592DA"/>
<circle cx="99.4" cy="356.8" r="1.2" fill="#4592DA"/>
<circle cx="89.1" cy="361.2" r="1.2" fill="#4592DA"/>
<circle cx="115.8" cy="357.2" r="1.2" fill="#4592DA"/>
<circle cx="98.0" cy="359.2" r="1.2" fill="#4592DA"/>
<circle cx="92.4" cy="362.5" r="1.2" fill="#4592DA"/>
<circle cx="109.5" cy="358.0" r="1.2" fill="#4592DA"/>
<circle cx="109.6" cy="361.4" r="1.2" fill="#4592DA"/>
<circle cx="131.8" cy="355.7" r="1.2" fill="#4592DA"/>
<circle cx="90.7" cy="362.0" r="1.2" fill="#4592DA"/>
<circle cx="105.1" cy="362.9" r="1.2" fill="#4592DA"/>
<circle cx="94.8" cy="361.2" r="1.2" fill="#4592DA"/>
<circle cx="95.6" cy="362.7" r="1.2" fill="#4592DA"/>
<circle cx="122.2" cy="358.3" r="1.2" fill="#4592DA"/>
<circle cx="102.4" cy="358.6" r="1.2" fill="#4592DA"/>
<circle cx="98.5" cy="363.0" r="1.2" fill="#4592DA"/>
<circle cx="87.7" cy="361.1" r="1.2" fill="#4592DA"/>
<circle cx="107.7" cy="356.0" r="1.2" fill="#4592DA"/>
<circle cx="131.8" cy="363.6" r="1.2" fill="#4592DA"/>
<circle cx="93.4" cy="359.1" r="1.2" fill="#4592DA"/>
<circle cx="92.6" cy="360.0" r="1.2" fill="#4592DA"/>
<circle cx="99.4" cy="360.2" r="1.2" fill="#4592DA"/>
<circle cx="116.6" cy="361.8" r="1.2" fill="#4592DA"/>
<circle cx="98.0" cy="360.4" r="1.2" fill="#4592DA"/>
<circle cx="107.0" cy="361.8" r="1.2" fill="#4592DA"/>
<circle cx="98.0" cy="363.3" r="1.2" fill="#4592DA"/>
<circle cx="128.6" cy="360.0" r="1.2" fill="#4592DA"/>
<circle cx="94.6" cy="362.4" r="1.2" fill="#4592DA"/>
<circle cx="103.4" cy="363.6" r="1.2" fill="#4592DA"/>
<circle cx="96.7" cy="355.8" r="1.2" fill="#4592DA"/>
<circle cx="113.7" cy="352.6" r="1.2" fill="#4592DA"/>
<circle cx="88.3" cy="361.0" r="1.2" fill="#4592DA"/>
<circle cx="107.0" cy="361.9" r="1.2" fill="#4592DA"/>
<circle cx="93.7" cy="362.4" r="1.2" fill="#4592DA"/>
<circle cx="116.5" cy="360.2" r="1.2" fill="#4592DA"/>
<circle cx="89.7" cy="359.6" r="1.2" fill="#4592DA"/>
<circle cx="122.6" cy="362.7" r="1.2" fill="#4592DA"/>
<circle cx="110.9" cy="361.5" r="1.2" fill="#4592DA"/>
<circle cx="108.8" cy="362.0" r="1.2" fill="#4592DA"/>
<circle cx="92.0" cy="363.6" r="1.2" fill="#4592DA"/>
<circle cx="102.5" cy="361.3" r="1.2" fill="#4592DA"/>
<circle cx="110.6" cy="362.0" r="1.2" fill="#4592DA"/>
<circle cx="91.0" cy="361.9" r="1.2" fill="#4592DA"/>
<circle cx="88.8" cy="358.9" r="1.2" fill="#4592DA"/>
<circle cx="96.0" cy="358.2" r="1.2" fill="#4592DA"/>
<circle cx="115.3" cy="360.2" r="1.2" fill="#4592DA"/>
<circle cx="121.9" cy="352.6" r="1.2" fill="#4592DA"/>
<circle cx="103.6" cy="359.9" r="1.2" fill="#4592DA"/>
<circle cx="113.3" cy="363.5" r="1.2" fill="#4592DA"/>
<circle cx="99.9" cy="358.5" r="1.2" fill="#4592DA"/>
<circle cx="92.7" cy="361.5" r="1.2" fill="#4592DA"/>
<circle cx="106.2" cy="359.0" r="1.2" fill="#4592DA"/>
<circle cx="95.4" cy="355.3" r="1.2" fill="#4592DA"/>
<circle cx="91.1" cy="363.2" r="1.2" fill="#4592DA"/>
<circle cx="99.0" cy="357.8" r="1.2" fill="#4592DA"/>
<circle cx="112.1" cy="354.0" r="1.2" fill="#4592DA"/>
<circle cx="95.2" cy="358.7" r="1.2" fill="#4592DA"/>
<circle cx="131.8" cy="362.4" r="1.2" fill="#4592DA"/>
<circle cx="95.9" cy="356.5" r="1.2" fill="#4592DA"/>
<circle cx="94.9" cy="352.6" r="1.2" fill="#4592DA"/>
<circle cx="110.2" cy="361.1" r="1.2" fill="#4592DA"/>
<circle cx="92.5" cy="361.3" r="1.2" fill="#4592DA"/>
<circle cx="92.3" cy="362.2" r="1.2" fill="#4592DA"/>
<circle cx="98.6" cy="361.8" r="1.2" fill="#4592DA"/>
<circle cx="96.2" cy="356.0" r="1.2" fill="#4592DA"/>
<circle cx="113.8" cy="357.6" r="1.2" fill="#4592DA"/>
<circle cx="121.0" cy="362.8" r="1.2" fill="#4592DA"/>
<circle cx="104.5" cy="357.6" r="1.2" fill="#4592DA"/>
<circle cx="112.2" cy="363.2" r="1.2" fill="#4592DA"/>
<circle cx="95.4" cy="362.7" r="1.2" fill="#4592DA"/>
<circle cx="95.8" cy="361.8" r="1.2" fill="#4592DA"/>
<circle cx="114.1" cy="359.5" r="1.2" fill="#4592DA"/>
<circle cx="127.2" cy="358.4" r="1.2" fill="#4592DA"/>
<circle cx="104.8" cy="363.4" r="1.2" fill="#4592DA"/>
<circle cx="101.7" cy="360.6" r="1.2" fill="#4592DA"/>
<circle cx="105.5" cy="357.1" r="1.2" fill="#4592DA"/>
<circle cx="101.3" cy="206.6" r="1.2" fill="#4592DA"/>
<circle cx="127.6" cy="239.5" r="1.2" fill="#4592DA"/>
<circle cx="95.8" cy="247.4" r="1.2" fill="#4592DA"/>
<circle cx="111.3" cy="264.3" r="1.2" fill="#4592DA"/>
<circle cx="123.4" cy="275.7" r="1.2" fill="#4592DA"/>
<circle cx="97.5" cy="282.6" r="1.2" fill="#4592DA"/>
<circle cx="122.4" cy="284.4" r="1.2" fill="#4592DA"/>
<circle cx="103.7" cy="293.0" r="1.2" fill="#4592DA"/>
<circle cx="109.6" cy="293.7" r="1.2" fill="#4592DA"/>
<circle cx="118.6" cy="296.4" r="1.2" fill="#4592DA"/>
<circle cx="122.0" cy="296.4" r="1.2" fill="#4592DA"/>
<circle cx="145.2" cy="309.2" r="1.2" fill="#4592DA"/>
<circle cx="151.0" cy="305.8" r="1.2" fill="#4592DA"/>
<circle cx="170.4" cy="307.5" r="1.2" fill="#4592DA"/>
<circle cx="101.0" cy="310.3" r="1.2" fill="#4592DA"/>
<circle cx="99.2" cy="315.4" r="1.2" fill="#4592DA"/>
<circle cx="102.7" cy="314.8" r="1.2" fill="#4592DA"/>
<circle cx="119.3" cy="312.0" r="1.2" fill="#4592DA"/>
<circle cx="122.0" cy="313.7" r="1.2" fill="#4592DA"/>
<circle cx="123.8" cy="317.9" r="1.2" fill="#4592DA"/>
<circle cx="128.6" cy="317.2" r="1.2" fill="#4592DA"/>
<circle cx="88.2" cy="318.9" r="1.2" fill="#4592DA"/>
<circle cx="96.8" cy="316.5" r="1.2" fill="#4592DA"/>
<circle cx="88.9" cy="323.4" r="1.2" fill="#4592DA"/>
<circle cx="91.6" cy="324.1" r="1.2" fill="#4592DA"/>
<circle cx="106.1" cy="325.1" r="1.2" fill="#4592DA"/>
<circle cx="112.4" cy="323.4" r="1.2" fill="#4592DA"/>
<circle cx="102.7" cy="327.5" r="1.2" fill="#4592DA"/>
<circle cx="95.8" cy="330.0" r="1.2" fill="#4592DA"/>
<circle cx="99.2" cy="331.0" r="1.2" fill="#4592DA"/>
<circle cx="132.3" cy="361.3" r="1.2" fill="#4592DA"/>
<circle cx="138.0" cy="362.7" r="1.2" fill="#4592DA"/>
<circle cx="140.4" cy="359.1" r="1.2" fill="#4592DA"/>
<circle cx="145.7" cy="357.7" r="1.2" fill="#4592DA"/>
<circle cx="150.0" cy="360.3" r="1.2" fill="#4592DA"/>
<circle cx="166.4" cy="358.4" r="1.2" fill="#4592DA"/>
<circle cx="171.2" cy="361.3" r="1.2" fill="#4592DA"/>
<circle cx="139.7" cy="341.4" r="1.2" fill="#4592DA"/>
<circle cx="142.6" cy="342.4" r="1.2" fill="#4592DA"/>
<circle cx="139.7" cy="346.4" r="1.2" fill="#4592DA"/>
<circle cx="143.3" cy="349.5" r="1.2" fill="#4592DA"/>
<circle cx="123.4" cy="343.5" r="1.2" fill="#4592DA"/>
<circle cx="112.8" cy="337.9" r="1.2" fill="#4592DA"/>
<circle cx="102.6" cy="340.7" r="1.2" fill="#4592DA"/>
<circle cx="106.4" cy="340.7" r="1.2" fill="#4592DA"/>
<circle cx="106.4" cy="325.1" r="1.2" fill="#4592DA"/>
<circle cx="112.5" cy="324.0" r="1.2" fill="#4592DA"/>
<circle cx="102.8" cy="328.0" r="1.2" fill="#4592DA"/>
<circle cx="108.2" cy="328.6" r="1.2" fill="#4592DA"/>
<circle cx="101.4" cy="332.2" r="1.2" fill="#4592DA"/>
<circle cx="90.0" cy="338.0" r="1.2" fill="#4592DA"/>
<circle cx="94.0" cy="344.0" r="1.2" fill="#4592DA"/>
<circle cx="98.0" cy="348.0" r="1.2" fill="#4592DA"/>
<circle cx="92.0" cy="335.0" r="1.2" fill="#4592DA"/>
<circle cx="115.0" cy="350.0" r="1.2" fill="#4592DA"/>
<circle cx="118.0" cy="346.0" r="1.2" fill="#4592DA"/>
<circle cx="126.0" cy="353.0" r="1.2" fill="#4592DA"/>
<circle cx="130.0" cy="356.0" r="1.2" fill="#4592DA"/>
<circle cx="134.0" cy="352.0" r="1.2" fill="#4592DA"/>
<polygon points="33.00,360.70 37.75,359.88 42.50,359.06 47.26,358.23 52.01,357.40 56.76,356.55 61.51,355.70 66.26,354.82 71.01,353.93 75.77,352.99 80.52,352.00 85.27,350.93 90.02,349.74 94.77,348.42 99.52,346.98 104.28,345.45 109.03,343.86 113.78,342.22 118.53,340.56 123.28,338.87 128.03,337.18 132.79,335.47 137.54,333.76 142.29,332.03 147.04,330.31 151.79,328.58 156.54,326.85 161.30,325.12 166.05,323.39 170.80,321.65 170.80,337.75 166.05,338.57 161.30,339.40 156.54,340.22 151.79,341.05 147.04,341.88 142.29,342.72 137.54,343.56 132.79,344.40 128.03,345.25 123.28,346.11 118.53,346.99 113.78,347.88 109.03,348.80 104.28,349.77 99.52,350.80 94.77,351.92 90.02,353.16 85.27,354.53 80.52,356.01 75.77,357.58 71.01,359.20 66.26,360.86 61.51,362.55 56.76,364.25 52.01,365.97 47.26,367.69 42.50,369.43 37.75,371.16 33.00,372.90" fill="#999999" fill-opacity="0.42"/>
<line x1="33" y1="366.8" x2="170.8" y2="329.7" stroke="#E25A48" stroke-width="1.2"/>
<rect x="26.3" y="198.5" width="151.0" height="181.89999999999998" fill="none" stroke="#B8B8B8" stroke-width="0.9"/>
<line x1="26.3" y1="198.5" x2="26.3" y2="380.4" stroke="#A6A6A6" stroke-width="1"/>
<line x1="26.3" y1="380.4" x2="177.3" y2="380.4" stroke="#A6A6A6" stroke-width="1"/>
<line x1="37.20" y1="380.4" x2="37.20" y2="382.4" stroke="#A6A6A6" stroke-width="0.8"/>
<text x="37.20" y="388.00" font-size="6.6" text-anchor="middle" fill="#222"  stroke="#222" stroke-width="0.15">-100</text>
<line x1="69.10" y1="380.4" x2="69.10" y2="382.4" stroke="#A6A6A6" stroke-width="0.8"/>
<text x="69.10" y="388.00" font-size="6.6" text-anchor="middle" fill="#222"  stroke="#222" stroke-width="0.15">-50</text>
<line x1="101.00" y1="380.4" x2="101.00" y2="382.4" stroke="#A6A6A6" stroke-width="0.8"/>
<text x="101.00" y="388.00" font-size="6.6" text-anchor="middle" fill="#222"  stroke="#222" stroke-width="0.15">0</text>
<line x1="132.90" y1="380.4" x2="132.90" y2="382.4" stroke="#A6A6A6" stroke-width="0.8"/>
<text x="132.90" y="388.00" font-size="6.6" text-anchor="middle" fill="#222"  stroke="#222" stroke-width="0.15">50</text>
<line x1="164.80" y1="380.4" x2="164.80" y2="382.4" stroke="#A6A6A6" stroke-width="0.8"/>
<text x="164.80" y="388.00" font-size="6.6" text-anchor="middle" fill="#222"  stroke="#222" stroke-width="0.15">100</text>
<line x1="24.3" y1="238.20" x2="26.3" y2="238.20" stroke="#A6A6A6" stroke-width="0.8"/>
<text x="23.30" y="240.50" font-size="6.6" text-anchor="end" fill="#222"  stroke="#222" stroke-width="0.15">150</text>
<line x1="24.3" y1="280.00" x2="26.3" y2="280.00" stroke="#A6A6A6" stroke-width="0.8"/>
<text x="23.30" y="282.30" font-size="6.6" text-anchor="end" fill="#222"  stroke="#222" stroke-width="0.15">100</text>
<line x1="24.3" y1="321.80" x2="26.3" y2="321.80" stroke="#A6A6A6" stroke-width="0.8"/>
<text x="23.30" y="324.10" font-size="6.6" text-anchor="end" fill="#222"  stroke="#222" stroke-width="0.15">50</text>
<line x1="24.3" y1="363.60" x2="26.3" y2="363.60" stroke="#A6A6A6" stroke-width="0.8"/>
<text x="23.30" y="365.90" font-size="6.6" text-anchor="end" fill="#222"  stroke="#222" stroke-width="0.15">0</text>
<text x="112.6" y="212.4" font-size="7.3" font-style="italic" fill="#5B9BD5" stroke="#5B9BD5" stroke-width="0.32">R=0.31,p=1.1x10<tspan font-size="5" dy="-2.6">-12</tspan></text>
<text x="102.20" y="400.80" font-size="10.8" text-anchor="middle" fill="#000"  stroke="#000" stroke-width="0.15">Cu_score</text>
<text transform="translate(12.6,319.9) rotate(-90)" font-size="10.5" stroke="#000" stroke-width="0.15">PD-L1</text>
<text x="3.80" y="200.30" font-size="11" text-anchor="start" fill="#000"  stroke="#000" stroke-width="0.15">D</text>
<text x="182.50" y="287.00" font-size="9.6" text-anchor="start" fill="#000"  stroke="#000" stroke-width="0.15">group</text>
<circle cx="190.2" cy="299" r="1.9" fill="#4592DA"/>
<circle cx="190.2" cy="312.8" r="1.9" fill="#8A8A8A"/>
<text x="202.90" y="302.20" font-size="7.4" text-anchor="start" fill="#000"  stroke="#000" stroke-width="0.15">high</text>
<text x="202.90" y="315.40" font-size="7.4" text-anchor="start" fill="#000"  stroke="#000" stroke-width="0.15">low</text>
<path d="M296.00,211.00 L296.70,211.00 L296.70,211.00 L300.00,211.00 L300.00,211.00 L307.00,211.00 L307.00,211.59 L310.30,211.59 L310.30,225.80 L313.50,225.80 L313.50,234.10 L319.40,234.10 L319.40,242.96 L333.80,242.96 L333.80,251.85 L406.70,251.85 L406.70,317.66 L333.80,317.66 L333.80,311.81 L319.40,311.81 L319.40,304.78 L313.50,304.78 L313.50,296.73 L310.30,296.73 L310.30,277.70 L307.00,277.70 L307.00,253.83 L300.00,253.83 L300.00,238.66 L296.70,238.66 L296.70,211.00 L296.00,211.00 Z" fill="#2176C7" fill-opacity="0.125"/>
<path d="M296.00,211.00 L305.30,211.00 L305.30,211.00 L309.30,211.00 L309.30,211.54 L313.00,211.54 L313.00,220.73 L322.00,220.73 L322.00,226.01 L325.40,226.01 L325.40,231.68 L327.90,231.68 L327.90,237.71 L362.20,237.71 L362.20,244.08 L365.10,244.08 L365.10,250.78 L397.80,250.78 L397.80,257.27 L540.20,257.27 L540.20,313.00 L397.80,313.00 L397.80,306.50 L365.10,306.50 L365.10,301.09 L362.20,301.09 L362.20,295.26 L327.90,295.26 L327.90,289.04 L325.40,289.04 L325.40,282.42 L322.00,282.42 L322.00,275.39 L313.00,275.39 L313.00,259.92 L309.30,259.92 L309.30,241.70 L305.30,241.70 L305.30,211.00 L296.00,211.00 Z" fill="#E5B50C" fill-opacity="0.125"/>
<path d="M296.00,211.00 L296.70,211.00 L296.70,221.23 L300.00,221.23 L300.00,231.45 L307.00,231.45 L307.00,251.91 L310.30,251.91 L310.30,272.36 L313.50,272.36 L313.50,282.59 L319.40,282.59 L319.40,292.82 L333.80,292.82 L333.80,303.05 L406.70,303.05" fill="none" stroke="#2176C7" stroke-width="1.4"/>
<path d="M296.00,211.00 L305.30,211.00 L305.30,225.06 L309.30,225.06 L309.30,239.12 L313.00,239.12 L313.00,253.19 L322.00,253.19 L322.00,260.22 L325.40,260.22 L325.40,267.25 L327.90,267.25 L327.90,274.28 L362.20,274.28 L362.20,281.31 L365.10,281.31 L365.10,288.34 L397.80,288.34 L397.80,297.13 L540.20,297.13" fill="none" stroke="#E5B50C" stroke-width="1.4"/>
<line x1="395.10" y1="301.05" x2="395.10" y2="305.05" stroke="#2176C7" stroke-width="1"/>
<line x1="406.70" y1="301.05" x2="406.70" y2="305.05" stroke="#2176C7" stroke-width="1"/>
<line x1="377.30" y1="286.34" x2="377.30" y2="290.34" stroke="#E5B50C" stroke-width="1"/>
<line x1="423.80" y1="295.13" x2="423.80" y2="299.13" stroke="#E5B50C" stroke-width="1"/>
<line x1="459.20" y1="295.13" x2="459.20" y2="299.13" stroke="#E5B50C" stroke-width="1"/>
<line x1="540.20" y1="295.13" x2="540.20" y2="299.13" stroke="#E5B50C" stroke-width="1"/>
<path d="M296,267.25 L326.8,267.25 M310.3,267.25 L310.3,323.50 M326.8,267.25 L326.8,323.50" stroke="#222" stroke-width="0.8" stroke-dasharray="2.6,1.9" fill="none"/>
<line x1="283.8" y1="205.8" x2="283.8" y2="329.2" stroke="#555" stroke-width="1.1"/>
<line x1="283.8" y1="329.2" x2="548.5" y2="329.2" stroke="#555" stroke-width="1.1"/>
<line x1="281.8" y1="211.00" x2="283.8" y2="211.00" stroke="#333" stroke-width="0.8"/>
<text x="281.40" y="213.70" font-size="6.4" text-anchor="end" fill="#222"  stroke="#222" stroke-width="0.15">1.00</text>
<line x1="281.8" y1="239.12" x2="283.8" y2="239.12" stroke="#333" stroke-width="0.8"/>
<text x="281.40" y="241.82" font-size="6.4" text-anchor="end" fill="#222"  stroke="#222" stroke-width="0.15">0.75</text>
<line x1="281.8" y1="267.25" x2="283.8" y2="267.25" stroke="#333" stroke-width="0.8"/>
<text x="281.40" y="269.95" font-size="6.4" text-anchor="end" fill="#222"  stroke="#222" stroke-width="0.15">0.50</text>
<line x1="281.8" y1="295.38" x2="283.8" y2="295.38" stroke="#333" stroke-width="0.8"/>
<text x="281.40" y="298.07" font-size="6.4" text-anchor="end" fill="#222"  stroke="#222" stroke-width="0.15">0.25</text>
<line x1="281.8" y1="323.50" x2="283.8" y2="323.50" stroke="#333" stroke-width="0.8"/>
<text x="281.40" y="326.20" font-size="6.4" text-anchor="end" fill="#222"  stroke="#222" stroke-width="0.15">0.00</text>
<line x1="295.80" y1="329.2" x2="295.80" y2="331.2" stroke="#333" stroke-width="0.8"/>
<text x="295.80" y="337.50" font-size="6.4" text-anchor="middle" fill="#222"  stroke="#222" stroke-width="0.15">0</text>
<line x1="295.80" y1="385.5" x2="295.80" y2="387.5" stroke="#333" stroke-width="0.8"/>
<text x="295.80" y="393.00" font-size="6.4" text-anchor="middle" fill="#222"  stroke="#222" stroke-width="0.15">0</text>
<line x1="375.20" y1="329.2" x2="375.20" y2="331.2" stroke="#333" stroke-width="0.8"/>
<text x="375.20" y="337.50" font-size="6.4" text-anchor="middle" fill="#222"  stroke="#222" stroke-width="0.15">200</text>
<line x1="375.20" y1="385.5" x2="375.20" y2="387.5" stroke="#333" stroke-width="0.8"/>
<text x="375.20" y="393.00" font-size="6.4" text-anchor="middle" fill="#222"  stroke="#222" stroke-width="0.15">200</text>
<line x1="454.60" y1="329.2" x2="454.60" y2="331.2" stroke="#333" stroke-width="0.8"/>
<text x="454.60" y="337.50" font-size="6.4" text-anchor="middle" fill="#222"  stroke="#222" stroke-width="0.15">400</text>
<line x1="454.60" y1="385.5" x2="454.60" y2="387.5" stroke="#333" stroke-width="0.8"/>
<text x="454.60" y="393.00" font-size="6.4" text-anchor="middle" fill="#222"  stroke="#222" stroke-width="0.15">400</text>
<line x1="534.00" y1="329.2" x2="534.00" y2="331.2" stroke="#333" stroke-width="0.8"/>
<text x="534.00" y="337.50" font-size="6.4" text-anchor="middle" fill="#222"  stroke="#222" stroke-width="0.15">600</text>
<line x1="534.00" y1="385.5" x2="534.00" y2="387.5" stroke="#333" stroke-width="0.8"/>
<text x="534.00" y="393.00" font-size="6.4" text-anchor="middle" fill="#222"  stroke="#222" stroke-width="0.15">600</text>
<text x="300.90" y="304.40" font-size="7.5" text-anchor="start" fill="#444"  stroke="#444" stroke-width="0.15">p = 0.23</text>
<text transform="translate(258.8,327.3) rotate(-90)" font-size="10.7" stroke="#000" stroke-width="0.15">Progression-Free Survival</text>
<text x="228.40" y="198.60" font-size="11" text-anchor="start" fill="#000"  stroke="#000" stroke-width="0.15">E</text>
<text x="332.70" y="207.30" font-size="9.3" text-anchor="start" fill="#000"  stroke="#000" stroke-width="0.15">Strata</text>
<rect x="362.7" y="196.4" width="15.5" height="14.5" fill="#2176C7" fill-opacity="0.125"/>
<line x1="364.2" y1="203.1" x2="376.9" y2="203.1" stroke="#2176C7" stroke-width="1.6"/><line x1="370.5" y1="200.9" x2="370.5" y2="205.5" stroke="#2176C7" stroke-width="1"/>
<text x="383.30" y="206.40" font-size="9.3" text-anchor="start" fill="#000"  stroke="#000" stroke-width="0.15">group=high</text>
<rect x="435.5" y="196.4" width="15.5" height="14.5" fill="#E5B50C" fill-opacity="0.125"/>
<line x1="437" y1="203.1" x2="449.7" y2="203.1" stroke="#E5B50C" stroke-width="1.6"/><line x1="443.3" y1="200.9" x2="443.3" y2="205.5" stroke="#E5B50C" stroke-width="1"/>
<text x="456.00" y="206.40" font-size="9.3" text-anchor="start" fill="#000"  stroke="#000" stroke-width="0.15">group=low</text>
<text x="284.20" y="358.60" font-size="8.6" text-anchor="start" fill="#000"  stroke="#000" stroke-width="0.15">Number at risk</text>
<text transform="translate(259.5,382.2) rotate(-90)" font-size="10.8" stroke="#000" stroke-width="0.15">Strata</text>
<line x1="283.6" y1="364.3" x2="283.6" y2="385.5" stroke="#555" stroke-width="1.1"/>
<line x1="283.6" y1="385.5" x2="545.5" y2="385.5" stroke="#555" stroke-width="1.1"/>
<line x1="281.6" y1="369.2" x2="283.6" y2="369.2" stroke="#333" stroke-width="0.8"/>
<line x1="281.6" y1="379.4" x2="283.6" y2="379.4" stroke="#333" stroke-width="0.8"/>
<text x="281.30" y="371.60" font-size="6.6" text-anchor="end" fill="#2176C7"  stroke="#2176C7" stroke-width="0.15">high</text>
<text x="280.20" y="381.80" font-size="6.6" text-anchor="end" fill="#E9BE30"  stroke="#E9BE30" stroke-width="0.15">low</text>
<text x="295.80" y="371.60" font-size="6.6" text-anchor="middle" fill="#222"  stroke="#222" stroke-width="0.15">11</text>
<text x="295.80" y="381.80" font-size="6.6" text-anchor="middle" fill="#222"  stroke="#222" stroke-width="0.15">16</text>
<text x="375.20" y="371.60" font-size="6.6" text-anchor="middle" fill="#222"  stroke="#222" stroke-width="0.15">2</text>
<text x="375.20" y="381.80" font-size="6.6" text-anchor="middle" fill="#222"  stroke="#222" stroke-width="0.15">5</text>
<text x="454.60" y="371.60" font-size="6.6" text-anchor="middle" fill="#222"  stroke="#222" stroke-width="0.15">0</text>
<text x="454.60" y="381.80" font-size="6.6" text-anchor="middle" fill="#222"  stroke="#222" stroke-width="0.15">2</text>
<text x="534.00" y="371.60" font-size="6.6" text-anchor="middle" fill="#222"  stroke="#222" stroke-width="0.15">0</text>
<text x="534.00" y="381.80" font-size="6.6" text-anchor="middle" fill="#222"  stroke="#222" stroke-width="0.15">1</text>
<text x="404.00" y="400.60" font-size="10.1" text-anchor="start" fill="#000"  stroke="#000" stroke-width="0.15">Time</text>
</svg>
</body></html>
